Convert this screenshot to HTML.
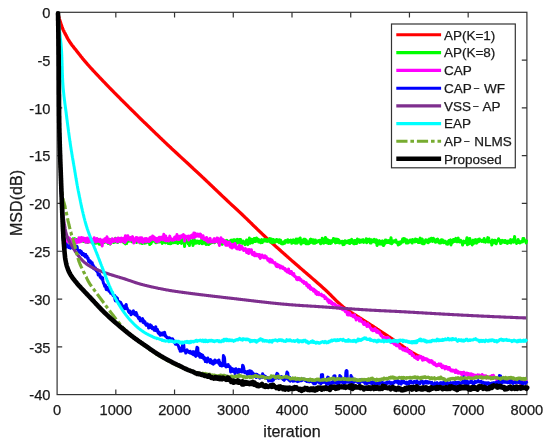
<!DOCTYPE html>
<html><head><meta charset="utf-8"><title>MSD</title>
<style>html,body{margin:0;padding:0;background:#fff}svg{display:block}text{font-family:"Liberation Sans",sans-serif;fill:#1a1a1a;stroke:#1a1a1a;stroke-width:0.25px}</style></head><body>
<svg width="550" height="446" viewBox="0 0 550 446">
<rect width="550" height="446" fill="#fff"/>
<g stroke="#333" stroke-width="1.2" fill="none">
<rect x="57.1" y="12.3" width="469.8" height="382.3"/>
<path d="M115.82,394.6 v-5.1 M115.82,12.3 v5.1"/>
<path d="M174.55,394.6 v-5.1 M174.55,12.3 v5.1"/>
<path d="M233.27,394.6 v-5.1 M233.27,12.3 v5.1"/>
<path d="M292.00,394.6 v-5.1 M292.00,12.3 v5.1"/>
<path d="M350.73,394.6 v-5.1 M350.73,12.3 v5.1"/>
<path d="M409.45,394.6 v-5.1 M409.45,12.3 v5.1"/>
<path d="M468.17,394.6 v-5.1 M468.17,12.3 v5.1"/>
<path d="M57.1,60.09 h5.1 M526.9,60.09 h-5.1"/>
<path d="M57.1,107.88 h5.1 M526.9,107.88 h-5.1"/>
<path d="M57.1,155.66 h5.1 M526.9,155.66 h-5.1"/>
<path d="M57.1,203.45 h5.1 M526.9,203.45 h-5.1"/>
<path d="M57.1,251.24 h5.1 M526.9,251.24 h-5.1"/>
<path d="M57.1,299.03 h5.1 M526.9,299.03 h-5.1"/>
<path d="M57.1,346.81 h5.1 M526.9,346.81 h-5.1"/>
</g>
<defs><clipPath id="c"><rect x="54.1" y="9.3" width="475.8" height="388.3"/></clipPath></defs>
<g fill="none" stroke-linejoin="round" stroke-linecap="butt" clip-path="url(#c)">
<path d="M57.8,13.1 L57.8,13.3 L57.9,13.7 L58.0,14.0 L58.1,14.4 L58.2,14.8 L58.3,15.3 L58.5,15.7 L58.6,16.2 L58.7,16.7 L58.9,17.1 L59.0,17.6 L59.2,18.1 L59.3,18.6 L59.4,19.0 L59.6,19.5 L59.7,20.0 L59.9,20.5 L60.0,21.0 L60.2,21.4 L60.3,21.9 L60.5,22.4 L60.6,22.9 L60.8,23.4 L60.9,23.8 L61.1,24.3 L61.2,24.8 L61.4,25.3 L61.6,25.7 L61.7,26.2 L61.9,26.7 L62.1,27.1 L62.2,27.6 L62.4,28.1 L62.6,28.5 L62.8,29.0 L63.0,29.4 L63.2,29.9 L63.4,30.3 L63.7,30.8 L63.9,31.2 L64.1,31.7 L64.3,32.1 L64.6,32.6 L64.8,33.0 L65.0,33.5 L65.2,33.9 L65.5,34.4 L65.7,34.8 L65.9,35.2 L66.2,35.7 L66.4,36.1 L66.6,36.6 L66.9,37.0 L67.1,37.5 L67.3,37.9 L67.6,38.3 L67.8,38.8 L68.1,39.2 L68.3,39.6 L68.6,40.1 L68.9,40.5 L69.1,40.9 L69.4,41.3 L69.7,41.8 L69.9,42.2 L70.2,42.6 L70.5,43.0 L70.8,43.4 L71.1,43.8 L71.3,44.2 L71.6,44.6 L71.9,45.0 L72.2,45.4 L72.5,45.8 L72.9,46.2 L73.2,46.6 L73.5,47.0 L73.8,47.4 L74.1,47.8 L74.4,48.2 L74.7,48.6 L75.0,49.0 L75.4,49.3 L75.7,49.7 L76.0,50.1 L76.3,50.5 L76.6,50.9 L76.9,51.3 L77.2,51.7 L77.5,52.1 L77.8,52.5 L78.2,52.9 L78.5,53.3 L78.8,53.7 L79.1,54.1 L79.4,54.4 L79.7,54.8 L80.0,55.2 L80.3,55.6 L80.6,56.0 L80.9,56.4 L81.2,56.8 L81.6,57.2 L81.9,57.6 L82.2,58.0 L82.5,58.4 L82.8,58.8 L83.1,59.1 L83.4,59.5 L83.8,59.9 L84.1,60.3 L84.4,60.7 L84.7,61.1 L85.1,61.4 L85.4,61.8 L85.7,62.2 L86.0,62.6 L86.4,62.9 L86.7,63.3 L87.0,63.7 L87.3,64.1 L87.7,64.5 L88.0,64.8 L88.3,65.2 L88.7,65.6 L89.0,65.9 L89.3,66.3 L89.7,66.7 L90.0,67.1 L90.3,67.4 L90.7,67.8 L91.0,68.2 L91.4,68.5 L91.7,68.9 L92.0,69.3 L92.4,69.6 L92.7,70.0 L93.0,70.4 L93.4,70.7 L93.7,71.1 L94.1,71.5 L94.4,71.8 L94.8,72.2 L95.1,72.6 L95.4,72.9 L95.8,73.3 L96.1,73.7 L96.5,74.0 L96.8,74.4 L97.1,74.8 L97.5,75.1 L97.8,75.5 L98.2,75.9 L98.5,76.2 L98.9,76.6 L99.2,77.0 L99.5,77.3 L99.9,77.7 L100.2,78.0 L100.6,78.4 L100.9,78.8 L101.3,79.1 L101.6,79.5 L102.0,79.9 L102.3,80.2 L102.6,80.6 L103.0,80.9 L103.3,81.3 L103.7,81.7 L104.0,82.0 L104.4,82.4 L104.7,82.7 L105.1,83.1 L105.4,83.5 L105.8,83.8 L106.1,84.2 L106.5,84.5 L106.8,84.9 L107.1,85.3 L107.5,85.6 L107.8,86.0 L108.2,86.3 L108.5,86.7 L108.9,87.1 L109.2,87.4 L109.6,87.8 L109.9,88.1 L110.3,88.5 L110.6,88.8 L111.0,89.2 L111.3,89.6 L111.7,89.9 L112.0,90.3 L112.4,90.6 L112.7,91.0 L113.1,91.3 L113.4,91.7 L113.8,92.1 L114.1,92.4 L114.5,92.8 L114.8,93.1 L115.2,93.5 L115.6,93.8 L115.9,94.2 L116.3,94.5 L116.6,94.9 L117.0,95.3 L117.3,95.6 L117.7,96.0 L118.0,96.3 L118.4,96.7 L118.7,97.0 L119.1,97.4 L119.4,97.7 L119.8,98.1 L120.1,98.4 L120.5,98.8 L120.8,99.2 L121.2,99.5 L121.5,99.9 L121.9,100.2 L122.3,100.6 L122.6,100.9 L123.0,101.3 L123.3,101.6 L123.7,102.0 L124.0,102.3 L124.4,102.7 L124.7,103.0 L125.1,103.4 L125.4,103.7 L125.8,104.1 L126.2,104.5 L126.5,104.8 L126.9,105.2 L127.2,105.5 L127.6,105.9 L127.9,106.2 L128.3,106.6 L128.6,106.9 L129.0,107.3 L129.3,107.6 L129.7,108.0 L130.1,108.3 L130.4,108.7 L130.8,109.0 L131.1,109.4 L131.5,109.7 L131.8,110.1 L132.2,110.4 L132.5,110.8 L132.9,111.1 L133.2,111.5 L133.6,111.8 L134.0,112.2 L134.3,112.5 L134.7,112.9 L135.0,113.3 L135.4,113.6 L135.7,114.0 L136.1,114.3 L136.5,114.7 L136.8,115.0 L137.2,115.4 L137.5,115.7 L137.9,116.1 L138.2,116.4 L138.6,116.8 L138.9,117.1 L139.3,117.5 L139.7,117.8 L140.0,118.2 L140.4,118.5 L140.7,118.9 L141.1,119.2 L141.4,119.6 L141.8,119.9 L142.2,120.3 L142.5,120.6 L142.9,121.0 L143.2,121.3 L143.6,121.7 L144.0,122.0 L144.3,122.4 L144.7,122.7 L145.0,123.0 L145.4,123.4 L145.7,123.7 L146.1,124.1 L146.5,124.4 L146.8,124.8 L147.2,125.1 L147.5,125.5 L147.9,125.8 L148.3,126.2 L148.6,126.5 L149.0,126.9 L149.3,127.2 L149.7,127.6 L150.1,127.9 L150.4,128.3 L150.8,128.6 L151.1,129.0 L151.5,129.3 L151.8,129.7 L152.2,130.0 L152.6,130.4 L152.9,130.7 L153.3,131.1 L153.6,131.4 L154.0,131.7 L154.4,132.1 L154.7,132.4 L155.1,132.8 L155.4,133.1 L155.8,133.5 L156.2,133.8 L156.5,134.2 L156.9,134.5 L157.3,134.9 L157.6,135.2 L158.0,135.6 L158.3,135.9 L158.7,136.2 L159.1,136.6 L159.4,136.9 L159.8,137.3 L160.1,137.6 L160.5,138.0 L160.9,138.3 L161.2,138.7 L161.6,139.0 L162.0,139.4 L162.3,139.7 L162.7,140.0 L163.0,140.4 L163.4,140.7 L163.8,141.1 L164.1,141.4 L164.5,141.8 L164.8,142.1 L165.2,142.5 L165.6,142.8 L165.9,143.1 L166.3,143.5 L166.7,143.8 L167.0,144.2 L167.4,144.5 L167.7,144.9 L168.1,145.2 L168.5,145.6 L168.8,145.9 L169.2,146.2 L169.6,146.6 L169.9,146.9 L170.3,147.3 L170.7,147.6 L171.0,148.0 L171.4,148.3 L171.7,148.6 L172.1,149.0 L172.5,149.3 L172.8,149.7 L173.2,150.0 L173.6,150.3 L173.9,150.7 L174.3,151.0 L174.7,151.4 L175.0,151.7 L175.4,152.1 L175.8,152.4 L176.1,152.7 L176.5,153.1 L176.9,153.4 L177.2,153.7 L177.6,154.1 L178.0,154.4 L178.3,154.8 L178.7,155.1 L179.1,155.4 L179.4,155.8 L179.8,156.1 L180.2,156.5 L180.6,156.8 L180.9,157.1 L181.3,157.5 L181.7,157.8 L182.0,158.1 L182.4,158.5 L182.8,158.8 L183.1,159.2 L183.5,159.5 L183.9,159.8 L184.2,160.2 L184.6,160.5 L185.0,160.9 L185.3,161.2 L185.7,161.5 L186.1,161.9 L186.4,162.2 L186.8,162.6 L187.2,162.9 L187.5,163.2 L187.9,163.6 L188.3,163.9 L188.6,164.2 L189.0,164.6 L189.4,164.9 L189.7,165.3 L190.1,165.6 L190.5,165.9 L190.8,166.3 L191.2,166.6 L191.6,167.0 L191.9,167.3 L192.3,167.6 L192.7,168.0 L193.0,168.3 L193.4,168.7 L193.8,169.0 L194.1,169.4 L194.5,169.7 L194.9,170.0 L195.2,170.4 L195.6,170.7 L196.0,171.1 L196.3,171.4 L196.7,171.7 L197.1,172.1 L197.4,172.4 L197.8,172.8 L198.2,173.1 L198.5,173.4 L198.9,173.8 L199.3,174.1 L199.6,174.5 L200.0,174.8 L200.4,175.1 L200.7,175.5 L201.1,175.8 L201.5,176.2 L201.8,176.5 L202.2,176.9 L202.5,177.2 L202.9,177.5 L203.3,177.9 L203.6,178.2 L204.0,178.6 L204.4,178.9 L204.7,179.3 L205.1,179.6 L205.5,179.9 L205.8,180.3 L206.2,180.6 L206.6,181.0 L206.9,181.3 L207.3,181.7 L207.6,182.0 L208.0,182.3 L208.4,182.7 L208.7,183.0 L209.1,183.4 L209.5,183.7 L209.8,184.1 L210.2,184.4 L210.5,184.8 L210.9,185.1 L211.3,185.4 L211.6,185.8 L212.0,186.1 L212.3,186.5 L212.7,186.8 L213.1,187.2 L213.4,187.5 L213.8,187.9 L214.2,188.2 L214.5,188.6 L214.9,188.9 L215.2,189.3 L215.6,189.6 L216.0,189.9 L216.3,190.3 L216.7,190.6 L217.0,191.0 L217.4,191.3 L217.8,191.7 L218.1,192.0 L218.5,192.4 L218.8,192.7 L219.2,193.1 L219.6,193.4 L219.9,193.7 L220.3,194.1 L220.7,194.4 L221.0,194.8 L221.4,195.1 L221.7,195.5 L222.1,195.8 L222.5,196.2 L222.8,196.5 L223.2,196.8 L223.6,197.2 L223.9,197.5 L224.3,197.9 L224.6,198.2 L225.0,198.6 L225.4,198.9 L225.7,199.2 L226.1,199.6 L226.5,199.9 L226.8,200.3 L227.2,200.6 L227.6,201.0 L227.9,201.3 L228.3,201.6 L228.7,202.0 L229.0,202.3 L229.4,202.7 L229.8,203.0 L230.1,203.3 L230.5,203.7 L230.9,204.0 L231.2,204.4 L231.6,204.7 L232.0,205.0 L232.3,205.4 L232.7,205.7 L233.1,206.1 L233.4,206.4 L233.8,206.7 L234.2,207.1 L234.5,207.4 L234.9,207.8 L235.3,208.1 L235.6,208.4 L236.0,208.8 L236.4,209.1 L236.7,209.5 L237.1,209.8 L237.5,210.1 L237.8,210.5 L238.2,210.8 L238.6,211.2 L238.9,211.5 L239.3,211.8 L239.7,212.2 L240.0,212.5 L240.4,212.9 L240.7,213.2 L241.1,213.6 L241.5,213.9 L241.8,214.2 L242.2,214.6 L242.6,214.9 L242.9,215.3 L243.3,215.6 L243.6,216.0 L244.0,216.3 L244.4,216.7 L244.7,217.0 L245.1,217.4 L245.4,217.7 L245.8,218.0 L246.2,218.4 L246.5,218.7 L246.9,219.1 L247.2,219.4 L247.6,219.8 L248.0,220.1 L248.3,220.5 L248.7,220.8 L249.0,221.2 L249.4,221.5 L249.8,221.9 L250.1,222.2 L250.5,222.6 L250.8,222.9 L251.2,223.3 L251.6,223.6 L251.9,224.0 L252.3,224.3 L252.6,224.7 L253.0,225.0 L253.3,225.4 L253.7,225.7 L254.1,226.1 L254.4,226.4 L254.8,226.8 L255.1,227.1 L255.5,227.4 L255.9,227.8 L256.2,228.1 L256.6,228.5 L256.9,228.8 L257.3,229.2 L257.7,229.5 L258.0,229.9 L258.4,230.2 L258.7,230.6 L259.1,230.9 L259.5,231.3 L259.8,231.6 L260.2,232.0 L260.5,232.3 L260.9,232.6 L261.3,233.0 L261.6,233.3 L262.0,233.7 L262.4,234.0 L262.7,234.4 L263.1,234.7 L263.4,235.1 L263.8,235.4 L264.2,235.7 L264.5,236.1 L264.9,236.4 L265.3,236.8 L265.6,237.1 L266.0,237.5 L266.4,237.8 L266.7,238.1 L267.1,238.5 L267.5,238.8 L267.8,239.2 L268.2,239.5 L268.6,239.8 L268.9,240.2 L269.3,240.5 L269.7,240.8 L270.0,241.2 L270.4,241.5 L270.8,241.9 L271.1,242.2 L271.5,242.5 L271.9,242.9 L272.3,243.2 L272.6,243.5 L273.0,243.9 L273.4,244.2 L273.7,244.5 L274.1,244.9 L274.5,245.2 L274.9,245.5 L275.2,245.9 L275.6,246.2 L276.0,246.5 L276.3,246.9 L276.7,247.2 L277.1,247.5 L277.5,247.9 L277.8,248.2 L278.2,248.5 L278.6,248.9 L279.0,249.2 L279.3,249.5 L279.7,249.9 L280.1,250.2 L280.4,250.5 L280.8,250.9 L281.2,251.2 L281.6,251.5 L281.9,251.9 L282.3,252.2 L282.7,252.5 L283.1,252.9 L283.4,253.2 L283.8,253.5 L284.2,253.9 L284.6,254.2 L284.9,254.5 L285.3,254.9 L285.7,255.2 L286.1,255.5 L286.4,255.8 L286.8,256.2 L287.2,256.5 L287.6,256.8 L287.9,257.2 L288.3,257.5 L288.7,257.8 L289.1,258.2 L289.4,258.5 L289.8,258.8 L290.2,259.2 L290.6,259.5 L290.9,259.8 L291.3,260.2 L291.7,260.5 L292.1,260.8 L292.4,261.1 L292.8,261.5 L293.2,261.8 L293.6,262.1 L293.9,262.5 L294.3,262.8 L294.7,263.1 L295.1,263.4 L295.4,263.8 L295.8,264.1 L296.2,264.4 L296.6,264.8 L297.0,265.1 L297.3,265.4 L297.7,265.7 L298.1,266.1 L298.5,266.4 L298.8,266.7 L299.2,267.1 L299.6,267.4 L300.0,267.7 L300.4,268.0 L300.7,268.4 L301.1,268.7 L301.5,269.0 L301.9,269.3 L302.3,269.7 L302.6,270.0 L303.0,270.3 L303.4,270.6 L303.8,271.0 L304.1,271.3 L304.5,271.6 L304.9,272.0 L305.3,272.3 L305.7,272.6 L306.0,272.9 L306.4,273.3 L306.8,273.6 L307.2,273.9 L307.6,274.2 L307.9,274.6 L308.3,274.9 L308.7,275.2 L309.1,275.5 L309.5,275.9 L309.8,276.2 L310.2,276.5 L310.6,276.9 L311.0,277.2 L311.3,277.5 L311.7,277.8 L312.1,278.2 L312.5,278.5 L312.9,278.8 L313.2,279.1 L313.6,279.5 L314.0,279.8 L314.4,280.1 L314.7,280.5 L315.1,280.8 L315.5,281.1 L315.9,281.4 L316.2,281.8 L316.6,282.1 L317.0,282.4 L317.4,282.8 L317.7,283.1 L318.1,283.4 L318.5,283.8 L318.9,284.1 L319.2,284.4 L319.6,284.7 L320.0,285.1 L320.4,285.4 L320.7,285.7 L321.1,286.1 L321.5,286.4 L321.9,286.7 L322.2,287.1 L322.6,287.4 L323.0,287.7 L323.3,288.1 L323.7,288.4 L324.1,288.8 L324.5,289.1 L324.8,289.4 L325.2,289.8 L325.6,290.1 L325.9,290.4 L326.3,290.8 L326.7,291.1 L327.0,291.5 L327.4,291.8 L327.8,292.2 L328.1,292.5 L328.5,292.9 L328.8,293.2 L329.2,293.6 L329.5,293.9 L329.9,294.3 L330.3,294.6 L330.6,295.0 L331.0,295.3 L331.3,295.7 L331.7,296.0 L332.0,296.4 L332.4,296.8 L332.7,297.1 L333.1,297.5 L333.5,297.8 L333.8,298.2 L334.2,298.5 L334.5,298.9 L334.9,299.2 L335.2,299.6 L335.6,300.0 L335.9,300.3 L336.3,300.7 L336.7,301.0 L337.0,301.4 L337.4,301.7 L337.7,302.1 L338.1,302.4 L338.5,302.7 L338.8,303.1 L339.2,303.4 L339.6,303.8 L339.9,304.1 L340.3,304.4 L340.7,304.8 L341.0,305.1 L341.4,305.4 L341.8,305.7 L342.2,306.0 L342.6,306.4 L342.9,306.7 L343.3,307.0 L343.7,307.3 L344.1,307.6 L344.5,307.9 L344.9,308.2 L345.3,308.5 L345.7,308.8 L346.1,309.1 L346.5,309.4 L346.9,309.6 L347.3,309.9 L347.7,310.2 L348.1,310.5 L348.5,310.8 L349.0,311.0 L349.4,311.3 L349.8,311.6 L350.2,311.9 L350.6,312.1 L351.1,312.4 L351.5,312.7 L351.9,312.9 L352.3,313.2 L352.8,313.5 L353.2,313.7 L353.6,314.0 L354.0,314.3 L354.5,314.5 L354.9,314.8 L355.3,315.1 L355.8,315.3 L356.2,315.6 L356.6,315.9 L357.0,316.1 L357.5,316.4 L357.9,316.7 L358.3,316.9 L358.7,317.2 L359.2,317.5 L359.6,317.7 L360.0,318.0 L360.4,318.3 L360.8,318.5 L361.3,318.8 L361.7,319.1 L362.1,319.4 L362.5,319.6 L362.9,319.9 L363.4,320.2 L363.8,320.4 L364.2,320.7 L364.6,321.0 L365.1,321.2 L365.5,321.5 L365.9,321.8 L366.3,322.0 L366.7,322.3 L367.2,322.6 L367.6,322.8 L368.0,323.1 L368.4,323.4 L368.8,323.7 L369.3,323.9 L369.7,324.2 L370.1,324.5 L370.5,324.7 L370.9,325.0 L371.4,325.3 L371.8,325.6 L372.2,325.8 L372.6,326.1 L373.0,326.4 L373.5,326.6 L373.9,326.9 L374.3,327.2 L374.7,327.5 L375.1,327.7 L375.6,328.0 L376.0,328.3 L376.4,328.6 L376.8,328.8 L377.2,329.1 L377.7,329.4 L378.1,329.6 L378.5,329.9 L378.9,330.2 L379.3,330.5 L379.8,330.7 L380.2,331.0 L380.6,331.3 L381.0,331.6 L381.4,331.8 L381.8,332.1 L382.3,332.4 L382.7,332.7 L383.1,332.9 L383.5,333.2 L383.9,333.5 L384.4,333.8 L384.8,334.0 L385.2,334.3 L385.6,334.6 L386.0,334.9 L386.4,335.1 L386.9,335.4 L387.3,335.7 L387.7,336.0 L388.1,336.2 L388.5,336.5 L388.9,336.8 L389.4,337.1 L389.8,337.3 L390.2,337.6 L390.6,337.9 L391.0,338.2 L391.4,338.4 L391.9,338.7 L392.3,339.0 L392.7,339.3 L393.1,339.5 L393.5,339.8 L393.9,340.1 L394.4,340.4 L394.8,340.7 L395.2,340.9 L395.6,341.2 L396.0,341.5 L396.4,341.8 L396.8,342.1 L397.2,342.4 L397.7,342.7 L398.1,342.9 L398.5,343.2 L398.9,343.5 L399.3,343.8 L399.7,344.1 L400.1,344.4 L400.5,344.7 L400.9,345.0 L401.3,345.3 L401.7,345.5 L402.2,345.8 L402.6,346.1 L403.0,346.4 L403.4,346.7 L403.8,347.0 L404.2,347.3 L404.6,347.6 L405.0,347.8 L405.4,348.1 L405.9,348.4 L406.3,348.7 L406.7,349.0 L407.1,349.3 L407.5,349.5 L407.9,349.8 L408.3,350.1 L408.8,350.4 L409.2,350.6 L409.6,350.9 L410.0,351.2 L410.4,351.4 L410.9,351.7 L411.3,352.0 L411.7,352.2 L412.1,352.5 L412.6,352.7 L413.0,353.0 L413.4,353.3 L413.8,353.5 L414.3,353.8 L414.7,354.0 L415.1,354.2 L415.6,354.5 L416.0,354.7 L416.5,355.0 L416.9,355.2 L417.3,355.4 L417.8,355.7 L418.2,355.9 L418.7,356.1 L419.1,356.4 L419.6,356.6 L420.0,356.8 L420.5,357.0 L420.9,357.3 L421.3,357.5 L421.8,357.7" stroke="#ff0000" stroke-width="3.3"/>
<path d="M421.3,357.8 L421.8,358.0 L422.2,358.2 L422.7,358.5 L423.1,358.7 L423.6,358.9 L424.1,359.1 L424.5,359.3 L425.0,359.5 L425.4,359.7 L425.9,360.0 L426.3,360.2 L426.8,360.4 L427.2,360.6 L427.7,360.8 L428.1,361.0 L428.6,361.2 L429.0,361.4 L429.5,361.6 L430.0,361.8 L430.4,362.0 L430.9,362.2 L431.3,362.4 L431.8,362.6 L432.3,362.8 L432.7,363.0 L433.2,363.2 L433.6,363.4 L434.1,363.6 L434.6,363.8 L435.0,364.0 L435.5,364.2 L435.9,364.4 L436.4,364.5 L436.9,364.7 L437.3,364.9 L437.8,365.1 L438.3,365.3 L438.7,365.5 L439.2,365.6 L439.7,365.8 L440.1,366.0 L440.6,366.2 L441.1,366.4 L441.5,366.5 L442.0,366.7 L442.5,366.9 L442.9,367.1 L443.4,367.3 L443.9,367.4 L444.4,367.6 L444.8,367.8 L445.3,367.9 L445.8,368.1 L446.2,368.3 L446.7,368.4 L447.2,368.6 L447.7,368.7 L448.1,368.9 L448.6,369.0 L449.1,369.2 L449.6,369.3 L450.0,369.5 L450.5,369.6 L451.0,369.7 L451.5,369.9 L452.0,370.0 L452.5,370.1 L452.9,370.2 L453.4,370.4 L453.9,370.5 L454.4,370.6 L454.9,370.7 L455.4,370.8 L455.9,370.9 L456.3,371.0 L456.8,371.1 L457.3,371.2 L457.8,371.3 L458.3,371.5 L458.8,371.6 L459.3,371.7 L459.8,371.8 L460.3,371.9 L460.8,372.0 L461.2,372.1 L461.7,372.2 L462.2,372.3 L462.7,372.4 L463.2,372.5 L463.7,372.6 L464.2,372.7 L464.7,372.8 L465.2,372.9 L465.7,373.0 L466.1,373.1 L466.6,373.2 L467.1,373.3 L467.6,373.4 L468.1,373.5 L468.6,373.6 L469.1,373.7 L469.6,373.8 L470.1,373.9 L470.5,374.0 L471.0,374.1 L471.5,374.2 L472.0,374.3 L472.5,374.4 L473.0,374.5 L473.5,374.6 L474.0,374.7 L474.5,374.8 L475.0,374.9 L475.4,375.0 L475.9,375.1 L476.4,375.2 L476.9,375.2 L477.4,375.3 L477.9,375.4 L478.4,375.5 L478.9,375.6 L479.4,375.7 L479.9,375.7 L480.4,375.8 L480.9,375.9 L481.4,376.0 L481.9,376.1 L482.4,376.1 L482.8,376.2 L483.3,376.3 L483.8,376.4 L484.3,376.4 L484.8,376.5 L485.3,376.6 L485.8,376.7 L486.3,376.7 L486.8,376.8 L487.3,376.9 L487.8,377.0 L488.3,377.0 L488.8,377.1 L489.3,377.2 L489.8,377.3 L490.3,377.3 L490.8,377.4 L491.3,377.5 L491.7,377.6 L492.2,377.6 L492.7,377.7 L493.2,377.8 L493.7,377.9 L494.2,377.9 L494.7,378.0 L495.2,378.1 L495.7,378.2 L496.2,378.2 L496.7,378.3 L497.2,378.4 L497.7,378.5 L498.2,378.5 L498.7,378.6 L499.2,378.7 L499.7,378.8 L500.1,378.9 L500.6,378.9 L501.1,379.0 L501.6,379.1 L502.1,379.2 L502.6,379.3 L503.1,379.4 L503.6,379.5 L504.1,379.6 L504.6,379.7 L505.1,379.8 L505.5,379.9 L506.0,380.0 L506.5,380.1 L507.0,380.2 L507.5,380.3 L508.0,380.5 L508.5,380.6 L509.0,380.7 L509.5,380.8 L509.9,380.9 L510.4,381.0 L510.9,381.1 L511.4,381.2 L511.9,381.3 L512.4,381.4 L512.9,381.5 L513.4,381.5 L513.9,381.6 L514.4,381.7 L514.9,381.8 L515.4,381.8 L515.8,381.9 L516.3,381.9 L516.8,382.0 L517.3,382.1 L517.8,382.1 L518.3,382.2 L518.8,382.2 L519.3,382.3 L519.8,382.3 L520.3,382.4 L520.8,382.4 L521.3,382.4 L521.8,382.5 L522.3,382.5 L522.8,382.6 L523.3,382.6 L523.8,382.6 L524.2,382.7 L524.7,382.7 L525.1,382.7 L525.5,382.7 L525.8,382.7 L526.1,382.8 L526.3,382.8" stroke="#ff0000" stroke-width="1.6"/>
<path d="M58.2,12.3 L58.6,50.0 L59.2,120.0 L61.2,190.0 L62.3,215.0 L63.0,236.0 L63.4,240.6 L63.8,242.2 L64.2,242.1 L64.6,239.9 L65.0,240.1 L65.4,239.8 L65.8,241.1 L66.2,240.3 L66.6,241.2 L67.0,237.9 L67.4,242.3 L67.8,240.4 L68.2,241.6 L68.6,240.9 L69.0,241.0 L69.4,242.4 L69.8,243.1 L70.2,242.0 L70.6,242.2 L71.0,243.3 L71.4,241.3 L71.8,240.3 L72.2,242.4 L72.6,240.7 L73.0,238.8 L73.4,239.8 L73.8,240.0 L74.2,239.0 L74.6,238.7 L75.0,240.6 L75.4,241.8 L75.8,240.3 L76.2,239.6 L76.6,241.0 L77.0,241.3 L77.4,239.9 L77.8,240.9 L78.2,241.4 L78.6,239.8 L79.0,239.0 L79.4,240.5 L79.8,240.5 L80.2,241.7 L80.6,238.8 L81.0,239.7 L81.4,239.5 L81.8,238.3 L82.2,240.5 L82.6,240.8 L83.0,239.1 L83.4,241.6 L83.8,240.9 L84.2,240.8 L84.6,240.7 L85.0,241.6 L85.4,239.0 L85.8,241.7 L86.2,241.9 L86.6,239.1 L87.0,241.9 L87.4,241.2 L87.8,242.5 L88.2,240.9 L88.6,241.3 L89.0,241.6 L89.4,239.9 L89.8,241.6 L90.2,240.6 L90.6,241.2 L91.0,240.0 L91.4,242.1 L91.8,241.7 L92.2,240.9 L92.6,242.3 L93.0,243.4 L93.4,244.3 L93.8,240.2 L94.2,243.3 L94.6,242.7 L95.0,241.9 L95.4,240.6 L95.8,243.3 L96.2,240.0 L96.6,242.1 L97.0,243.0 L97.4,239.3 L97.8,241.0 L98.2,239.8 L98.6,241.8 L99.0,243.5 L99.4,244.3 L99.8,239.6 L100.2,241.2 L100.6,242.9 L101.0,244.2 L101.4,242.9 L101.8,241.6 L102.2,242.9 L102.6,242.6 L103.0,242.2 L103.4,241.4 L103.8,242.6 L104.2,242.2 L104.6,241.4 L105.0,240.9 L105.4,239.2 L105.8,240.0 L106.2,241.9 L106.6,240.0 L107.0,238.4 L107.4,242.0 L107.8,241.2 L108.2,243.4 L108.6,241.0 L109.0,240.5 L109.4,239.3 L109.8,242.7 L110.2,244.1 L110.6,239.7 L111.0,239.7 L111.4,241.2 L111.8,239.5 L112.2,240.3 L112.6,240.4 L113.0,241.3 L113.4,242.5 L113.8,241.2 L114.2,242.3 L114.6,240.6 L115.0,241.4 L115.4,238.3 L115.8,239.1 L116.2,241.9 L116.6,240.2 L117.0,241.6 L117.4,241.6 L117.8,242.5 L118.2,241.8 L118.6,241.8 L119.0,240.3 L119.4,239.4 L119.8,239.3 L120.2,239.6 L120.6,238.9 L121.0,239.8 L121.4,240.6 L121.8,241.2 L122.2,240.7 L122.6,238.9 L123.0,241.3 L123.4,241.7 L123.8,242.8 L124.2,242.2 L124.6,240.7 L125.0,240.6 L125.4,243.9 L125.8,242.2 L126.2,243.3 L126.6,243.5 L127.0,239.6 L127.4,240.9 L127.8,241.0 L128.2,241.2 L128.6,241.3 L129.0,241.0 L129.4,241.0 L129.8,239.0 L130.2,240.7 L130.6,240.0 L131.0,241.1 L131.4,240.3 L131.8,241.6 L132.2,241.8 L132.6,241.0 L133.0,240.9 L133.4,240.5 L133.8,239.8 L134.2,240.1 L134.6,239.8 L135.0,241.1 L135.4,240.8 L135.8,241.7 L136.2,239.6 L136.6,242.5 L137.0,240.6 L137.4,240.6 L137.8,241.2 L138.2,240.7 L138.6,241.7 L139.0,240.6 L139.4,240.0 L139.8,240.3 L140.2,242.9 L140.6,241.2 L141.0,239.7 L141.4,241.1 L141.8,239.2 L142.2,243.5 L142.6,239.5 L143.0,242.2 L143.4,242.4 L143.8,240.0 L144.2,242.3 L144.6,243.2 L145.0,242.5 L145.4,242.2 L145.8,243.0 L146.2,241.8 L146.6,241.9 L147.0,241.2 L147.4,242.0 L147.8,240.0 L148.2,242.3 L148.6,240.9 L149.0,240.5 L149.4,242.7 L149.8,244.6 L150.2,243.9 L150.6,242.2 L151.0,243.6 L151.4,241.9 L151.8,242.0 L152.2,241.9 L152.6,238.4 L153.0,241.2 L153.4,239.3 L153.8,239.5 L154.2,238.4 L154.6,238.3 L155.0,239.2 L155.4,241.6 L155.8,242.8 L156.2,241.0 L156.6,242.6 L157.0,241.1 L157.4,239.1 L157.8,241.7 L158.2,242.0 L158.6,240.8 L159.0,241.6 L159.4,241.9 L159.8,240.0 L160.2,239.2 L160.6,240.7 L161.0,240.8 L161.4,240.7 L161.8,242.5 L162.2,243.4 L162.6,240.7 L163.0,242.1 L163.4,242.3 L163.8,241.9 L164.2,242.1 L164.6,240.2 L165.0,241.5 L165.4,242.9 L165.8,241.3 L166.2,239.5 L166.6,241.1 L167.0,242.2 L167.4,241.4 L167.8,240.6 L168.2,243.5 L168.6,240.2 L169.0,242.5 L169.4,241.9 L169.8,240.5 L170.2,243.7 L170.6,242.7 L171.0,241.0 L171.4,243.4 L171.8,242.2 L172.2,240.2 L172.6,241.6 L173.0,242.5 L173.4,242.7 L173.8,241.9 L174.2,241.5 L174.6,241.9 L175.0,240.9 L175.4,242.6 L175.8,241.4 L176.2,241.6 L176.6,242.0 L177.0,240.1 L177.4,240.7 L177.8,243.6 L178.2,242.2 L178.6,241.5 L179.0,242.4 L179.4,241.4 L179.8,242.4 L180.2,241.2 L180.6,242.3 L181.0,239.9 L181.4,243.4 L181.8,241.0 L182.2,239.5 L182.6,241.2 L183.0,241.1 L183.4,241.9 L183.8,240.4 L184.2,242.4 L184.6,246.5 L185.0,240.4 L185.4,242.4 L185.8,241.6 L186.2,242.1 L186.6,239.5 L187.0,240.2 L187.4,242.1 L187.8,241.5 L188.2,243.7 L188.6,240.9 L189.0,242.1 L189.4,245.6 L189.8,241.0 L190.2,240.7 L190.6,241.7 L191.0,241.6 L191.4,242.7 L191.8,241.9 L192.2,240.9 L192.6,242.3 L193.0,245.5 L193.4,243.8 L193.8,238.7 L194.2,241.8 L194.6,240.5 L195.0,242.1 L195.4,240.8 L195.8,243.2 L196.2,241.9 L196.6,241.9 L197.0,241.2 L197.4,241.1 L197.8,241.7 L198.2,243.0 L198.6,242.1 L199.0,241.2 L199.4,243.4 L199.8,242.2 L200.2,242.0 L200.6,241.3 L201.0,241.7 L201.4,241.7 L201.8,239.1 L202.2,243.8 L202.6,243.1 L203.0,241.9 L203.4,243.3 L203.8,242.3 L204.2,242.1 L204.6,238.5 L205.0,241.4 L205.4,242.5 L205.8,244.0 L206.2,244.5 L206.6,244.3 L207.0,241.2 L207.4,240.1 L207.8,243.7 L208.2,243.2 L208.6,244.5 L209.0,243.1 L209.4,243.5 L209.8,241.2 L210.2,243.4 L210.6,242.1 L211.0,242.8 L211.4,242.7 L211.8,241.9 L212.2,242.3 L212.6,241.7 L213.0,242.5 L213.4,241.9 L213.8,240.4 L214.2,240.1 L214.6,242.8 L215.0,240.4 L215.4,241.8 L215.8,241.1 L216.2,240.0 L216.6,239.9 L217.0,241.2 L217.4,241.5 L217.8,242.1 L218.2,239.9 L218.6,240.9 L219.0,241.7 L219.4,244.0 L219.8,239.3 L220.2,242.9 L220.6,241.8 L221.0,243.1 L221.4,241.9 L221.8,243.0 L222.2,244.4 L222.6,242.7 L223.0,242.7 L223.4,242.5 L223.8,241.1 L224.2,242.6 L224.6,241.5 L225.0,240.7 L225.4,241.4 L225.8,241.0 L226.2,242.1 L226.6,241.0 L227.0,240.4 L227.4,242.9 L227.8,242.5 L228.2,243.0 L228.6,242.3 L229.0,241.5 L229.4,241.3 L229.8,241.5 L230.2,243.2 L230.6,242.2 L231.0,240.2 L231.4,242.0 L231.8,240.2 L232.2,242.1 L232.6,240.2 L233.0,240.1 L233.4,241.8 L233.8,241.6 L234.2,239.7 L234.6,242.7 L235.0,244.5 L235.4,239.9 L235.8,244.0 L236.2,240.8 L236.6,240.9 L237.0,241.1 L237.4,239.4 L237.8,242.7 L238.2,241.6 L238.6,240.2 L239.0,240.9 L239.4,239.5 L239.8,241.2 L240.2,242.9 L240.6,239.6 L241.0,241.2 L241.4,241.9 L241.8,243.1 L242.2,243.4 L242.6,241.2 L243.0,241.0 L243.4,242.6 L243.8,241.7 L244.2,241.9 L244.6,243.8 L245.0,244.6 L245.4,242.9 L245.8,242.3 L246.2,243.2 L246.6,240.0 L247.0,242.1 L247.4,240.6 L247.8,244.7 L248.2,242.4 L248.6,241.5 L249.0,241.0 L249.4,238.1 L249.8,242.1 L250.2,243.3 L250.6,240.4 L251.0,242.1 L251.4,242.1 L251.8,239.2 L252.2,242.2 L252.6,242.6 L253.0,241.1 L253.4,240.6 L253.8,241.5 L254.2,238.4 L254.6,240.3 L255.0,241.5 L255.4,238.6 L255.8,241.5 L256.2,239.9 L256.6,237.9 L257.0,240.5 L257.4,239.5 L257.8,241.1 L258.2,239.2 L258.6,242.0 L259.0,239.8 L259.4,241.2 L259.8,240.2 L260.2,240.7 L260.6,242.7 L261.0,241.5 L261.4,240.7 L261.8,239.6 L262.2,242.6 L262.6,242.0 L263.0,240.6 L263.4,241.2 L263.8,239.6 L264.2,239.5 L264.6,239.6 L265.0,241.0 L265.4,240.8 L265.8,239.5 L266.2,241.2 L266.6,241.2 L267.0,240.4 L267.4,241.4 L267.8,239.7 L268.2,239.9 L268.6,240.6 L269.0,240.0 L269.4,241.1 L269.8,238.6 L270.2,242.0 L270.6,239.4 L271.0,240.3 L271.4,239.0 L271.8,241.7 L272.2,242.7 L272.6,242.7 L273.0,242.5 L273.4,239.6 L273.8,240.5 L274.2,240.8 L274.6,240.0 L275.0,242.3 L275.4,241.0 L275.8,240.6 L276.2,241.2 L276.6,239.5 L277.0,239.6 L277.4,239.8 L277.8,241.6 L278.2,241.5 L278.6,241.9 L279.0,242.6 L279.4,239.7 L279.8,240.9 L280.2,241.9 L280.6,240.3 L281.0,241.5 L281.4,243.6 L281.8,243.8 L282.2,243.9 L282.6,242.7 L283.0,242.3 L283.4,243.8 L283.8,241.8 L284.2,242.4 L284.6,243.3 L285.0,241.0 L285.4,240.5 L285.8,241.2 L286.2,242.0 L286.6,241.9 L287.0,241.6 L287.4,242.3 L287.8,239.8 L288.2,240.9 L288.6,242.3 L289.0,241.0 L289.4,240.5 L289.8,240.5 L290.2,240.7 L290.6,241.4 L291.0,240.1 L291.4,241.6 L291.8,243.3 L292.2,241.0 L292.6,242.8 L293.0,241.6 L293.4,239.9 L293.8,241.1 L294.2,240.3 L294.6,242.5 L295.0,240.2 L295.4,243.2 L295.8,242.3 L296.2,238.9 L296.6,242.3 L297.0,243.2 L297.4,240.2 L297.8,242.4 L298.2,238.9 L298.6,241.5 L299.0,239.1 L299.4,241.9 L299.8,239.1 L300.2,238.0 L300.6,241.8 L301.0,244.1 L301.4,240.4 L301.8,242.1 L302.2,241.0 L302.6,240.4 L303.0,241.5 L303.4,242.7 L303.8,239.2 L304.2,241.5 L304.6,241.4 L305.0,239.2 L305.4,243.1 L305.8,243.6 L306.2,240.1 L306.6,243.7 L307.0,241.7 L307.4,241.6 L307.8,243.8 L308.2,242.2 L308.6,242.2 L309.0,243.6 L309.4,243.1 L309.8,242.5 L310.2,239.5 L310.6,239.2 L311.0,242.6 L311.4,240.1 L311.8,241.4 L312.2,239.9 L312.6,241.0 L313.0,239.7 L313.4,243.3 L313.8,240.1 L314.2,241.3 L314.6,241.3 L315.0,243.2 L315.4,240.0 L315.8,241.8 L316.2,241.5 L316.6,242.4 L317.0,242.2 L317.4,241.0 L317.8,241.7 L318.2,240.8 L318.6,241.8 L319.0,241.0 L319.4,240.3 L319.8,241.0 L320.2,241.4 L320.6,243.8 L321.0,240.3 L321.4,241.3 L321.8,242.8 L322.2,238.3 L322.6,238.7 L323.0,239.2 L323.4,240.3 L323.8,243.2 L324.2,240.5 L324.6,241.5 L325.0,239.9 L325.4,237.5 L325.8,238.0 L326.2,242.5 L326.6,241.7 L327.0,240.0 L327.4,243.1 L327.8,239.8 L328.2,243.1 L328.6,243.5 L329.0,240.9 L329.4,240.6 L329.8,243.3 L330.2,241.0 L330.6,243.5 L331.0,240.8 L331.4,243.1 L331.8,242.0 L332.2,241.0 L332.6,240.2 L333.0,241.4 L333.4,238.6 L333.8,240.6 L334.2,240.4 L334.6,241.7 L335.0,239.2 L335.4,242.9 L335.8,240.2 L336.2,239.1 L336.6,242.2 L337.0,242.5 L337.4,240.2 L337.8,239.3 L338.2,240.6 L338.6,239.8 L339.0,240.4 L339.4,243.0 L339.8,241.7 L340.2,241.6 L340.6,242.0 L341.0,241.6 L341.4,242.8 L341.8,242.9 L342.2,241.3 L342.6,241.9 L343.0,244.8 L343.4,242.3 L343.8,241.6 L344.2,244.4 L344.6,242.0 L345.0,240.7 L345.4,243.0 L345.8,241.1 L346.2,241.6 L346.6,242.7 L347.0,242.0 L347.4,241.1 L347.8,241.2 L348.2,240.9 L348.6,242.9 L349.0,240.4 L349.4,240.4 L349.8,243.5 L350.2,240.2 L350.6,242.7 L351.0,242.5 L351.4,240.8 L351.8,239.4 L352.2,241.9 L352.6,242.5 L353.0,243.1 L353.4,242.2 L353.8,243.6 L354.2,243.8 L354.6,240.6 L355.0,243.5 L355.4,241.7 L355.8,240.6 L356.2,240.8 L356.6,243.6 L357.0,242.5 L357.4,239.1 L357.8,241.5 L358.2,241.3 L358.6,241.3 L359.0,240.9 L359.4,239.8 L359.8,242.6 L360.2,240.3 L360.6,240.9 L361.0,240.5 L361.4,240.1 L361.8,241.9 L362.2,241.3 L362.6,240.0 L363.0,239.7 L363.4,240.4 L363.8,242.4 L364.2,241.6 L364.6,241.9 L365.0,241.3 L365.4,241.3 L365.8,241.7 L366.2,238.8 L366.6,242.7 L367.0,239.3 L367.4,239.3 L367.8,241.6 L368.2,240.3 L368.6,240.3 L369.0,239.9 L369.4,239.1 L369.8,241.6 L370.2,243.0 L370.6,240.3 L371.0,243.0 L371.4,239.7 L371.8,240.0 L372.2,241.4 L372.6,240.8 L373.0,241.8 L373.4,240.2 L373.8,240.1 L374.2,239.3 L374.6,240.4 L375.0,240.8 L375.4,240.5 L375.8,242.7 L376.2,241.5 L376.6,239.9 L377.0,245.5 L377.4,241.4 L377.8,240.9 L378.2,244.1 L378.6,244.0 L379.0,241.1 L379.4,240.7 L379.8,241.3 L380.2,244.0 L380.6,242.2 L381.0,241.7 L381.4,242.7 L381.8,244.2 L382.2,241.0 L382.6,242.3 L383.0,241.1 L383.4,245.6 L383.8,245.2 L384.2,244.1 L384.6,242.7 L385.0,243.5 L385.4,239.9 L385.8,242.7 L386.2,240.4 L386.6,240.3 L387.0,241.0 L387.4,241.3 L387.8,242.5 L388.2,242.6 L388.6,242.1 L389.0,240.6 L389.4,242.6 L389.8,241.6 L390.2,243.1 L390.6,240.3 L391.0,237.8 L391.4,240.6 L391.8,243.8 L392.2,241.7 L392.6,240.9 L393.0,242.4 L393.4,242.0 L393.8,242.0 L394.2,240.8 L394.6,241.6 L395.0,241.7 L395.4,240.7 L395.8,240.1 L396.2,241.6 L396.6,242.7 L397.0,242.4 L397.4,242.3 L397.8,242.4 L398.2,245.1 L398.6,242.3 L399.0,243.3 L399.4,244.4 L399.8,241.9 L400.2,241.9 L400.6,242.7 L401.0,243.3 L401.4,241.4 L401.8,241.3 L402.2,240.9 L402.6,239.1 L403.0,241.9 L403.4,240.2 L403.8,238.4 L404.2,240.6 L404.6,238.8 L405.0,240.0 L405.4,241.5 L405.8,240.5 L406.2,243.0 L406.6,239.8 L407.0,241.8 L407.4,242.0 L407.8,243.0 L408.2,242.1 L408.6,241.1 L409.0,240.8 L409.4,240.6 L409.8,242.1 L410.2,239.9 L410.6,241.4 L411.0,240.7 L411.4,241.1 L411.8,240.3 L412.2,243.1 L412.6,239.4 L413.0,240.3 L413.4,240.2 L413.8,240.7 L414.2,240.7 L414.6,240.9 L415.0,241.9 L415.4,239.1 L415.8,241.1 L416.2,239.6 L416.6,241.4 L417.0,239.5 L417.4,239.7 L417.8,240.7 L418.2,242.5 L418.6,241.4 L419.0,241.1 L419.4,242.5 L419.8,239.6 L420.2,238.1 L420.6,240.2 L421.0,240.3 L421.4,242.2 L421.8,243.3 L422.2,238.9 L422.6,243.7 L423.0,242.5 L423.4,241.6 L423.8,241.0 L424.2,243.7 L424.6,241.0 L425.0,240.5 L425.4,241.4 L425.8,239.7 L426.2,242.0 L426.6,241.3 L427.0,241.8 L427.4,241.7 L427.8,239.9 L428.2,242.8 L428.6,239.8 L429.0,242.1 L429.4,239.0 L429.8,241.5 L430.2,240.0 L430.6,241.1 L431.0,240.2 L431.4,238.2 L431.8,239.5 L432.2,240.9 L432.6,241.5 L433.0,238.9 L433.4,238.2 L433.8,239.9 L434.2,240.8 L434.6,240.4 L435.0,240.2 L435.4,242.2 L435.8,242.2 L436.2,241.8 L436.6,239.6 L437.0,240.8 L437.4,240.6 L437.8,239.1 L438.2,242.1 L438.6,241.3 L439.0,240.7 L439.4,243.1 L439.8,242.4 L440.2,242.5 L440.6,242.9 L441.0,242.3 L441.4,239.7 L441.8,240.7 L442.2,242.4 L442.6,240.0 L443.0,241.0 L443.4,241.4 L443.8,242.7 L444.2,242.6 L444.6,242.2 L445.0,241.1 L445.4,242.7 L445.8,242.5 L446.2,241.9 L446.6,244.0 L447.0,243.1 L447.4,241.7 L447.8,244.2 L448.2,242.2 L448.6,243.2 L449.0,240.5 L449.4,242.3 L449.8,241.1 L450.2,241.1 L450.6,239.9 L451.0,244.9 L451.4,241.8 L451.8,242.1 L452.2,243.0 L452.6,241.3 L453.0,241.9 L453.4,239.4 L453.8,241.3 L454.2,240.4 L454.6,241.4 L455.0,240.9 L455.4,238.9 L455.8,238.4 L456.2,239.5 L456.6,241.8 L457.0,241.6 L457.4,241.8 L457.8,238.9 L458.2,238.1 L458.6,240.7 L459.0,241.1 L459.4,240.8 L459.8,242.0 L460.2,241.4 L460.6,240.2 L461.0,240.7 L461.4,242.1 L461.8,242.1 L462.2,242.0 L462.6,245.1 L463.0,242.0 L463.4,242.5 L463.8,241.1 L464.2,241.8 L464.6,242.8 L465.0,242.7 L465.4,241.6 L465.8,242.2 L466.2,241.8 L466.6,239.4 L467.0,237.7 L467.4,244.8 L467.8,243.1 L468.2,242.0 L468.6,239.9 L469.0,240.5 L469.4,243.7 L469.8,238.4 L470.2,241.4 L470.6,242.9 L471.0,242.0 L471.4,242.8 L471.8,241.7 L472.2,244.9 L472.6,240.6 L473.0,240.2 L473.4,242.1 L473.8,243.4 L474.2,241.4 L474.6,242.6 L475.0,240.4 L475.4,239.5 L475.8,242.7 L476.2,243.0 L476.6,243.1 L477.0,240.7 L477.4,239.8 L477.8,239.7 L478.2,240.7 L478.6,241.6 L479.0,241.4 L479.4,238.9 L479.8,240.8 L480.2,240.6 L480.6,240.7 L481.0,240.5 L481.4,240.3 L481.8,241.4 L482.2,240.9 L482.6,241.1 L483.0,240.1 L483.4,241.6 L483.8,241.0 L484.2,238.5 L484.6,241.8 L485.0,240.8 L485.4,242.2 L485.8,240.8 L486.2,240.7 L486.6,240.8 L487.0,240.3 L487.4,239.5 L487.8,237.6 L488.2,242.1 L488.6,237.9 L489.0,239.6 L489.4,241.1 L489.8,241.1 L490.2,241.6 L490.6,242.1 L491.0,242.9 L491.4,241.7 L491.8,245.0 L492.2,240.1 L492.6,241.6 L493.0,240.8 L493.4,240.5 L493.8,241.5 L494.2,242.9 L494.6,240.2 L495.0,240.2 L495.4,242.0 L495.8,241.9 L496.2,243.7 L496.6,242.6 L497.0,241.5 L497.4,240.6 L497.8,241.1 L498.2,240.3 L498.6,238.7 L499.0,240.3 L499.4,240.2 L499.8,240.4 L500.2,240.5 L500.6,243.5 L501.0,242.5 L501.4,242.9 L501.8,241.0 L502.2,240.4 L502.6,241.1 L503.0,241.6 L503.4,240.8 L503.8,240.9 L504.2,242.5 L504.6,241.8 L505.0,240.5 L505.4,241.5 L505.8,241.5 L506.2,242.8 L506.6,241.2 L507.0,242.4 L507.4,243.4 L507.8,242.4 L508.2,241.0 L508.6,241.2 L509.0,241.9 L509.4,242.2 L509.8,242.5 L510.2,241.1 L510.6,239.6 L511.0,243.0 L511.4,241.5 L511.8,241.7 L512.2,241.6 L512.6,239.9 L513.0,240.7 L513.4,241.3 L513.8,242.1 L514.2,240.7 L514.6,236.5 L515.0,240.0 L515.4,240.7 L515.8,241.9 L516.2,241.2 L516.6,243.4 L517.0,242.2 L517.4,242.3 L517.8,242.0 L518.2,239.4 L518.6,242.5 L519.0,242.5 L519.4,241.4 L519.8,243.0 L520.2,242.9 L520.6,241.7 L521.0,242.0 L521.4,241.6 L521.8,242.0 L522.2,240.9 L522.6,241.8 L523.0,238.5 L523.4,240.3 L523.8,238.4 L524.2,239.8 L524.6,241.0 L525.0,240.5 L525.4,240.5 L525.8,240.9 L526.2,242.9 L526.6,239.6" stroke="#00ff00" stroke-width="3.0"/>
<path d="M58.2,12.3 L58.6,50.0 L59.2,120.0 L61.2,190.0 L62.3,215.0 L63.0,236.0 L63.4,238.9 L63.8,239.1 L64.2,239.3 L64.6,239.1 L65.0,239.0 L65.4,242.5 L65.8,241.5 L66.2,240.0 L66.6,240.4 L67.0,242.5 L67.4,241.6 L67.8,241.3 L68.2,239.1 L68.6,240.2 L69.0,239.1 L69.4,238.0 L69.8,242.3 L70.2,240.6 L70.6,240.6 L71.0,239.9 L71.4,242.6 L71.8,244.6 L72.2,242.4 L72.6,242.8 L73.0,239.5 L73.4,241.5 L73.8,241.5 L74.2,243.3 L74.6,241.0 L75.0,239.5 L75.4,240.8 L75.8,240.3 L76.2,243.1 L76.6,242.0 L77.0,241.5 L77.4,241.3 L77.8,242.3 L78.2,240.2 L78.6,239.4 L79.0,237.7 L79.4,242.0 L79.8,240.6 L80.2,240.5 L80.6,239.3 L81.0,241.6 L81.4,237.6 L81.8,240.9 L82.2,238.0 L82.6,238.8 L83.0,237.9 L83.4,240.0 L83.8,239.7 L84.2,240.9 L84.6,239.4 L85.0,238.3 L85.4,241.2 L85.8,242.3 L86.2,241.5 L86.6,240.3 L87.0,241.1 L87.4,237.9 L87.8,240.0 L88.2,242.3 L88.6,241.3 L89.0,239.3 L89.4,241.8 L89.8,240.3 L90.2,241.5 L90.6,238.1 L91.0,239.3 L91.4,240.4 L91.8,240.3 L92.2,240.6 L92.6,239.7 L93.0,239.4 L93.4,240.5 L93.8,241.2 L94.2,237.7 L94.6,239.6 L95.0,239.9 L95.4,240.6 L95.8,242.0 L96.2,238.7 L96.6,241.6 L97.0,238.4 L97.4,240.0 L97.8,240.6 L98.2,241.1 L98.6,240.8 L99.0,241.0 L99.4,241.4 L99.8,241.6 L100.2,239.3 L100.6,240.0 L101.0,241.4 L101.4,242.7 L101.8,243.3 L102.2,245.9 L102.6,241.6 L103.0,240.1 L103.4,241.4 L103.8,242.0 L104.2,241.1 L104.6,239.1 L105.0,240.4 L105.4,240.4 L105.8,238.2 L106.2,238.4 L106.6,241.9 L107.0,236.8 L107.4,240.4 L107.8,239.8 L108.2,242.4 L108.6,241.3 L109.0,239.3 L109.4,242.5 L109.8,239.9 L110.2,243.7 L110.6,243.2 L111.0,240.5 L111.4,241.7 L111.8,240.6 L112.2,238.8 L112.6,241.5 L113.0,240.3 L113.4,240.7 L113.8,240.9 L114.2,241.2 L114.6,240.6 L115.0,238.9 L115.4,239.1 L115.8,239.6 L116.2,238.8 L116.6,238.7 L117.0,241.8 L117.4,239.7 L117.8,241.8 L118.2,237.9 L118.6,239.0 L119.0,238.4 L119.4,238.4 L119.8,238.5 L120.2,238.7 L120.6,238.3 L121.0,241.7 L121.4,240.1 L121.8,238.1 L122.2,238.6 L122.6,240.7 L123.0,240.6 L123.4,239.0 L123.8,241.4 L124.2,237.9 L124.6,239.3 L125.0,242.5 L125.4,235.8 L125.8,239.2 L126.2,240.8 L126.6,238.9 L127.0,237.8 L127.4,237.6 L127.8,235.8 L128.2,237.0 L128.6,239.2 L129.0,238.4 L129.4,239.4 L129.8,239.4 L130.2,240.2 L130.6,237.4 L131.0,239.5 L131.4,239.5 L131.8,239.5 L132.2,238.6 L132.6,236.6 L133.0,240.7 L133.4,240.9 L133.8,243.1 L134.2,240.6 L134.6,241.8 L135.0,240.2 L135.4,238.6 L135.8,239.9 L136.2,237.4 L136.6,239.4 L137.0,239.0 L137.4,237.7 L137.8,241.2 L138.2,241.2 L138.6,240.3 L139.0,240.9 L139.4,242.2 L139.8,239.6 L140.2,237.7 L140.6,238.3 L141.0,240.8 L141.4,240.2 L141.8,237.7 L142.2,241.9 L142.6,240.3 L143.0,242.4 L143.4,241.7 L143.8,239.3 L144.2,240.1 L144.6,238.8 L145.0,238.6 L145.4,239.4 L145.8,240.6 L146.2,241.9 L146.6,238.5 L147.0,240.8 L147.4,239.7 L147.8,239.3 L148.2,241.1 L148.6,238.9 L149.0,241.4 L149.4,238.8 L149.8,237.9 L150.2,240.5 L150.6,237.2 L151.0,237.6 L151.4,239.0 L151.8,239.2 L152.2,238.6 L152.6,235.9 L153.0,236.7 L153.4,239.4 L153.8,239.4 L154.2,237.1 L154.6,239.1 L155.0,239.2 L155.4,240.6 L155.8,238.2 L156.2,241.6 L156.6,239.1 L157.0,241.9 L157.4,241.2 L157.8,238.3 L158.2,239.3 L158.6,240.1 L159.0,241.1 L159.4,237.3 L159.8,238.4 L160.2,239.9 L160.6,239.6 L161.0,237.2 L161.4,237.3 L161.8,239.3 L162.2,237.1 L162.6,238.9 L163.0,239.8 L163.4,238.4 L163.8,234.3 L164.2,240.0 L164.6,240.0 L165.0,240.4 L165.4,239.7 L165.8,236.1 L166.2,240.9 L166.6,239.5 L167.0,240.5 L167.4,238.8 L167.8,238.6 L168.2,238.4 L168.6,240.9 L169.0,238.7 L169.4,237.8 L169.8,236.1 L170.2,238.8 L170.6,238.2 L171.0,238.6 L171.4,240.1 L171.8,239.9 L172.2,239.0 L172.6,239.5 L173.0,239.3 L173.4,240.2 L173.8,240.0 L174.2,239.0 L174.6,237.3 L175.0,239.6 L175.4,239.5 L175.8,236.4 L176.2,238.4 L176.6,237.2 L177.0,234.6 L177.4,237.9 L177.8,239.5 L178.2,237.0 L178.6,237.1 L179.0,239.6 L179.4,236.3 L179.8,236.3 L180.2,236.9 L180.6,238.0 L181.0,237.7 L181.4,235.7 L181.8,235.8 L182.2,236.3 L182.6,235.5 L183.0,234.8 L183.4,234.6 L183.8,237.5 L184.2,236.3 L184.6,241.1 L185.0,237.9 L185.4,235.9 L185.8,237.0 L186.2,237.4 L186.6,237.4 L187.0,237.4 L187.4,237.3 L187.8,236.4 L188.2,237.7 L188.6,240.0 L189.0,236.1 L189.4,236.2 L189.8,237.7 L190.2,238.2 L190.6,237.3 L191.0,237.6 L191.4,235.5 L191.8,235.0 L192.2,236.2 L192.6,236.3 L193.0,237.9 L193.4,237.9 L193.8,233.0 L194.2,237.1 L194.6,235.1 L195.0,233.1 L195.4,236.9 L195.8,236.1 L196.2,235.8 L196.6,234.4 L197.0,234.8 L197.4,235.9 L197.8,233.9 L198.2,235.9 L198.6,236.1 L199.0,235.6 L199.4,236.2 L199.8,235.6 L200.2,234.0 L200.6,234.4 L201.0,236.3 L201.4,237.9 L201.8,237.1 L202.2,236.7 L202.6,238.2 L203.0,235.7 L203.4,237.4 L203.8,238.7 L204.2,239.5 L204.6,239.4 L205.0,239.6 L205.4,238.3 L205.8,239.3 L206.2,240.5 L206.6,237.4 L207.0,238.2 L207.4,239.4 L207.8,242.1 L208.2,240.8 L208.6,242.1 L209.0,241.8 L209.4,239.2 L209.8,239.9 L210.2,238.4 L210.6,242.1 L211.0,241.5 L211.4,241.4 L211.8,241.6 L212.2,241.3 L212.6,240.9 L213.0,240.9 L213.4,242.2 L213.8,239.1 L214.2,238.6 L214.6,240.1 L215.0,241.8 L215.4,240.4 L215.8,239.8 L216.2,241.5 L216.6,240.7 L217.0,237.9 L217.4,239.6 L217.8,238.3 L218.2,241.3 L218.6,241.2 L219.0,242.7 L219.4,245.4 L219.8,241.4 L220.2,242.3 L220.6,241.6 L221.0,237.8 L221.4,240.7 L221.8,240.6 L222.2,241.9 L222.6,240.2 L223.0,239.5 L223.4,242.4 L223.8,241.6 L224.2,240.6 L224.6,241.1 L225.0,242.2 L225.4,244.2 L225.8,245.3 L226.2,241.5 L226.6,245.3 L227.0,243.7 L227.4,244.2 L227.8,245.1 L228.2,242.3 L228.6,245.0 L229.0,241.9 L229.4,243.3 L229.8,242.9 L230.2,246.9 L230.6,247.1 L231.0,246.1 L231.4,245.9 L231.8,244.5 L232.2,248.0 L232.6,247.4 L233.0,246.6 L233.4,244.9 L233.8,244.4 L234.2,244.7 L234.6,246.7 L235.0,243.5 L235.4,245.3 L235.8,247.8 L236.2,247.0 L236.6,248.6 L237.0,247.0 L237.4,247.3 L237.8,248.9 L238.2,248.0 L238.6,247.6 L239.0,246.5 L239.4,245.2 L239.8,249.5 L240.2,246.9 L240.6,246.6 L241.0,249.0 L241.4,246.8 L241.8,246.3 L242.2,247.6 L242.6,248.5 L243.0,249.2 L243.4,249.7 L243.8,250.5 L244.2,249.1 L244.6,249.8 L245.0,249.3 L245.4,248.6 L245.8,250.2 L246.2,250.3 L246.6,252.5 L247.0,251.1 L247.4,249.7 L247.8,251.7 L248.2,250.9 L248.6,253.6 L249.0,249.5 L249.4,251.0 L249.8,251.1 L250.2,252.1 L250.6,251.8 L251.0,249.9 L251.4,249.7 L251.8,252.5 L252.2,254.3 L252.6,254.6 L253.0,252.6 L253.4,254.0 L253.8,252.7 L254.2,252.3 L254.6,255.8 L255.0,255.3 L255.4,254.1 L255.8,254.1 L256.2,255.7 L256.6,255.0 L257.0,254.3 L257.4,255.2 L257.8,255.0 L258.2,254.8 L258.6,254.6 L259.0,256.8 L259.4,255.3 L259.8,254.7 L260.2,258.4 L260.6,257.9 L261.0,257.1 L261.4,256.5 L261.8,256.9 L262.2,255.0 L262.6,256.8 L263.0,257.2 L263.4,256.8 L263.8,257.7 L264.2,256.4 L264.6,257.7 L265.0,255.8 L265.4,257.7 L265.8,257.2 L266.2,256.6 L266.6,257.9 L267.0,258.6 L267.4,258.2 L267.8,260.1 L268.2,258.6 L268.6,260.7 L269.0,260.7 L269.4,259.4 L269.8,261.9 L270.2,259.1 L270.6,261.4 L271.0,261.1 L271.4,262.1 L271.8,259.9 L272.2,260.5 L272.6,261.2 L273.0,262.4 L273.4,262.7 L273.8,263.0 L274.2,263.0 L274.6,262.9 L275.0,262.5 L275.4,263.9 L275.8,265.2 L276.2,266.0 L276.6,264.7 L277.0,266.6 L277.4,264.3 L277.8,266.7 L278.2,265.0 L278.6,266.4 L279.0,265.3 L279.4,265.4 L279.8,265.9 L280.2,268.0 L280.6,266.0 L281.0,267.5 L281.4,267.2 L281.8,267.6 L282.2,267.9 L282.6,268.4 L283.0,266.9 L283.4,268.4 L283.8,269.0 L284.2,268.3 L284.6,269.5 L285.0,268.5 L285.4,270.4 L285.8,269.4 L286.2,270.1 L286.6,271.4 L287.0,271.9 L287.4,270.6 L287.8,270.7 L288.2,272.3 L288.6,268.9 L289.0,272.9 L289.4,273.0 L289.8,271.1 L290.2,273.4 L290.6,273.0 L291.0,273.5 L291.4,271.4 L291.8,273.5 L292.2,274.3 L292.6,274.5 L293.0,274.9 L293.4,275.4 L293.8,273.4 L294.2,275.9 L294.6,275.7 L295.0,276.5 L295.4,276.4 L295.8,277.1 L296.2,277.7 L296.6,279.3 L297.0,277.4 L297.4,279.7 L297.8,278.3 L298.2,277.9 L298.6,277.6 L299.0,279.6 L299.4,277.8 L299.8,280.0 L300.2,279.7 L300.6,279.3 L301.0,279.5 L301.4,280.7 L301.8,280.7 L302.2,281.6 L302.6,281.3 L303.0,281.2 L303.4,282.5 L303.8,281.4 L304.2,283.4 L304.6,283.1 L305.0,282.5 L305.4,282.8 L305.8,283.7 L306.2,282.7 L306.6,285.6 L307.0,285.6 L307.4,284.2 L307.8,285.4 L308.2,287.2 L308.6,286.6 L309.0,285.8 L309.4,285.3 L309.8,286.2 L310.2,288.9 L310.6,288.5 L311.0,287.5 L311.4,289.4 L311.8,288.7 L312.2,288.7 L312.6,288.9 L313.0,289.1 L313.4,291.0 L313.8,289.1 L314.2,289.8 L314.6,291.6 L315.0,292.1 L315.4,290.5 L315.8,293.5 L316.2,293.2 L316.6,291.5 L317.0,294.6 L317.4,292.2 L317.8,294.2 L318.2,292.9 L318.6,292.5 L319.0,294.8 L319.4,294.5 L319.8,294.3 L320.2,294.6 L320.6,294.6 L321.0,294.6 L321.4,294.2 L321.8,295.8 L322.2,295.6 L322.6,295.7 L323.0,295.7 L323.4,296.3 L323.8,295.5 L324.2,296.8 L324.6,296.5 L325.0,298.6 L325.4,297.0 L325.8,297.6 L326.2,298.2 L326.6,299.1 L327.0,299.1 L327.4,299.0 L327.8,301.1 L328.2,299.7 L328.6,300.4 L329.0,302.8 L329.4,300.3 L329.8,302.3 L330.2,302.3 L330.6,301.2 L331.0,302.2 L331.4,303.7 L331.8,302.1 L332.2,303.3 L332.6,304.4 L333.0,303.6 L333.4,304.2 L333.8,303.6 L334.2,303.8 L334.6,304.0 L335.0,304.4 L335.4,305.5 L335.8,305.2 L336.2,307.0 L336.6,306.0 L337.0,306.0 L337.4,307.9 L337.8,306.2 L338.2,305.8 L338.6,306.9 L339.0,306.1 L339.4,307.6 L339.8,308.5 L340.2,308.1 L340.6,307.3 L341.0,307.7 L341.4,308.3 L341.8,309.1 L342.2,308.0 L342.6,308.2 L343.0,309.8 L343.4,309.4 L343.8,309.9 L344.2,310.3 L344.6,309.7 L345.0,310.5 L345.4,311.8 L345.8,311.2 L346.2,311.5 L346.6,312.2 L347.0,312.7 L347.4,314.7 L347.8,312.3 L348.2,313.3 L348.6,315.1 L349.0,313.7 L349.4,314.2 L349.8,312.9 L350.2,315.1 L350.6,315.2 L351.0,315.4 L351.4,314.8 L351.8,315.5 L352.2,315.3 L352.6,316.3 L353.0,315.9 L353.4,316.8 L353.8,315.3 L354.2,316.4 L354.6,314.7 L355.0,317.2 L355.4,318.2 L355.8,317.7 L356.2,320.1 L356.6,317.6 L357.0,318.4 L357.4,318.1 L357.8,318.6 L358.2,318.7 L358.6,318.0 L359.0,318.5 L359.4,321.1 L359.8,319.4 L360.2,320.7 L360.6,319.2 L361.0,320.5 L361.4,321.4 L361.8,321.3 L362.2,321.4 L362.6,322.1 L363.0,322.7 L363.4,323.7 L363.8,324.4 L364.2,322.6 L364.6,322.2 L365.0,323.9 L365.4,324.2 L365.8,324.9 L366.2,325.3 L366.6,324.0 L367.0,326.4 L367.4,325.2 L367.8,323.8 L368.2,326.3 L368.6,326.1 L369.0,326.4 L369.4,325.3 L369.8,326.8 L370.2,327.6 L370.6,327.8 L371.0,328.9 L371.4,329.7 L371.8,330.1 L372.2,330.1 L372.6,329.2 L373.0,330.8 L373.4,329.8 L373.8,330.4 L374.2,329.7 L374.6,328.9 L375.0,328.5 L375.4,330.7 L375.8,330.3 L376.2,331.1 L376.6,332.1 L377.0,330.4 L377.4,330.5 L377.8,332.4 L378.2,332.8 L378.6,332.6 L379.0,332.7 L379.4,332.1 L379.8,333.7 L380.2,333.5 L380.6,334.9 L381.0,335.7 L381.4,334.8 L381.8,336.0 L382.2,336.2 L382.6,336.9 L383.0,337.9 L383.4,337.5 L383.8,337.8 L384.2,338.1 L384.6,337.3 L385.0,337.8 L385.4,338.2 L385.8,339.0 L386.2,339.2 L386.6,340.1 L387.0,337.5 L387.4,338.5 L387.8,337.3 L388.2,338.6 L388.6,338.0 L389.0,340.6 L389.4,340.6 L389.8,339.4 L390.2,340.9 L390.6,341.5 L391.0,342.6 L391.4,342.1 L391.8,341.8 L392.2,341.8 L392.6,342.7 L393.0,342.7 L393.4,342.3 L393.8,342.0 L394.2,344.1 L394.6,343.0 L395.0,343.7 L395.4,344.8 L395.8,344.4 L396.2,345.6 L396.6,344.0 L397.0,345.8 L397.4,344.3 L397.8,344.4 L398.2,345.0 L398.6,346.3 L399.0,346.0 L399.4,345.8 L399.8,348.3 L400.2,346.8 L400.6,347.8 L401.0,348.3 L401.4,347.9 L401.8,348.8 L402.2,349.2 L402.6,348.8 L403.0,349.9 L403.4,348.9 L403.8,348.8 L404.2,350.1 L404.6,349.3 L405.0,350.6 L405.4,350.4 L405.8,350.1 L406.2,351.0 L406.6,351.1 L407.0,348.3 L407.4,350.7 L407.8,351.3 L408.2,351.9 L408.6,351.4 L409.0,351.2 L409.4,352.7 L409.8,353.5 L410.2,351.5 L410.6,352.3 L411.0,353.4 L411.4,352.0 L411.8,354.0 L412.2,355.5 L412.6,354.2 L413.0,355.5 L413.4,354.9 L413.8,356.3 L414.2,356.7 L414.6,357.4 L415.0,356.7 L415.4,357.7 L415.8,357.4 L416.2,356.8 L416.6,358.6 L417.0,356.9 L417.4,357.6 L417.8,359.5 L418.2,358.1 L418.6,356.7 L419.0,357.6 L419.4,356.9 L419.8,357.3 L420.2,356.2 L420.6,357.8 L421.0,356.5 L421.4,358.2 L421.8,358.4 L422.2,359.0 L422.6,360.3 L423.0,357.2 L423.4,357.7 L423.8,358.0 L424.2,358.4 L424.6,359.7 L425.0,358.8 L425.4,358.7 L425.8,358.5 L426.2,359.1 L426.6,359.4 L427.0,360.0 L427.4,359.1 L427.8,360.5 L428.2,361.3 L428.6,361.3 L429.0,360.2 L429.4,362.1 L429.8,362.2 L430.2,361.9 L430.6,360.7 L431.0,360.6 L431.4,361.9 L431.8,361.2 L432.2,361.1 L432.6,363.2 L433.0,363.4 L433.4,363.5 L433.8,364.3 L434.2,364.2 L434.6,362.7 L435.0,364.8 L435.4,364.2 L435.8,364.6 L436.2,365.7 L436.6,364.9 L437.0,365.9 L437.4,364.8 L437.8,364.5 L438.2,364.4 L438.6,365.0 L439.0,363.8 L439.4,365.3 L439.8,365.4 L440.2,365.2 L440.6,364.0 L441.0,364.2 L441.4,366.8 L441.8,365.6 L442.2,367.7 L442.6,366.2 L443.0,367.3 L443.4,365.9 L443.8,366.7 L444.2,367.2 L444.6,367.9 L445.0,368.9 L445.4,368.4 L445.8,366.4 L446.2,367.6 L446.6,367.5 L447.0,367.2 L447.4,368.2 L447.8,369.1 L448.2,367.5 L448.6,368.9 L449.0,369.3 L449.4,367.4 L449.8,370.0 L450.2,370.2 L450.6,369.4 L451.0,370.9 L451.4,370.0 L451.8,371.1 L452.2,371.0 L452.6,370.0 L453.0,371.2 L453.4,371.1 L453.8,370.9 L454.2,370.5 L454.6,370.9 L455.0,370.6 L455.4,372.6 L455.8,370.1 L456.2,371.8 L456.6,371.3 L457.0,370.9 L457.4,372.6 L457.8,371.4 L458.2,373.2 L458.6,372.2 L459.0,372.7 L459.4,372.4 L459.8,373.1 L460.2,373.4 L460.6,372.4 L461.0,372.8 L461.4,374.3 L461.8,372.5 L462.2,374.6 L462.6,373.0 L463.0,373.0 L463.4,372.2 L463.8,373.0 L464.2,372.4 L464.6,373.5 L465.0,374.6 L465.4,374.1 L465.8,373.7 L466.2,373.4 L466.6,373.7 L467.0,373.1 L467.4,373.3 L467.8,375.9 L468.2,374.6 L468.6,373.6 L469.0,375.0 L469.4,375.8 L469.8,374.1 L470.2,374.7 L470.6,373.9 L471.0,373.8 L471.4,376.5 L471.8,378.3 L472.2,375.0 L472.6,374.3 L473.0,376.7 L473.4,376.4 L473.8,375.8 L474.2,376.6 L474.6,375.1 L475.0,375.7 L475.4,376.2 L475.8,375.4 L476.2,376.2 L476.6,375.8 L477.0,376.5 L477.4,376.4 L477.8,374.7 L478.2,376.4 L478.6,375.2 L479.0,375.7 L479.4,375.0 L479.8,377.0 L480.2,376.1 L480.6,376.0 L481.0,377.3 L481.4,376.8 L481.8,376.0 L482.2,374.5 L482.6,376.7 L483.0,376.0 L483.4,375.9 L483.8,376.8 L484.2,375.7 L484.6,376.1 L485.0,376.9 L485.4,376.7 L485.8,375.7 L486.2,377.5 L486.6,377.3 L487.0,378.0 L487.4,376.6 L487.8,376.9 L488.2,377.8 L488.6,377.4 L489.0,377.2 L489.4,377.0 L489.8,376.8 L490.2,376.5 L490.6,376.4 L491.0,377.2 L491.4,376.5 L491.8,375.6 L492.2,376.7 L492.6,378.1 L493.0,377.9 L493.4,375.2 L493.8,376.3 L494.2,377.8 L494.6,377.5 L495.0,377.7 L495.4,377.8 L495.8,378.2 L496.2,377.6 L496.6,379.6 L497.0,378.1 L497.4,379.0 L497.8,380.6 L498.2,380.3 L498.6,379.5 L499.0,379.4 L499.4,378.9 L499.8,378.9 L500.2,379.0 L500.6,380.2 L501.0,378.8 L501.4,379.6 L501.8,379.5 L502.2,379.6 L502.6,379.1 L503.0,380.0 L503.4,379.6 L503.8,379.6 L504.2,379.2 L504.6,377.8 L505.0,380.2 L505.4,380.3 L505.8,379.4 L506.2,379.8 L506.6,380.3 L507.0,379.4 L507.4,380.9 L507.8,381.0 L508.2,381.2 L508.6,381.2 L509.0,378.8 L509.4,380.7 L509.8,379.9 L510.2,381.1 L510.6,381.0 L511.0,380.9 L511.4,380.2 L511.8,382.6 L512.2,380.4 L512.6,379.7 L513.0,381.5 L513.4,379.6 L513.8,382.6 L514.2,382.1 L514.6,382.5 L515.0,382.4 L515.4,382.0 L515.8,380.7 L516.2,381.3 L516.6,382.2 L517.0,381.5 L517.4,381.8 L517.8,380.9 L518.2,380.7 L518.6,381.5 L519.0,381.9 L519.4,381.3 L519.8,380.7 L520.2,380.3 L520.6,383.5 L521.0,381.1 L521.4,381.4 L521.8,381.6 L522.2,383.0 L522.6,381.6 L523.0,382.7 L523.4,382.4 L523.8,381.2 L524.2,382.2 L524.6,381.1 L525.0,381.9 L525.4,382.6 L525.8,381.8 L526.2,381.2 L526.6,381.6 L527.0,381.8" stroke="#ff00ff" stroke-width="3.0"/>
<path d="M58.2,12.3 L58.6,50.0 L59.2,120.0 L61.2,190.0 L62.3,215.0 L63.0,236.0 L63.4,241.0 L63.8,239.6 L64.2,239.4 L64.6,243.8 L65.0,243.1 L65.4,243.7 L65.8,247.3 L66.2,246.1 L66.6,245.9 L67.0,244.9 L67.4,246.1 L67.8,246.0 L68.2,245.5 L68.6,247.5 L69.0,247.0 L69.4,247.1 L69.8,245.8 L70.2,246.1 L70.6,248.2 L71.0,247.2 L71.4,246.2 L71.8,247.2 L72.2,246.9 L72.6,246.5 L73.0,247.0 L73.4,248.4 L73.8,248.2 L74.2,247.2 L74.6,247.6 L75.0,248.9 L75.4,247.6 L75.8,248.9 L76.2,248.6 L76.6,247.4 L77.0,246.4 L77.4,248.4 L77.8,249.6 L78.2,250.0 L78.6,251.7 L79.0,250.5 L79.4,250.6 L79.8,251.3 L80.2,250.6 L80.6,253.3 L81.0,251.3 L81.4,251.5 L81.8,252.5 L82.2,254.8 L82.6,253.2 L83.0,253.2 L83.4,254.9 L83.8,255.6 L84.2,254.0 L84.6,255.5 L85.0,254.3 L85.4,256.9 L85.8,254.6 L86.2,255.9 L86.6,256.2 L87.0,256.2 L87.4,257.7 L87.8,259.2 L88.2,258.1 L88.6,261.7 L89.0,260.5 L89.4,261.2 L89.8,260.5 L90.2,261.8 L90.6,263.3 L91.0,261.7 L91.4,262.5 L91.8,262.8 L92.2,262.8 L92.6,265.6 L93.0,264.9 L93.4,268.4 L93.8,266.2 L94.2,268.0 L94.6,269.2 L95.0,268.6 L95.4,267.8 L95.8,269.8 L96.2,270.8 L96.6,270.1 L97.0,271.7 L97.4,269.7 L97.8,272.5 L98.2,274.9 L98.6,274.2 L99.0,274.8 L99.4,274.0 L99.8,274.7 L100.2,277.2 L100.6,276.3 L101.0,278.0 L101.4,276.8 L101.8,279.0 L102.2,279.5 L102.6,277.7 L103.0,281.0 L103.4,282.8 L103.8,283.7 L104.2,284.4 L104.6,286.2 L105.0,285.3 L105.4,285.1 L105.8,287.5 L106.2,289.4 L106.6,287.2 L107.0,289.7 L107.4,288.3 L107.8,287.3 L108.2,288.3 L108.6,288.6 L109.0,291.2 L109.4,290.3 L109.8,290.0 L110.2,291.3 L110.6,293.2 L111.0,292.0 L111.4,291.8 L111.8,293.4 L112.2,292.5 L112.6,294.5 L113.0,295.6 L113.4,295.3 L113.8,295.3 L114.2,296.6 L114.6,295.5 L115.0,299.5 L115.4,300.9 L115.8,298.8 L116.2,296.9 L116.6,298.8 L117.0,298.4 L117.4,298.3 L117.8,300.7 L118.2,301.2 L118.6,301.2 L119.0,303.6 L119.4,302.8 L119.8,301.9 L120.2,303.8 L120.6,302.2 L121.0,303.7 L121.4,303.7 L121.8,305.6 L122.2,305.6 L122.6,305.9 L123.0,307.3 L123.4,307.9 L123.8,307.8 L124.2,308.7 L124.6,306.1 L125.0,307.5 L125.4,308.7 L125.8,306.8 L126.2,304.5 L126.6,308.4 L127.0,307.6 L127.4,309.1 L127.8,309.4 L128.2,310.5 L128.6,311.9 L129.0,311.4 L129.4,312.7 L129.8,310.9 L130.2,311.7 L130.6,312.8 L131.0,314.8 L131.4,312.2 L131.8,312.7 L132.2,313.8 L132.6,312.4 L133.0,311.5 L133.4,310.8 L133.8,313.9 L134.2,312.0 L134.6,314.0 L135.0,314.6 L135.4,313.2 L135.8,315.2 L136.2,312.6 L136.6,315.2 L137.0,314.6 L137.4,316.4 L137.8,316.9 L138.2,317.5 L138.6,318.6 L139.0,317.7 L139.4,317.3 L139.8,318.0 L140.2,320.9 L140.6,318.9 L141.0,319.9 L141.4,320.8 L141.8,320.3 L142.2,319.6 L142.6,318.6 L143.0,322.4 L143.4,321.2 L143.8,320.5 L144.2,322.1 L144.6,323.4 L145.0,321.6 L145.4,324.4 L145.8,324.5 L146.2,325.3 L146.6,325.1 L147.0,324.3 L147.4,323.9 L147.8,325.8 L148.2,325.7 L148.6,328.1 L149.0,326.1 L149.4,326.9 L149.8,326.6 L150.2,324.7 L150.6,327.6 L151.0,326.5 L151.4,325.6 L151.8,327.8 L152.2,328.8 L152.6,327.5 L153.0,327.6 L153.4,327.5 L153.8,328.1 L154.2,330.2 L154.6,329.5 L155.0,330.1 L155.4,330.5 L155.8,326.7 L156.2,330.3 L156.6,330.9 L157.0,330.8 L157.4,329.4 L157.8,330.7 L158.2,333.0 L158.6,333.2 L159.0,333.7 L159.4,332.3 L159.8,333.9 L160.2,335.2 L160.6,333.6 L161.0,335.0 L161.4,334.5 L161.8,334.6 L162.2,333.0 L162.6,333.1 L163.0,333.1 L163.4,335.1 L163.8,335.1 L164.2,332.6 L164.6,332.4 L165.0,334.3 L165.4,336.1 L165.8,335.6 L166.2,336.7 L166.6,337.1 L167.0,337.8 L167.4,337.4 L167.8,338.4 L168.2,338.9 L168.6,338.3 L169.0,340.5 L169.4,337.7 L169.8,338.7 L170.2,338.3 L170.6,340.6 L171.0,340.8 L171.4,339.0 L171.8,340.1 L172.2,339.7 L172.6,338.9 L173.0,339.8 L173.4,341.3 L173.8,341.9 L174.2,340.8 L174.6,342.0 L175.0,343.2 L175.4,344.2 L175.8,343.5 L176.2,342.6 L176.6,342.2 L177.0,344.5 L177.4,344.6 L177.8,345.0 L178.2,345.6 L178.6,346.5 L179.0,348.0 L179.4,349.2 L179.8,348.0 L180.2,351.2 L180.6,350.8 L181.0,349.1 L181.4,349.7 L181.8,351.1 L182.2,348.6 L182.6,343.1 L183.0,343.3 L183.4,343.1 L183.8,345.3 L184.2,350.5 L184.6,351.1 L185.0,351.3 L185.4,351.2 L185.8,353.1 L186.2,351.3 L186.6,350.5 L187.0,349.8 L187.4,350.5 L187.8,351.6 L188.2,351.7 L188.6,352.1 L189.0,351.5 L189.4,352.7 L189.8,352.9 L190.2,351.2 L190.6,353.1 L191.0,353.2 L191.4,352.4 L191.8,353.8 L192.2,352.6 L192.6,351.7 L193.0,353.6 L193.4,354.7 L193.8,351.8 L194.2,353.4 L194.6,354.9 L195.0,355.0 L195.4,355.8 L195.8,356.3 L196.2,353.1 L196.6,349.8 L197.0,347.3 L197.4,348.0 L197.8,347.8 L198.2,355.5 L198.6,353.2 L199.0,355.1 L199.4,353.3 L199.8,357.2 L200.2,354.5 L200.6,355.3 L201.0,354.3 L201.4,355.2 L201.8,357.5 L202.2,356.5 L202.6,355.1 L203.0,356.0 L203.4,356.6 L203.8,359.0 L204.2,357.3 L204.6,358.5 L205.0,359.7 L205.4,361.6 L205.8,360.2 L206.2,358.6 L206.6,358.9 L207.0,362.0 L207.4,360.7 L207.8,358.1 L208.2,359.7 L208.6,359.8 L209.0,360.1 L209.4,361.4 L209.8,361.7 L210.2,362.8 L210.6,359.6 L211.0,362.3 L211.4,362.1 L211.8,361.4 L212.2,363.6 L212.6,361.3 L213.0,361.1 L213.4,364.2 L213.8,362.6 L214.2,362.8 L214.6,363.1 L215.0,360.0 L215.4,362.8 L215.8,361.3 L216.2,361.7 L216.6,361.9 L217.0,361.7 L217.4,360.7 L217.8,361.4 L218.2,361.9 L218.6,363.3 L219.0,360.1 L219.4,364.4 L219.8,362.0 L220.2,365.5 L220.6,363.8 L221.0,365.3 L221.4,363.4 L221.8,365.9 L222.2,364.8 L222.6,365.2 L223.0,365.5 L223.4,355.6 L223.8,356.8 L224.2,356.8 L224.6,358.6 L225.0,365.2 L225.4,366.3 L225.8,365.8 L226.2,366.9 L226.6,364.9 L227.0,366.4 L227.4,365.7 L227.8,365.2 L228.2,364.6 L228.6,366.6 L229.0,365.8 L229.4,366.5 L229.8,366.5 L230.2,366.9 L230.6,371.9 L231.0,369.4 L231.4,368.4 L231.8,369.9 L232.2,370.3 L232.6,368.7 L233.0,371.5 L233.4,369.3 L233.8,370.8 L234.2,369.7 L234.6,369.4 L235.0,373.9 L235.4,369.7 L235.8,368.7 L236.2,370.0 L236.6,369.6 L237.0,372.1 L237.4,371.5 L237.8,369.7 L238.2,373.0 L238.6,370.7 L239.0,369.4 L239.4,372.0 L239.8,371.6 L240.2,369.8 L240.6,369.8 L241.0,371.0 L241.4,370.6 L241.8,372.0 L242.2,371.8 L242.6,365.3 L243.0,365.5 L243.4,366.5 L243.8,368.2 L244.2,371.3 L244.6,372.7 L245.0,371.6 L245.4,372.8 L245.8,371.9 L246.2,373.0 L246.6,371.7 L247.0,371.8 L247.4,374.6 L247.8,373.5 L248.2,371.2 L248.6,373.7 L249.0,372.2 L249.4,373.6 L249.8,370.8 L250.2,371.9 L250.6,371.6 L251.0,371.4 L251.4,371.2 L251.8,374.7 L252.2,373.3 L252.6,373.5 L253.0,372.8 L253.4,376.0 L253.8,376.4 L254.2,375.4 L254.6,374.4 L255.0,376.4 L255.4,375.8 L255.8,374.3 L256.2,377.6 L256.6,376.1 L257.0,374.4 L257.4,374.6 L257.8,376.1 L258.2,376.6 L258.6,376.3 L259.0,376.4 L259.4,375.8 L259.8,378.2 L260.2,376.2 L260.6,376.7 L261.0,376.8 L261.4,376.1 L261.8,376.8 L262.2,377.3 L262.6,373.7 L263.0,375.4 L263.4,376.8 L263.8,377.1 L264.2,375.8 L264.6,377.1 L265.0,377.0 L265.4,377.1 L265.8,376.6 L266.2,378.0 L266.6,378.1 L267.0,378.5 L267.4,377.5 L267.8,377.6 L268.2,378.8 L268.6,381.1 L269.0,378.5 L269.4,379.0 L269.8,380.8 L270.2,378.6 L270.6,377.6 L271.0,380.6 L271.4,381.1 L271.8,381.1 L272.2,380.8 L272.6,380.7 L273.0,379.1 L273.4,380.2 L273.8,378.4 L274.2,377.7 L274.6,378.6 L275.0,377.6 L275.4,377.6 L275.8,377.8 L276.2,378.0 L276.6,374.3 L277.0,373.4 L277.4,373.7 L277.8,374.0 L278.2,378.1 L278.6,378.2 L279.0,378.2 L279.4,377.6 L279.8,377.7 L280.2,377.7 L280.6,377.1 L281.0,377.3 L281.4,376.6 L281.8,377.7 L282.2,378.6 L282.6,377.7 L283.0,379.5 L283.4,378.5 L283.8,379.8 L284.2,380.3 L284.6,379.2 L285.0,378.6 L285.4,379.1 L285.8,378.3 L286.2,377.8 L286.6,374.1 L287.0,372.0 L287.4,374.1 L287.8,373.0 L288.2,379.4 L288.6,378.5 L289.0,380.2 L289.4,378.6 L289.8,377.4 L290.2,381.2 L290.6,379.1 L291.0,379.0 L291.4,379.2 L291.8,379.0 L292.2,379.6 L292.6,378.9 L293.0,381.2 L293.4,379.3 L293.8,380.4 L294.2,381.0 L294.6,380.0 L295.0,380.8 L295.4,379.8 L295.8,379.5 L296.2,379.7 L296.6,381.2 L297.0,381.3 L297.4,380.1 L297.8,381.6 L298.2,380.2 L298.6,380.9 L299.0,381.2 L299.4,379.0 L299.8,380.9 L300.2,380.1 L300.6,379.2 L301.0,380.8 L301.4,380.6 L301.8,380.6 L302.2,380.1 L302.6,379.7 L303.0,379.1 L303.4,379.7 L303.8,379.0 L304.2,379.4 L304.6,380.1 L305.0,380.5 L305.4,380.5 L305.8,380.7 L306.2,380.5 L306.6,381.5 L307.0,381.6 L307.4,380.3 L307.8,380.2 L308.2,379.7 L308.6,380.1 L309.0,380.0 L309.4,381.9 L309.8,381.6 L310.2,379.7 L310.6,381.4 L311.0,380.8 L311.4,379.9 L311.8,381.6 L312.2,381.2 L312.6,382.2 L313.0,382.7 L313.4,382.1 L313.8,383.8 L314.2,382.9 L314.6,382.1 L315.0,381.2 L315.4,383.7 L315.8,381.2 L316.2,381.6 L316.6,381.7 L317.0,382.0 L317.4,380.4 L317.8,379.6 L318.2,381.4 L318.6,380.3 L319.0,381.2 L319.4,382.9 L319.8,381.0 L320.2,382.0 L320.6,380.7 L321.0,383.7 L321.4,374.7 L321.8,375.3 L322.2,375.0 L322.6,374.7 L323.0,382.5 L323.4,381.7 L323.8,381.3 L324.2,381.7 L324.6,382.1 L325.0,382.5 L325.4,382.7 L325.8,382.1 L326.2,382.5 L326.6,384.5 L327.0,383.1 L327.4,378.0 L327.8,377.1 L328.2,378.0 L328.6,377.6 L329.0,383.2 L329.4,384.3 L329.8,385.3 L330.2,385.4 L330.6,385.0 L331.0,383.5 L331.4,383.3 L331.8,382.3 L332.2,383.1 L332.6,383.2 L333.0,382.6 L333.4,381.8 L333.8,376.1 L334.2,375.9 L334.6,376.3 L335.0,375.9 L335.4,382.9 L335.8,382.3 L336.2,382.4 L336.6,381.3 L337.0,383.4 L337.4,383.4 L337.8,382.5 L338.2,384.2 L338.6,383.8 L339.0,383.9 L339.4,382.4 L339.8,375.6 L340.2,376.0 L340.6,376.4 L341.0,376.8 L341.4,381.6 L341.8,382.2 L342.2,380.8 L342.6,382.0 L343.0,382.8 L343.4,382.6 L343.8,383.9 L344.2,382.8 L344.6,382.1 L345.0,382.0 L345.4,382.8 L345.8,372.8 L346.2,370.6 L346.6,370.5 L347.0,371.0 L347.4,381.4 L347.8,382.1 L348.2,380.9 L348.6,381.3 L349.0,381.3 L349.4,381.6 L349.8,382.7 L350.2,380.9 L350.6,380.8 L351.0,375.6 L351.4,376.6 L351.8,377.1 L352.2,377.5 L352.6,382.9 L353.0,382.7 L353.4,381.1 L353.8,381.7 L354.2,382.1 L354.6,380.6 L355.0,380.8 L355.4,380.6 L355.8,381.2 L356.2,380.3 L356.6,379.9 L357.0,381.1 L357.4,381.4 L357.8,382.5 L358.2,381.6 L358.6,382.0 L359.0,381.8 L359.4,381.7 L359.8,383.4 L360.2,379.8 L360.6,381.8 L361.0,380.6 L361.4,381.1 L361.8,379.8 L362.2,381.0 L362.6,380.2 L363.0,381.2 L363.4,381.9 L363.8,380.2 L364.2,380.2 L364.6,382.5 L365.0,383.4 L365.4,382.2 L365.8,380.9 L366.2,381.3 L366.6,383.2 L367.0,383.7 L367.4,382.3 L367.8,381.3 L368.2,383.1 L368.6,381.3 L369.0,381.8 L369.4,381.9 L369.8,382.0 L370.2,382.9 L370.6,381.9 L371.0,382.8 L371.4,383.5 L371.8,383.5 L372.2,383.7 L372.6,382.5 L373.0,381.6 L373.4,383.0 L373.8,383.1 L374.2,383.3 L374.6,382.9 L375.0,383.6 L375.4,382.6 L375.8,383.9 L376.2,384.6 L376.6,383.4 L377.0,383.3 L377.4,383.6 L377.8,383.4 L378.2,383.3 L378.6,383.0 L379.0,382.5 L379.4,383.8 L379.8,381.7 L380.2,383.4 L380.6,382.0 L381.0,383.1 L381.4,382.2 L381.8,381.9 L382.2,382.4 L382.6,382.6 L383.0,384.4 L383.4,383.1 L383.8,383.1 L384.2,383.0 L384.6,383.7 L385.0,383.7 L385.4,384.1 L385.8,383.0 L386.2,382.5 L386.6,383.1 L387.0,383.6 L387.4,383.3 L387.8,381.9 L388.2,382.2 L388.6,382.8 L389.0,382.2 L389.4,381.8 L389.8,383.1 L390.2,382.9 L390.6,383.5 L391.0,384.0 L391.4,383.0 L391.8,382.5 L392.2,382.7 L392.6,383.7 L393.0,383.1 L393.4,383.4 L393.8,382.3 L394.2,382.8 L394.6,381.6 L395.0,381.2 L395.4,381.4 L395.8,381.2 L396.2,381.2 L396.6,381.5 L397.0,382.3 L397.4,381.3 L397.8,380.6 L398.2,382.4 L398.6,383.6 L399.0,383.1 L399.4,381.6 L399.8,382.9 L400.2,383.5 L400.6,383.4 L401.0,384.1 L401.4,383.3 L401.8,380.6 L402.2,382.9 L402.6,381.8 L403.0,381.5 L403.4,380.8 L403.8,381.1 L404.2,381.8 L404.6,382.9 L405.0,383.1 L405.4,382.9 L405.8,383.4 L406.2,382.4 L406.6,382.1 L407.0,384.2 L407.4,383.2 L407.8,382.6 L408.2,383.4 L408.6,382.2 L409.0,383.7 L409.4,381.4 L409.8,381.7 L410.2,381.8 L410.6,381.8 L411.0,381.1 L411.4,382.8 L411.8,382.8 L412.2,382.6 L412.6,383.0 L413.0,382.2 L413.4,383.1 L413.8,381.9 L414.2,381.4 L414.6,381.9 L415.0,381.8 L415.4,382.1 L415.8,382.4 L416.2,383.2 L416.6,381.0 L417.0,380.9 L417.4,382.4 L417.8,383.2 L418.2,383.1 L418.6,382.4 L419.0,382.4 L419.4,382.4 L419.8,383.9 L420.2,382.3 L420.6,382.4 L421.0,381.0 L421.4,382.3 L421.8,381.4 L422.2,381.3 L422.6,381.4 L423.0,381.7 L423.4,383.9 L423.8,382.7 L424.2,382.9 L424.6,382.1 L425.0,381.7 L425.4,381.3 L425.8,382.5 L426.2,383.0 L426.6,383.0 L427.0,381.6 L427.4,382.9 L427.8,381.9 L428.2,383.1 L428.6,382.1 L429.0,382.4 L429.4,382.0 L429.8,382.0 L430.2,382.6 L430.6,383.1 L431.0,383.3 L431.4,382.5 L431.8,382.4 L432.2,383.9 L432.6,384.8 L433.0,383.7 L433.4,383.8 L433.8,383.7 L434.2,384.1 L434.6,384.4 L435.0,382.9 L435.4,383.8 L435.8,384.5 L436.2,383.9 L436.6,383.0 L437.0,382.7 L437.4,383.9 L437.8,384.9 L438.2,384.6 L438.6,385.1 L439.0,383.8 L439.4,383.9 L439.8,383.1 L440.2,383.9 L440.6,383.2 L441.0,382.6 L441.4,382.7 L441.8,383.3 L442.2,383.5 L442.6,383.3 L443.0,384.4 L443.4,383.2 L443.8,382.0 L444.2,383.5 L444.6,382.2 L445.0,382.2 L445.4,383.7 L445.8,382.9 L446.2,383.5 L446.6,383.3 L447.0,383.6 L447.4,382.5 L447.8,384.4 L448.2,384.7 L448.6,383.6 L449.0,384.6 L449.4,384.3 L449.8,384.5 L450.2,384.7 L450.6,382.6 L451.0,384.0 L451.4,383.2 L451.8,383.7 L452.2,382.8 L452.6,384.4 L453.0,383.9 L453.4,382.6 L453.8,382.9 L454.2,382.8 L454.6,382.9 L455.0,383.6 L455.4,382.4 L455.8,382.2 L456.2,384.2 L456.6,383.7 L457.0,383.1 L457.4,383.0 L457.8,382.4 L458.2,383.2 L458.6,382.2 L459.0,383.5 L459.4,383.6 L459.8,382.9 L460.2,384.1 L460.6,383.8 L461.0,383.3 L461.4,382.5 L461.8,382.5 L462.2,382.3 L462.6,381.5 L463.0,382.9 L463.4,378.4 L463.8,376.9 L464.2,378.3 L464.6,378.0 L465.0,383.4 L465.4,383.9 L465.8,384.1 L466.2,383.0 L466.6,383.9 L467.0,382.9 L467.4,381.1 L467.8,384.2 L468.2,382.5 L468.6,382.0 L469.0,383.1 L469.4,382.5 L469.8,381.8 L470.2,382.4 L470.6,382.6 L471.0,382.3 L471.4,380.8 L471.8,382.8 L472.2,382.2 L472.6,382.3 L473.0,383.2 L473.4,384.8 L473.8,382.3 L474.2,383.3 L474.6,381.7 L475.0,381.3 L475.4,381.9 L475.8,382.5 L476.2,381.7 L476.6,381.5 L477.0,382.0 L477.4,381.4 L477.8,380.7 L478.2,380.6 L478.6,381.3 L479.0,381.9 L479.4,381.7 L479.8,381.9 L480.2,381.8 L480.6,381.6 L481.0,381.3 L481.4,381.5 L481.8,383.3 L482.2,382.8 L482.6,383.0 L483.0,382.2 L483.4,382.3 L483.8,383.3 L484.2,382.7 L484.6,384.0 L485.0,383.4 L485.4,383.9 L485.8,382.7 L486.2,384.5 L486.6,383.4 L487.0,383.8 L487.4,382.9 L487.8,383.1 L488.2,384.3 L488.6,382.7 L489.0,384.9 L489.4,383.6 L489.8,384.7 L490.2,383.5 L490.6,383.8 L491.0,383.8 L491.4,384.4 L491.8,383.1 L492.2,384.1 L492.6,383.8 L493.0,384.1 L493.4,382.8 L493.8,383.3 L494.2,382.7 L494.6,382.9 L495.0,384.0 L495.4,384.1 L495.8,382.5 L496.2,383.0 L496.6,382.9 L497.0,382.1 L497.4,382.5 L497.8,382.0 L498.2,383.2 L498.6,382.2 L499.0,384.0 L499.4,375.6 L499.8,377.3 L500.2,377.1 L500.6,376.0 L501.0,381.1 L501.4,382.3 L501.8,381.3 L502.2,383.1 L502.6,378.5 L503.0,378.4 L503.4,378.5 L503.8,378.8 L504.2,381.9 L504.6,382.1 L505.0,381.7 L505.4,380.8 L505.8,382.0 L506.2,382.4 L506.6,382.3 L507.0,381.9 L507.4,382.6 L507.8,381.6 L508.2,382.0 L508.6,381.9 L509.0,382.0 L509.4,382.8 L509.8,381.4 L510.2,381.3 L510.6,380.5 L511.0,381.2 L511.4,380.6 L511.8,382.6 L512.2,382.1 L512.6,383.0 L513.0,383.4 L513.4,382.9 L513.8,382.9 L514.2,382.8 L514.6,382.4 L515.0,381.2 L515.4,382.8 L515.8,382.1 L516.2,381.7 L516.6,381.7 L517.0,381.9 L517.4,382.2 L517.8,381.0 L518.2,380.8 L518.6,382.6 L519.0,382.3 L519.4,382.5 L519.8,381.7 L520.2,380.8 L520.6,382.8 L521.0,382.8 L521.4,381.6 L521.8,382.5 L522.2,383.2 L522.6,384.5 L523.0,383.7 L523.4,383.4 L523.8,382.9 L524.2,382.7 L524.6,383.0 L525.0,382.5 L525.4,383.4 L525.8,383.1 L526.2,382.8 L526.6,382.4 L527.0,383.2" stroke="#0000ff" stroke-width="3.0"/>
<path d="M58.2,13.3 L58.2,13.6 L58.2,13.9 L58.2,14.2 L58.2,14.6 L58.2,15.0 L58.2,15.4 L58.2,15.9 L58.2,16.4 L58.3,16.8 L58.3,17.3 L58.3,17.8 L58.3,18.3 L58.3,18.8 L58.3,19.3 L58.3,19.8 L58.3,20.3 L58.3,20.8 L58.3,21.3 L58.3,21.8 L58.3,22.3 L58.3,22.8 L58.3,23.3 L58.3,23.8 L58.3,24.3 L58.3,24.8 L58.3,25.3 L58.4,25.8 L58.4,26.3 L58.4,26.8 L58.4,27.3 L58.4,27.8 L58.4,28.3 L58.4,28.8 L58.4,29.3 L58.4,29.8 L58.4,30.3 L58.4,30.8 L58.4,31.3 L58.4,31.8 L58.4,32.3 L58.4,32.8 L58.4,33.3 L58.4,33.8 L58.4,34.3 L58.4,34.8 L58.5,35.3 L58.5,35.8 L58.5,36.3 L58.5,36.8 L58.5,37.3 L58.5,37.8 L58.5,38.3 L58.5,38.8 L58.5,39.3 L58.5,39.8 L58.5,40.3 L58.5,40.8 L58.5,41.3 L58.5,41.8 L58.5,42.3 L58.5,42.8 L58.5,43.3 L58.5,43.8 L58.5,44.3 L58.5,44.8 L58.6,45.3 L58.6,45.8 L58.6,46.3 L58.6,46.8 L58.6,47.3 L58.6,47.8 L58.6,48.3 L58.6,48.8 L58.6,49.3 L58.6,49.8 L58.6,50.3 L58.6,50.8 L58.6,51.3 L58.6,51.8 L58.6,52.3 L58.6,52.8 L58.6,53.3 L58.6,53.8 L58.6,54.3 L58.6,54.8 L58.6,55.3 L58.7,55.8 L58.7,56.3 L58.7,56.8 L58.7,57.3 L58.7,57.8 L58.7,58.3 L58.7,58.8 L58.7,59.3 L58.7,59.8 L58.7,60.3 L58.7,60.8 L58.7,61.3 L58.7,61.8 L58.7,62.3 L58.7,62.8 L58.7,63.3 L58.7,63.8 L58.7,64.3 L58.7,64.8 L58.7,65.3 L58.7,65.8 L58.7,66.3 L58.7,66.8 L58.7,67.3 L58.7,67.8 L58.7,68.3 L58.8,68.8 L58.8,69.3 L58.8,69.8 L58.8,70.3 L58.8,70.8 L58.8,71.3 L58.8,71.8 L58.8,72.3 L58.8,72.8 L58.8,73.3 L58.8,73.8 L58.8,74.3 L58.8,74.8 L58.8,75.3 L58.8,75.8 L58.8,76.3 L58.8,76.8 L58.8,77.3 L58.8,77.8 L58.8,78.3 L58.8,78.8 L58.8,79.3 L58.8,79.8 L58.8,80.3 L58.8,80.8 L58.8,81.3 L58.8,81.8 L58.8,82.3 L58.9,82.8 L58.9,83.3 L58.9,83.8 L58.9,84.3 L58.9,84.8 L58.9,85.3 L58.9,85.8 L58.9,86.3 L58.9,86.8 L58.9,87.3 L58.9,87.8 L58.9,88.3 L58.9,88.8 L58.9,89.3 L58.9,89.8 L58.9,90.3 L58.9,90.8 L58.9,91.3 L58.9,91.8 L58.9,92.3 L58.9,92.8 L58.9,93.3 L58.9,93.8 L58.9,94.3 L58.9,94.8 L58.9,95.3 L58.9,95.8 L59.0,96.3 L59.0,96.8 L59.0,97.3 L59.0,97.8 L59.0,98.3 L59.0,98.8 L59.0,99.3 L59.0,99.8 L59.0,100.3 L59.0,100.8 L59.0,101.3 L59.0,101.8 L59.0,102.3 L59.0,102.8 L59.0,103.3 L59.0,103.8 L59.0,104.3 L59.0,104.8 L59.0,105.3 L59.0,105.8 L59.0,106.3 L59.0,106.8 L59.1,107.3 L59.1,107.8 L59.1,108.3 L59.1,108.8 L59.1,109.3 L59.1,109.8 L59.1,110.3 L59.1,110.8 L59.1,111.3 L59.1,111.8 L59.1,112.3 L59.1,112.8 L59.1,113.3 L59.1,113.8 L59.1,114.3 L59.1,114.8 L59.1,115.3 L59.1,115.8 L59.2,116.3 L59.2,116.8 L59.2,117.3 L59.2,117.8 L59.2,118.3 L59.2,118.8 L59.2,119.3 L59.2,119.8 L59.2,120.3 L59.2,120.8 L59.2,121.3 L59.2,121.8 L59.2,122.3 L59.2,122.8 L59.2,123.3 L59.3,123.8 L59.3,124.3 L59.3,124.8 L59.3,125.3 L59.3,125.8 L59.3,126.3 L59.3,126.8 L59.3,127.3 L59.3,127.8 L59.3,128.3 L59.3,128.8 L59.3,129.3 L59.4,129.8 L59.4,130.3 L59.4,130.8 L59.4,131.3 L59.4,131.8 L59.4,132.3 L59.4,132.8 L59.4,133.3 L59.4,133.8 L59.4,134.3 L59.5,134.8 L59.5,135.3 L59.5,135.8 L59.5,136.3 L59.5,136.8 L59.5,137.3 L59.5,137.8 L59.5,138.3 L59.5,138.8 L59.6,139.3 L59.6,139.8 L59.6,140.3 L59.6,140.8 L59.6,141.3 L59.6,141.8 L59.6,142.3 L59.6,142.8 L59.7,143.3 L59.7,143.8 L59.7,144.3 L59.7,144.8 L59.7,145.3 L59.7,145.8 L59.7,146.3 L59.7,146.8 L59.8,147.3 L59.8,147.8 L59.8,148.3 L59.8,148.8 L59.8,149.3 L59.8,149.8 L59.8,150.3 L59.9,150.8 L59.9,151.3 L59.9,151.8 L59.9,152.3 L59.9,152.8 L59.9,153.3 L59.9,153.8 L60.0,154.3 L60.0,154.8 L60.0,155.3 L60.0,155.8 L60.0,156.3 L60.0,156.8 L60.0,157.3 L60.1,157.8 L60.1,158.3 L60.1,158.8 L60.1,159.3 L60.1,159.8 L60.1,160.3 L60.2,160.8 L60.2,161.3 L60.2,161.8 L60.2,162.3 L60.2,162.8 L60.2,163.3 L60.3,163.8 L60.3,164.3 L60.3,164.8 L60.3,165.3 L60.3,165.8 L60.3,166.3 L60.4,166.8 L60.4,167.3 L60.4,167.8 L60.4,168.3 L60.4,168.8 L60.5,169.3 L60.5,169.8 L60.5,170.3 L60.5,170.8 L60.5,171.3 L60.5,171.8 L60.6,172.3 L60.6,172.8 L60.6,173.3 L60.6,173.8 L60.6,174.3 L60.7,174.8 L60.7,175.3 L60.7,175.8 L60.7,176.3 L60.7,176.8 L60.8,177.3 L60.8,177.8 L60.8,178.3 L60.8,178.8 L60.8,179.3 L60.9,179.8 L60.9,180.3 L60.9,180.8 L60.9,181.3 L60.9,181.8 L61.0,182.3 L61.0,182.8 L61.0,183.3 L61.0,183.8 L61.1,184.3 L61.1,184.8 L61.1,185.3 L61.1,185.8 L61.1,186.3 L61.2,186.8 L61.2,187.3 L61.2,187.8 L61.2,188.3 L61.2,188.8 L61.3,189.3 L61.3,189.8 L61.3,190.3 L61.3,190.8 L61.4,191.3 L61.4,191.8 L61.4,192.3 L61.4,192.8 L61.5,193.3 L61.5,193.8 L61.5,194.3 L61.5,194.8 L61.6,195.3 L61.6,195.8 L61.6,196.3 L61.7,196.8 L61.7,197.3 L61.7,197.8 L61.7,198.3 L61.8,198.8 L61.8,199.3 L61.8,199.8 L61.9,200.3 L61.9,200.8 L61.9,201.2 L62.0,201.7 L62.0,202.2 L62.0,202.7 L62.1,203.2 L62.1,203.7 L62.2,204.2 L62.2,204.7 L62.2,205.2 L62.3,205.7 L62.3,206.2 L62.3,206.7 L62.4,207.2 L62.4,207.7 L62.5,208.2 L62.5,208.7 L62.6,209.2 L62.6,209.7 L62.6,210.2 L62.7,210.7 L62.7,211.2 L62.8,211.7 L62.8,212.2 L62.9,212.7 L62.9,213.2 L63.0,213.7 L63.0,214.2 L63.1,214.7 L63.2,215.2 L63.2,215.7 L63.3,216.2 L63.3,216.7 L63.4,217.2 L63.5,217.7 L63.5,218.2 L63.6,218.7 L63.7,219.2 L63.7,219.7 L63.8,220.2 L63.9,220.6 L63.9,221.1 L64.0,221.6 L64.1,222.1 L64.2,222.6 L64.2,223.1 L64.3,223.6 L64.4,224.1 L64.5,224.6 L64.6,225.1 L64.6,225.6 L64.7,226.1 L64.8,226.6 L64.9,227.1 L65.0,227.6 L65.1,228.1 L65.1,228.6 L65.2,229.1 L65.3,229.5 L65.4,230.0 L65.5,230.5 L65.6,231.0 L65.7,231.5 L65.8,232.0 L65.9,232.5 L66.1,233.0 L66.2,233.4 L66.3,233.9 L66.4,234.4 L66.6,234.9 L66.7,235.3 L66.9,235.8 L67.1,236.3 L67.2,236.7 L67.4,237.2 L67.6,237.7 L67.8,238.1 L68.0,238.6 L68.2,239.0 L68.4,239.5 L68.7,239.9 L68.9,240.4 L69.1,240.8 L69.4,241.2 L69.6,241.7 L69.9,242.1 L70.1,242.6 L70.3,243.0 L70.6,243.5 L70.8,243.9 L71.1,244.3 L71.3,244.8 L71.6,245.2 L71.8,245.6 L72.1,246.1 L72.3,246.5 L72.6,246.9 L72.8,247.4 L73.1,247.8 L73.3,248.3 L73.6,248.7 L73.9,249.1 L74.1,249.5 L74.4,250.0 L74.6,250.4 L74.9,250.8 L75.2,251.3 L75.4,251.7 L75.7,252.1 L76.0,252.5 L76.3,252.9 L76.6,253.3 L76.8,253.7 L77.1,254.1 L77.4,254.5 L77.7,254.9 L78.0,255.3 L78.3,255.7 L78.6,256.1 L79.0,256.5 L79.3,256.9 L79.6,257.3 L79.9,257.7 L80.2,258.1 L80.6,258.4 L80.9,258.8 L81.3,259.2 L81.6,259.6 L82.0,259.9 L82.3,260.3 L82.7,260.7 L83.0,261.0 L83.4,261.4 L83.7,261.7 L84.1,262.0 L84.5,262.4 L84.9,262.7 L85.2,263.0 L85.6,263.3 L86.0,263.6 L86.4,263.9 L86.8,264.2 L87.2,264.5 L87.6,264.8 L88.0,265.0 L88.4,265.3 L88.8,265.6 L89.3,265.8 L89.7,266.1 L90.1,266.3 L90.5,266.6 L91.0,266.8 L91.4,267.0 L91.9,267.3 L92.3,267.5 L92.8,267.7 L93.2,267.9 L93.7,268.2 L94.1,268.4 L94.6,268.6 L95.1,268.8 L95.5,269.0 L96.0,269.2 L96.4,269.4 L96.9,269.6 L97.4,269.8 L97.8,270.0 L98.3,270.2 L98.8,270.4 L99.2,270.6 L99.7,270.8 L100.2,271.0 L100.6,271.1 L101.1,271.3 L101.6,271.5 L102.0,271.7 L102.5,271.8 L103.0,272.0 L103.4,272.2 L103.9,272.4 L104.4,272.5 L104.8,272.7 L105.3,272.9 L105.8,273.0 L106.3,273.2 L106.7,273.3 L107.2,273.5 L107.7,273.6 L108.2,273.8 L108.6,274.0 L109.1,274.1 L109.6,274.3 L110.1,274.4 L110.6,274.6 L111.0,274.7 L111.5,274.9 L112.0,275.0 L112.5,275.2 L112.9,275.3 L113.4,275.5 L113.9,275.6 L114.4,275.8 L114.8,275.9 L115.3,276.1 L115.8,276.2 L116.3,276.4 L116.8,276.5 L117.2,276.7 L117.7,276.8 L118.2,276.9 L118.7,277.1 L119.2,277.2 L119.6,277.4 L120.1,277.5 L120.6,277.7 L121.1,277.8 L121.5,277.9 L122.0,278.1 L122.5,278.2 L123.0,278.4 L123.5,278.5 L123.9,278.7 L124.4,278.8 L124.9,279.0 L125.4,279.1 L125.8,279.3 L126.3,279.5 L126.8,279.6 L127.3,279.8 L127.7,279.9 L128.2,280.1 L128.7,280.3 L129.2,280.4 L129.6,280.6 L130.1,280.7 L130.6,280.9 L131.1,281.1 L131.5,281.2 L132.0,281.4 L132.5,281.6 L132.9,281.7 L133.4,281.9 L133.9,282.1 L134.4,282.2 L134.8,282.4 L135.3,282.5 L135.8,282.7 L136.3,282.8 L136.7,283.0 L137.2,283.1 L137.7,283.3 L138.2,283.4 L138.6,283.6 L139.1,283.7 L139.6,283.9 L140.1,284.0 L140.6,284.1 L141.0,284.3 L141.5,284.4 L142.0,284.5 L142.5,284.6 L143.0,284.8 L143.5,284.9 L143.9,285.0 L144.4,285.1 L144.9,285.3 L145.4,285.4 L145.9,285.5 L146.4,285.6 L146.8,285.7 L147.3,285.9 L147.8,286.0 L148.3,286.1 L148.8,286.2 L149.3,286.3 L149.8,286.4 L150.3,286.5 L150.7,286.7 L151.2,286.8 L151.7,286.9 L152.2,287.0 L152.7,287.1 L153.2,287.2 L153.7,287.3 L154.2,287.4 L154.7,287.5 L155.1,287.6 L155.6,287.7 L156.1,287.8 L156.6,287.9 L157.1,288.0 L157.6,288.1 L158.1,288.3 L158.6,288.4 L159.1,288.5 L159.6,288.5 L160.0,288.6 L160.5,288.7 L161.0,288.8 L161.5,288.9 L162.0,289.0 L162.5,289.1 L163.0,289.2 L163.5,289.3 L164.0,289.4 L164.5,289.5 L165.0,289.6 L165.5,289.7 L166.0,289.8 L166.4,289.9 L166.9,290.0 L167.4,290.0 L167.9,290.1 L168.4,290.2 L168.9,290.3 L169.4,290.4 L169.9,290.5 L170.4,290.6 L170.9,290.6 L171.4,290.7 L171.9,290.8 L172.4,290.9 L172.8,291.0 L173.3,291.0 L173.8,291.1 L174.3,291.2 L174.8,291.3 L175.3,291.3 L175.8,291.4 L176.3,291.5 L176.8,291.5 L177.3,291.6 L177.8,291.7 L178.3,291.8 L178.8,291.8 L179.3,291.9 L179.8,292.0 L180.3,292.0 L180.8,292.1 L181.3,292.2 L181.8,292.2 L182.3,292.3 L182.7,292.4 L183.2,292.4 L183.7,292.5 L184.2,292.6 L184.7,292.6 L185.2,292.7 L185.7,292.8 L186.2,292.8 L186.7,292.9 L187.2,293.0 L187.7,293.0 L188.2,293.1 L188.7,293.2 L189.2,293.2 L189.7,293.3 L190.2,293.4 L190.7,293.4 L191.2,293.5 L191.7,293.6 L192.2,293.6 L192.7,293.7 L193.2,293.7 L193.7,293.8 L194.1,293.9 L194.6,293.9 L195.1,294.0 L195.6,294.1 L196.1,294.1 L196.6,294.2 L197.1,294.2 L197.6,294.3 L198.1,294.4 L198.6,294.4 L199.1,294.5 L199.6,294.6 L200.1,294.6 L200.6,294.7 L201.1,294.7 L201.6,294.8 L202.1,294.9 L202.6,294.9 L203.1,295.0 L203.6,295.0 L204.1,295.1 L204.6,295.2 L205.1,295.2 L205.6,295.3 L206.1,295.3 L206.6,295.4 L207.1,295.5 L207.5,295.5 L208.0,295.6 L208.5,295.6 L209.0,295.7 L209.5,295.8 L210.0,295.8 L210.5,295.9 L211.0,295.9 L211.5,296.0 L212.0,296.1 L212.5,296.1 L213.0,296.2 L213.5,296.2 L214.0,296.3 L214.5,296.4 L215.0,296.4 L215.5,296.5 L216.0,296.5 L216.5,296.6 L217.0,296.6 L217.5,296.7 L218.0,296.8 L218.5,296.8 L219.0,296.9 L219.5,296.9 L220.0,297.0 L220.5,297.0 L221.0,297.1 L221.5,297.2 L221.9,297.2 L222.4,297.3 L222.9,297.3 L223.4,297.4 L223.9,297.5 L224.4,297.5 L224.9,297.6 L225.4,297.6 L225.9,297.7 L226.4,297.7 L226.9,297.8 L227.4,297.9 L227.9,297.9 L228.4,298.0 L228.9,298.0 L229.4,298.1 L229.9,298.1 L230.4,298.2 L230.9,298.3 L231.4,298.3 L231.9,298.4 L232.4,298.4 L232.9,298.5 L233.4,298.5 L233.9,298.6 L234.4,298.7 L234.9,298.7 L235.4,298.8 L235.9,298.8 L236.4,298.9 L236.9,298.9 L237.3,299.0 L237.8,299.1 L238.3,299.1 L238.8,299.2 L239.3,299.2 L239.8,299.3 L240.3,299.4 L240.8,299.4 L241.3,299.5 L241.8,299.5 L242.3,299.6 L242.8,299.7 L243.3,299.7 L243.8,299.8 L244.3,299.8 L244.8,299.9 L245.3,299.9 L245.8,300.0 L246.3,300.1 L246.8,300.1 L247.3,300.2 L247.8,300.2 L248.3,300.3 L248.8,300.4 L249.3,300.4 L249.8,300.5 L250.3,300.5 L250.8,300.6 L251.3,300.7 L251.8,300.7 L252.2,300.8 L252.7,300.8 L253.2,300.9 L253.7,300.9 L254.2,301.0 L254.7,301.1 L255.2,301.1 L255.7,301.2 L256.2,301.2 L256.7,301.3 L257.2,301.4 L257.7,301.4 L258.2,301.5 L258.7,301.5 L259.2,301.6 L259.7,301.6 L260.2,301.7 L260.7,301.8 L261.2,301.8 L261.7,301.9 L262.2,301.9 L262.7,302.0 L263.2,302.0 L263.7,302.1 L264.2,302.1 L264.7,302.2 L265.2,302.3 L265.7,302.3 L266.2,302.4 L266.7,302.4 L267.2,302.5 L267.7,302.5 L268.1,302.6 L268.6,302.6 L269.1,302.7 L269.6,302.8 L270.1,302.8 L270.6,302.9 L271.1,302.9 L271.6,303.0 L272.1,303.0 L272.6,303.1 L273.1,303.1 L273.6,303.2 L274.1,303.2 L274.6,303.3 L275.1,303.3 L275.6,303.4 L276.1,303.4 L276.6,303.5 L277.1,303.5 L277.6,303.6 L278.1,303.6 L278.6,303.7 L279.1,303.7 L279.6,303.8 L280.1,303.8 L280.6,303.9 L281.1,303.9 L281.6,304.0 L282.1,304.0 L282.6,304.1 L283.1,304.1 L283.6,304.1 L284.1,304.2 L284.6,304.2 L285.1,304.3 L285.6,304.3 L286.1,304.4 L286.6,304.4 L287.1,304.4 L287.5,304.5 L288.0,304.5 L288.5,304.6 L289.0,304.6 L289.5,304.7 L290.0,304.7 L290.5,304.7 L291.0,304.8 L291.5,304.8 L292.0,304.9 L292.5,304.9 L293.0,304.9 L293.5,305.0 L294.0,305.0 L294.5,305.0 L295.0,305.1 L295.5,305.1 L296.0,305.2 L296.5,305.2 L297.0,305.2 L297.5,305.3 L298.0,305.3 L298.5,305.3 L299.0,305.4 L299.5,305.4 L300.0,305.4 L300.5,305.5 L301.0,305.5 L301.5,305.5 L302.0,305.6 L302.5,305.6 L303.0,305.6 L303.5,305.7 L304.0,305.7 L304.5,305.7 L305.0,305.7 L305.5,305.8 L306.0,305.8 L306.5,305.8 L307.0,305.9 L307.5,305.9 L308.0,305.9 L308.5,306.0 L309.0,306.0 L309.5,306.0 L310.0,306.1 L310.5,306.1 L311.0,306.1 L311.5,306.2 L312.0,306.2 L312.5,306.2 L313.0,306.2 L313.5,306.3 L314.0,306.3 L314.5,306.3 L315.0,306.4 L315.5,306.4 L316.0,306.4 L316.5,306.5 L317.0,306.5 L317.5,306.5 L318.0,306.6 L318.5,306.6 L319.0,306.6 L319.5,306.7 L320.0,306.7 L320.5,306.7 L321.0,306.8 L321.5,306.8 L322.0,306.8 L322.5,306.9 L323.0,306.9 L323.5,306.9 L324.0,307.0 L324.5,307.0 L325.0,307.0 L325.5,307.1 L326.0,307.1 L326.5,307.1 L327.0,307.2 L327.5,307.2 L328.0,307.2 L328.5,307.3 L329.0,307.3 L329.5,307.4 L329.9,307.4 L330.4,307.4 L330.9,307.5 L331.4,307.5 L331.9,307.5 L332.4,307.6 L332.9,307.6 L333.4,307.6 L333.9,307.7 L334.4,307.7 L334.9,307.7 L335.4,307.8 L335.9,307.8 L336.4,307.9 L336.9,307.9 L337.4,307.9 L337.9,308.0 L338.4,308.0 L338.9,308.0 L339.4,308.1 L339.9,308.1 L340.4,308.1 L340.9,308.2 L341.4,308.2 L341.9,308.2 L342.4,308.3 L342.9,308.3 L343.4,308.4 L343.9,308.4 L344.4,308.4 L344.9,308.5 L345.4,308.5 L345.9,308.5 L346.4,308.6 L346.9,308.6 L347.4,308.6 L347.9,308.7 L348.4,308.7 L348.9,308.7 L349.4,308.8 L349.9,308.8 L350.4,308.8 L350.9,308.9 L351.4,308.9 L351.9,308.9 L352.4,309.0 L352.9,309.0 L353.4,309.0 L353.9,309.1 L354.4,309.1 L354.9,309.2 L355.4,309.2 L355.9,309.2 L356.4,309.3 L356.9,309.3 L357.4,309.3 L357.9,309.3 L358.4,309.4 L358.9,309.4 L359.4,309.4 L359.9,309.5 L360.4,309.5 L360.9,309.5 L361.4,309.6 L361.9,309.6 L362.4,309.6 L362.9,309.7 L363.4,309.7 L363.9,309.7 L364.4,309.8 L364.9,309.8 L365.4,309.8 L365.9,309.9 L366.4,309.9 L366.9,309.9 L367.4,309.9 L367.9,310.0 L368.4,310.0 L368.9,310.0 L369.4,310.1 L369.9,310.1 L370.4,310.1 L370.9,310.1 L371.4,310.2 L371.9,310.2 L372.4,310.2 L372.9,310.3 L373.4,310.3 L373.9,310.3 L374.4,310.3 L374.9,310.4 L375.3,310.4 L375.8,310.4 L376.3,310.4 L376.8,310.5 L377.3,310.5 L377.8,310.5 L378.3,310.5 L378.8,310.6 L379.3,310.6 L379.8,310.6 L380.3,310.6 L380.8,310.7 L381.3,310.7 L381.8,310.7 L382.3,310.7 L382.8,310.8 L383.3,310.8 L383.8,310.8 L384.3,310.8 L384.8,310.9 L385.3,310.9 L385.8,310.9 L386.3,310.9 L386.8,311.0 L387.3,311.0 L387.8,311.0 L388.3,311.0 L388.8,311.0 L389.3,311.1 L389.8,311.1 L390.3,311.1 L390.8,311.1 L391.3,311.2 L391.8,311.2 L392.3,311.2 L392.8,311.2 L393.3,311.3 L393.8,311.3 L394.3,311.3 L394.8,311.3 L395.3,311.4 L395.8,311.4 L396.3,311.4 L396.8,311.4 L397.3,311.5 L397.8,311.5 L398.3,311.5 L398.8,311.5 L399.3,311.6 L399.8,311.6 L400.3,311.6 L400.8,311.6 L401.3,311.7 L401.8,311.7 L402.3,311.7 L402.8,311.8 L403.3,311.8 L403.8,311.8 L404.3,311.8 L404.8,311.9 L405.3,311.9 L405.8,311.9 L406.3,311.9 L406.8,312.0 L407.3,312.0 L407.8,312.0 L408.3,312.1 L408.8,312.1 L409.3,312.1 L409.8,312.1 L410.3,312.2 L410.8,312.2 L411.3,312.2 L411.8,312.3 L412.3,312.3 L412.8,312.3 L413.3,312.3 L413.8,312.4 L414.3,312.4 L414.8,312.4 L415.3,312.5 L415.8,312.5 L416.3,312.5 L416.8,312.6 L417.3,312.6 L417.8,312.6 L418.3,312.6 L418.8,312.7 L419.3,312.7 L419.8,312.7 L420.3,312.8 L420.8,312.8 L421.3,312.8 L421.8,312.8 L422.3,312.9 L422.8,312.9 L423.3,312.9 L423.8,313.0 L424.3,313.0 L424.8,313.0 L425.3,313.1 L425.8,313.1 L426.3,313.1 L426.8,313.1 L427.3,313.2 L427.8,313.2 L428.3,313.2 L428.8,313.3 L429.3,313.3 L429.8,313.3 L430.3,313.3 L430.8,313.4 L431.3,313.4 L431.8,313.4 L432.3,313.5 L432.8,313.5 L433.3,313.5 L433.8,313.5 L434.3,313.6 L434.8,313.6 L435.3,313.6 L435.8,313.7 L436.3,313.7 L436.8,313.7 L437.3,313.7 L437.8,313.8 L438.3,313.8 L438.8,313.8 L439.3,313.9 L439.8,313.9 L440.3,313.9 L440.8,313.9 L441.3,314.0 L441.8,314.0 L442.3,314.0 L442.7,314.1 L443.2,314.1 L443.7,314.1 L444.2,314.1 L444.7,314.2 L445.2,314.2 L445.7,314.2 L446.2,314.2 L446.7,314.3 L447.2,314.3 L447.7,314.3 L448.2,314.4 L448.7,314.4 L449.2,314.4 L449.7,314.4 L450.2,314.5 L450.7,314.5 L451.2,314.5 L451.7,314.5 L452.2,314.6 L452.7,314.6 L453.2,314.6 L453.7,314.7 L454.2,314.7 L454.7,314.7 L455.2,314.7 L455.7,314.8 L456.2,314.8 L456.7,314.8 L457.2,314.8 L457.7,314.9 L458.2,314.9 L458.7,314.9 L459.2,314.9 L459.7,315.0 L460.2,315.0 L460.7,315.0 L461.2,315.1 L461.7,315.1 L462.2,315.1 L462.7,315.1 L463.2,315.2 L463.7,315.2 L464.2,315.2 L464.7,315.2 L465.2,315.3 L465.7,315.3 L466.2,315.3 L466.7,315.3 L467.2,315.4 L467.7,315.4 L468.2,315.4 L468.7,315.4 L469.2,315.5 L469.7,315.5 L470.2,315.5 L470.7,315.5 L471.2,315.6 L471.7,315.6 L472.2,315.6 L472.7,315.6 L473.2,315.7 L473.7,315.7 L474.2,315.7 L474.7,315.7 L475.2,315.8 L475.7,315.8 L476.2,315.8 L476.7,315.8 L477.2,315.9 L477.7,315.9 L478.2,315.9 L478.7,315.9 L479.2,316.0 L479.7,316.0 L480.2,316.0 L480.7,316.0 L481.2,316.1 L481.7,316.1 L482.2,316.1 L482.7,316.1 L483.2,316.1 L483.7,316.2 L484.2,316.2 L484.7,316.2 L485.2,316.2 L485.7,316.3 L486.2,316.3 L486.7,316.3 L487.2,316.3 L487.7,316.4 L488.2,316.4 L488.7,316.4 L489.2,316.4 L489.7,316.4 L490.2,316.5 L490.7,316.5 L491.2,316.5 L491.7,316.5 L492.2,316.6 L492.7,316.6 L493.2,316.6 L493.7,316.6 L494.2,316.7 L494.7,316.7 L495.2,316.7 L495.7,316.7 L496.2,316.7 L496.7,316.8 L497.2,316.8 L497.7,316.8 L498.2,316.8 L498.7,316.8 L499.2,316.9 L499.7,316.9 L500.2,316.9 L500.7,316.9 L501.2,317.0 L501.7,317.0 L502.2,317.0 L502.7,317.0 L503.2,317.0 L503.7,317.1 L504.2,317.1 L504.7,317.1 L505.2,317.1 L505.7,317.2 L506.2,317.2 L506.7,317.2 L507.2,317.2 L507.7,317.2 L508.2,317.3 L508.7,317.3 L509.2,317.3 L509.7,317.3 L510.2,317.3 L510.7,317.4 L511.2,317.4 L511.7,317.4 L512.2,317.4 L512.7,317.4 L513.2,317.5 L513.7,317.5 L514.2,317.5 L514.7,317.5 L515.2,317.5 L515.7,317.6 L516.2,317.6 L516.7,317.6 L517.2,317.6 L517.7,317.6 L518.2,317.7 L518.7,317.7 L519.2,317.7 L519.7,317.7 L520.2,317.7 L520.7,317.8 L521.2,317.8 L521.6,317.8 L522.1,317.8 L522.6,317.8 L523.1,317.9 L523.6,317.9 L524.0,317.9 L524.4,317.9 L524.8,317.9 L525.2,317.9 L525.5,317.9 L525.8,318.0 L526.1,318.0" stroke="#7e2f8e" stroke-width="3.1"/>
<path d="M57.9,13.3 L57.9,13.6 L57.9,13.9 L58.0,14.2 L58.0,14.6 L58.1,15.0 L58.1,15.4 L58.1,15.9 L58.2,16.3 L58.2,16.8 L58.3,17.3 L58.3,17.8 L58.4,18.3 L58.4,18.8 L58.5,19.3 L58.5,19.8 L58.6,20.3 L58.6,20.8 L58.7,21.3 L58.7,21.8 L58.7,22.3 L58.8,22.8 L58.8,23.3 L58.9,23.7 L58.9,24.2 L59.0,24.7 L59.0,25.2 L59.1,25.7 L59.1,26.2 L59.2,26.7 L59.2,27.2 L59.3,27.7 L59.3,28.2 L59.4,28.7 L59.4,29.2 L59.5,29.7 L59.5,30.2 L59.6,30.7 L59.6,31.2 L59.7,31.7 L59.7,32.2 L59.8,32.7 L59.8,33.2 L59.9,33.7 L59.9,34.2 L60.0,34.7 L60.1,35.2 L60.1,35.7 L60.2,36.2 L60.2,36.7 L60.3,37.2 L60.3,37.7 L60.4,38.2 L60.4,38.7 L60.5,39.2 L60.6,39.7 L60.6,40.2 L60.7,40.7 L60.7,41.2 L60.8,41.7 L60.8,42.2 L60.9,42.7 L60.9,43.1 L61.0,43.6 L61.0,44.1 L61.1,44.6 L61.1,45.1 L61.2,45.6 L61.2,46.1 L61.2,46.6 L61.3,47.1 L61.3,47.6 L61.4,48.1 L61.4,48.6 L61.4,49.1 L61.5,49.6 L61.5,50.1 L61.5,50.6 L61.6,51.1 L61.6,51.6 L61.6,52.1 L61.6,52.6 L61.7,53.1 L61.7,53.6 L61.7,54.1 L61.7,54.6 L61.8,55.1 L61.8,55.6 L61.8,56.1 L61.8,56.6 L61.8,57.1 L61.9,57.6 L61.9,58.1 L61.9,58.6 L61.9,59.1 L61.9,59.6 L61.9,60.1 L62.0,60.6 L62.0,61.1 L62.0,61.6 L62.0,62.1 L62.0,62.6 L62.0,63.1 L62.1,63.6 L62.1,64.1 L62.1,64.6 L62.1,65.1 L62.1,65.6 L62.1,66.1 L62.2,66.6 L62.2,67.1 L62.2,67.6 L62.2,68.1 L62.2,68.6 L62.2,69.1 L62.2,69.6 L62.3,70.1 L62.3,70.6 L62.3,71.1 L62.3,71.6 L62.3,72.1 L62.3,72.6 L62.4,73.1 L62.4,73.6 L62.4,74.1 L62.4,74.6 L62.4,75.1 L62.5,75.6 L62.5,76.1 L62.5,76.6 L62.5,77.1 L62.5,77.6 L62.6,78.1 L62.6,78.6 L62.6,79.1 L62.6,79.6 L62.7,80.1 L62.7,80.6 L62.7,81.1 L62.7,81.6 L62.8,82.1 L62.8,82.6 L62.8,83.1 L62.9,83.6 L62.9,84.1 L62.9,84.6 L63.0,85.1 L63.0,85.6 L63.0,86.1 L63.1,86.6 L63.1,87.1 L63.1,87.6 L63.2,88.1 L63.2,88.6 L63.3,89.1 L63.3,89.6 L63.4,90.1 L63.4,90.6 L63.5,91.1 L63.5,91.6 L63.6,92.1 L63.6,92.5 L63.7,93.0 L63.7,93.5 L63.8,94.0 L63.8,94.5 L63.9,95.0 L63.9,95.5 L64.0,96.0 L64.0,96.5 L64.1,97.0 L64.2,97.5 L64.2,98.0 L64.3,98.5 L64.3,99.0 L64.4,99.5 L64.5,100.0 L64.5,100.5 L64.6,101.0 L64.7,101.5 L64.7,102.0 L64.8,102.5 L64.8,103.0 L64.9,103.5 L65.0,104.0 L65.0,104.5 L65.1,105.0 L65.2,105.5 L65.2,106.0 L65.3,106.5 L65.4,107.0 L65.4,107.4 L65.5,107.9 L65.6,108.4 L65.6,108.9 L65.7,109.4 L65.8,109.9 L65.8,110.4 L65.9,110.9 L66.0,111.4 L66.0,111.9 L66.1,112.4 L66.2,112.9 L66.2,113.4 L66.3,113.9 L66.3,114.4 L66.4,114.9 L66.5,115.4 L66.5,115.9 L66.6,116.4 L66.7,116.9 L66.7,117.4 L66.8,117.9 L66.8,118.4 L66.9,118.9 L67.0,119.4 L67.0,119.9 L67.1,120.3 L67.2,120.8 L67.2,121.3 L67.3,121.8 L67.3,122.3 L67.4,122.8 L67.5,123.3 L67.5,123.8 L67.6,124.3 L67.7,124.8 L67.7,125.3 L67.8,125.8 L67.9,126.3 L67.9,126.8 L68.0,127.3 L68.1,127.8 L68.1,128.3 L68.2,128.8 L68.3,129.3 L68.3,129.8 L68.4,130.3 L68.5,130.8 L68.5,131.3 L68.6,131.8 L68.7,132.2 L68.7,132.7 L68.8,133.2 L68.9,133.7 L68.9,134.2 L69.0,134.7 L69.1,135.2 L69.1,135.7 L69.2,136.2 L69.3,136.7 L69.3,137.2 L69.4,137.7 L69.5,138.2 L69.6,138.7 L69.6,139.2 L69.7,139.7 L69.8,140.2 L69.8,140.7 L69.9,141.2 L70.0,141.7 L70.1,142.1 L70.1,142.6 L70.2,143.1 L70.3,143.6 L70.3,144.1 L70.4,144.6 L70.5,145.1 L70.6,145.6 L70.6,146.1 L70.7,146.6 L70.8,147.1 L70.9,147.6 L71.0,148.1 L71.0,148.6 L71.1,149.1 L71.2,149.6 L71.3,150.1 L71.3,150.5 L71.4,151.0 L71.5,151.5 L71.6,152.0 L71.7,152.5 L71.8,153.0 L71.8,153.5 L71.9,154.0 L72.0,154.5 L72.1,155.0 L72.2,155.5 L72.2,156.0 L72.3,156.5 L72.4,157.0 L72.5,157.5 L72.6,157.9 L72.7,158.4 L72.7,158.9 L72.8,159.4 L72.9,159.9 L73.0,160.4 L73.1,160.9 L73.2,161.4 L73.3,161.9 L73.3,162.4 L73.4,162.9 L73.5,163.4 L73.6,163.9 L73.7,164.4 L73.8,164.8 L73.8,165.3 L73.9,165.8 L74.0,166.3 L74.1,166.8 L74.2,167.3 L74.3,167.8 L74.3,168.3 L74.4,168.8 L74.5,169.3 L74.6,169.8 L74.7,170.3 L74.8,170.8 L74.8,171.3 L74.9,171.7 L75.0,172.2 L75.1,172.7 L75.2,173.2 L75.3,173.7 L75.3,174.2 L75.4,174.7 L75.5,175.2 L75.6,175.7 L75.7,176.2 L75.7,176.7 L75.8,177.2 L75.9,177.7 L76.0,178.2 L76.1,178.7 L76.2,179.1 L76.2,179.6 L76.3,180.1 L76.4,180.6 L76.5,181.1 L76.6,181.6 L76.7,182.1 L76.8,182.6 L76.8,183.1 L76.9,183.6 L77.0,184.1 L77.1,184.6 L77.2,185.1 L77.3,185.6 L77.4,186.0 L77.5,186.5 L77.5,187.0 L77.6,187.5 L77.7,188.0 L77.8,188.5 L77.9,189.0 L78.0,189.5 L78.1,190.0 L78.2,190.5 L78.3,191.0 L78.4,191.4 L78.5,191.9 L78.6,192.4 L78.7,192.9 L78.8,193.4 L78.9,193.9 L79.0,194.4 L79.1,194.9 L79.2,195.4 L79.3,195.9 L79.4,196.4 L79.5,196.8 L79.6,197.3 L79.7,197.8 L79.8,198.3 L79.9,198.8 L80.0,199.3 L80.1,199.8 L80.2,200.3 L80.3,200.8 L80.4,201.3 L80.5,201.7 L80.6,202.2 L80.7,202.7 L80.8,203.2 L80.9,203.7 L81.0,204.2 L81.1,204.7 L81.2,205.2 L81.3,205.7 L81.4,206.2 L81.5,206.6 L81.6,207.1 L81.7,207.6 L81.8,208.1 L82.0,208.6 L82.1,209.1 L82.2,209.6 L82.3,210.1 L82.4,210.6 L82.5,211.0 L82.6,211.5 L82.7,212.0 L82.9,212.5 L83.0,213.0 L83.1,213.5 L83.2,214.0 L83.3,214.4 L83.4,214.9 L83.6,215.4 L83.7,215.9 L83.8,216.4 L83.9,216.9 L84.0,217.4 L84.2,217.8 L84.3,218.3 L84.4,218.8 L84.5,219.3 L84.7,219.8 L84.8,220.3 L84.9,220.7 L85.1,221.2 L85.2,221.7 L85.3,222.2 L85.4,222.7 L85.6,223.1 L85.7,223.6 L85.9,224.1 L86.0,224.6 L86.1,225.1 L86.3,225.5 L86.4,226.0 L86.6,226.5 L86.7,227.0 L86.9,227.4 L87.0,227.9 L87.2,228.4 L87.3,228.9 L87.5,229.3 L87.7,229.8 L87.8,230.3 L88.0,230.8 L88.2,231.2 L88.3,231.7 L88.5,232.2 L88.7,232.7 L88.8,233.1 L89.0,233.6 L89.2,234.1 L89.3,234.5 L89.5,235.0 L89.7,235.5 L89.9,235.9 L90.0,236.4 L90.2,236.9 L90.4,237.3 L90.6,237.8 L90.7,238.3 L90.9,238.7 L91.1,239.2 L91.3,239.7 L91.5,240.1 L91.6,240.6 L91.8,241.1 L92.0,241.5 L92.2,242.0 L92.4,242.5 L92.6,242.9 L92.7,243.4 L92.9,243.9 L93.1,244.3 L93.3,244.8 L93.5,245.3 L93.7,245.7 L93.9,246.2 L94.1,246.6 L94.2,247.1 L94.4,247.6 L94.6,248.0 L94.8,248.5 L95.0,249.0 L95.2,249.4 L95.4,249.9 L95.6,250.4 L95.7,250.8 L95.9,251.3 L96.1,251.7 L96.3,252.2 L96.5,252.7 L96.7,253.1 L96.9,253.6 L97.0,254.1 L97.2,254.5 L97.4,255.0 L97.6,255.5 L97.8,255.9 L98.0,256.4 L98.1,256.9 L98.3,257.3 L98.5,257.8 L98.7,258.3 L98.9,258.7 L99.0,259.2 L99.2,259.7 L99.4,260.1 L99.6,260.6 L99.7,261.1 L99.9,261.5 L100.1,262.0 L100.3,262.5 L100.5,262.9 L100.6,263.4 L100.8,263.9 L101.0,264.3 L101.2,264.8 L101.4,265.3 L101.5,265.7 L101.7,266.2 L101.9,266.7 L102.1,267.1 L102.3,267.6 L102.4,268.1 L102.6,268.5 L102.8,269.0 L103.0,269.5 L103.2,269.9 L103.3,270.4 L103.5,270.9 L103.7,271.3 L103.9,271.8 L104.1,272.3 L104.2,272.7 L104.4,273.2 L104.6,273.7 L104.8,274.1 L105.0,274.6 L105.1,275.1 L105.3,275.5 L105.5,276.0 L105.7,276.5 L105.9,276.9 L106.0,277.4 L106.2,277.9 L106.4,278.3 L106.6,278.8 L106.8,279.3 L106.9,279.7 L107.1,280.2 L107.3,280.7 L107.5,281.1 L107.7,281.6 L107.9,282.1 L108.0,282.5 L108.2,283.0 L108.4,283.5 L108.6,283.9 L108.8,284.4 L109.0,284.9 L109.2,285.3 L109.4,285.8 L109.6,286.2 L109.8,286.7 L110.0,287.2 L110.2,287.6 L110.4,288.1 L110.6,288.5 L110.8,289.0 L111.0,289.4 L111.2,289.9 L111.4,290.3 L111.6,290.8 L111.8,291.2 L112.0,291.7 L112.2,292.1 L112.5,292.6 L112.7,293.0 L112.9,293.5 L113.1,293.9 L113.3,294.4 L113.6,294.8 L113.8,295.3 L114.0,295.7 L114.3,296.2 L114.5,296.6 L114.7,297.1 L115.0,297.5 L115.2,297.9 L115.4,298.4 L115.7,298.8 L115.9,299.3 L116.1,299.7 L116.4,300.1 L116.6,300.6 L116.9,301.0 L117.1,301.4 L117.4,301.9 L117.6,302.3 L117.9,302.7 L118.1,303.2 L118.4,303.6 L118.6,304.0 L118.9,304.5 L119.2,304.9 L119.4,305.3 L119.7,305.7 L119.9,306.2 L120.2,306.6 L120.5,307.0 L120.7,307.4 L121.0,307.9 L121.3,308.3 L121.5,308.7 L121.8,309.1 L122.1,309.6 L122.4,310.0 L122.7,310.4 L122.9,310.8 L123.2,311.2 L123.5,311.6 L123.8,312.0 L124.1,312.5 L124.4,312.9 L124.7,313.3 L125.0,313.7 L125.3,314.1 L125.6,314.5 L125.9,314.9 L126.2,315.3 L126.5,315.7 L126.8,316.1 L127.1,316.4 L127.4,316.8 L127.7,317.2 L128.0,317.6 L128.3,318.0 L128.7,318.4 L129.0,318.7 L129.3,319.1 L129.6,319.5 L130.0,319.9 L130.3,320.2 L130.7,320.6 L131.0,321.0 L131.3,321.3 L131.7,321.7 L132.0,322.1 L132.4,322.4 L132.7,322.8 L133.1,323.2 L133.4,323.5 L133.8,323.9 L134.1,324.2 L134.5,324.6 L134.9,324.9 L135.2,325.3 L135.6,325.6 L136.0,326.0 L136.3,326.3 L136.7,326.7 L137.1,327.0 L137.5,327.3 L137.8,327.6 L138.2,328.0 L138.6,328.3 L139.0,328.6 L139.4,328.9 L139.8,329.2 L140.2,329.5 L140.6,329.8 L141.0,330.1 L141.4,330.4 L141.8,330.7 L142.2,331.0 L142.6,331.2 L143.0,331.5 L143.4,331.8 L143.8,332.0 L144.2,332.3 L144.7,332.6 L145.1,332.8 L145.5,333.1 L145.9,333.3 L146.4,333.6 L146.8,333.8 L147.2,334.0 L147.5,334.2 L147.9,334.4 L148.2,334.6 L148.6,334.8 L148.8,334.9 L149.1,335.0 L149.3,335.1 L150.4,335.7 L150.8,335.9 L151.2,336.1 L151.6,336.2 L152.0,336.4 L152.4,336.6 L152.8,336.8 L153.2,337.0 L153.6,337.3 L154.0,337.4 L154.4,337.6 L154.8,337.8 L155.2,337.8 L155.6,338.0 L156.0,338.0 L156.4,338.1 L156.8,338.6 L157.2,338.3 L157.6,338.6 L158.0,338.6 L158.4,338.7 L158.8,338.9 L159.2,339.0 L159.6,339.2 L160.0,339.2 L160.4,339.5 L160.8,339.5 L161.2,339.6 L161.6,339.7 L162.0,340.3 L162.4,339.8 L162.8,340.2 L163.2,340.6 L163.6,340.7 L164.0,340.4 L164.4,340.5 L164.8,340.8 L165.2,341.2 L165.6,341.2 L166.0,341.0 L166.4,340.9 L166.8,341.0 L167.2,341.0 L167.6,340.6 L168.0,340.7 L168.4,341.1 L168.8,341.8 L169.2,341.2 L169.6,340.6 L170.0,340.8 L170.4,341.2 L170.8,340.9 L171.2,341.4 L171.6,341.1 L172.0,341.1 L172.4,341.0 L172.8,341.8 L173.2,341.9 L173.6,342.0 L174.0,342.1 L174.4,341.8 L174.8,342.3 L175.2,341.2 L175.6,341.9 L176.0,341.3 L176.4,341.2 L176.8,341.1 L177.2,341.6 L177.6,341.5 L178.0,342.0 L178.4,341.2 L178.8,341.8 L179.2,341.5 L179.6,342.3 L180.0,342.9 L180.4,342.0 L180.8,343.0 L181.2,342.1 L181.6,343.3 L182.0,342.7 L182.4,342.8 L182.8,342.0 L183.2,343.1 L183.6,342.3 L184.0,342.0 L184.4,342.5 L184.8,341.7 L185.2,341.8 L185.6,341.7 L186.0,341.5 L186.4,342.3 L186.8,342.5 L187.2,341.4 L187.6,342.5 L188.0,342.4 L188.4,341.8 L188.8,342.2 L189.2,342.8 L189.6,341.6 L190.0,341.6 L190.4,341.3 L190.8,342.6 L191.2,342.1 L191.6,341.3 L192.0,341.5 L192.4,341.8 L192.8,341.4 L193.2,342.0 L193.6,341.4 L194.0,341.9 L194.4,341.4 L194.8,341.2 L195.2,340.8 L195.6,341.1 L196.0,341.2 L196.4,340.2 L196.8,341.1 L197.2,341.4 L197.6,341.2 L198.0,341.0 L198.4,340.8 L198.8,340.4 L199.2,340.4 L199.6,340.6 L200.0,340.2 L200.4,340.6 L200.8,340.3 L201.2,340.4 L201.6,341.1 L202.0,340.7 L202.4,341.0 L202.8,340.1 L203.2,341.2 L203.6,340.6 L204.0,341.6 L204.4,340.3 L204.8,340.5 L205.2,341.1 L205.6,341.6 L206.0,340.1 L206.4,340.7 L206.8,340.5 L207.2,341.5 L207.6,341.7 L208.0,341.0 L208.4,341.3 L208.8,340.6 L209.2,340.3 L209.6,341.0 L210.0,340.5 L210.4,340.9 L210.8,340.3 L211.2,341.0 L211.6,340.3 L212.0,340.4 L212.4,341.0 L212.8,340.8 L213.2,341.5 L213.6,340.8 L214.0,340.8 L214.4,341.7 L214.8,341.6 L215.2,341.1 L215.6,340.8 L216.0,340.8 L216.4,341.0 L216.8,340.8 L217.2,340.4 L217.6,340.5 L218.0,341.1 L218.4,341.4 L218.8,341.6 L219.2,340.8 L219.6,340.7 L220.0,341.6 L220.4,341.3 L220.8,341.8 L221.2,341.8 L221.6,341.2 L222.0,341.1 L222.4,340.3 L222.8,340.0 L223.2,340.7 L223.6,341.1 L224.0,339.3 L224.4,339.3 L224.8,339.7 L225.2,340.2 L225.6,339.2 L226.0,340.1 L226.4,340.7 L226.8,339.2 L227.2,339.7 L227.6,340.5 L228.0,340.7 L228.4,339.9 L228.8,340.6 L229.2,340.7 L229.6,339.7 L230.0,340.3 L230.4,340.2 L230.8,340.4 L231.2,340.7 L231.6,340.3 L232.0,340.0 L232.4,340.3 L232.8,340.4 L233.2,340.8 L233.6,341.3 L234.0,340.5 L234.4,340.3 L234.8,340.3 L235.2,340.6 L235.6,340.1 L236.0,340.0 L236.4,339.6 L236.8,339.7 L237.2,339.5 L237.6,340.0 L238.0,339.4 L238.4,339.8 L238.8,339.3 L239.2,339.2 L239.6,338.3 L240.0,339.0 L240.4,338.8 L240.8,339.7 L241.2,339.6 L241.6,339.7 L242.0,339.5 L242.4,340.2 L242.8,338.7 L243.2,339.8 L243.6,339.3 L244.0,338.9 L244.4,339.0 L244.8,339.2 L245.2,339.4 L245.6,339.7 L246.0,339.0 L246.4,338.9 L246.8,339.7 L247.2,339.8 L247.6,339.0 L248.0,339.2 L248.4,339.8 L248.8,339.7 L249.2,340.3 L249.6,339.8 L250.0,340.1 L250.4,341.8 L250.8,341.1 L251.2,341.4 L251.6,340.9 L252.0,340.4 L252.4,341.2 L252.8,341.3 L253.2,340.6 L253.6,340.6 L254.0,341.0 L254.4,340.8 L254.8,340.3 L255.2,341.4 L255.6,341.6 L256.0,340.6 L256.4,342.2 L256.8,340.9 L257.2,340.8 L257.6,340.8 L258.0,341.1 L258.4,340.8 L258.8,339.9 L259.2,340.4 L259.6,340.3 L260.0,339.6 L260.4,338.7 L260.8,339.1 L261.2,339.2 L261.6,339.9 L262.0,339.4 L262.4,339.9 L262.8,341.1 L263.2,340.0 L263.6,340.0 L264.0,340.7 L264.4,341.0 L264.8,341.3 L265.2,340.9 L265.6,340.5 L266.0,340.4 L266.4,341.0 L266.8,341.3 L267.2,340.9 L267.6,340.7 L268.0,341.2 L268.4,341.0 L268.8,340.9 L269.2,341.9 L269.6,341.6 L270.0,340.6 L270.4,341.6 L270.8,341.1 L271.2,340.8 L271.6,340.8 L272.0,342.2 L272.4,340.8 L272.8,340.3 L273.2,340.5 L273.6,340.7 L274.0,340.4 L274.4,340.2 L274.8,339.9 L275.2,340.0 L275.6,339.8 L276.0,340.4 L276.4,340.7 L276.8,340.7 L277.2,340.5 L277.6,341.1 L278.0,340.6 L278.4,340.6 L278.8,339.7 L279.2,339.9 L279.6,339.7 L280.0,340.3 L280.4,339.8 L280.8,339.8 L281.2,339.8 L281.6,340.7 L282.0,339.9 L282.4,340.0 L282.8,340.5 L283.2,340.5 L283.6,341.2 L284.0,341.3 L284.4,341.0 L284.8,340.9 L285.2,341.0 L285.6,341.5 L286.0,341.1 L286.4,341.1 L286.8,339.6 L287.2,340.1 L287.6,340.4 L288.0,340.8 L288.4,340.8 L288.8,340.6 L289.2,339.9 L289.6,340.8 L290.0,340.5 L290.4,339.9 L290.8,340.5 L291.2,340.7 L291.6,341.0 L292.0,341.2 L292.4,341.0 L292.8,341.0 L293.2,340.8 L293.6,341.1 L294.0,340.6 L294.4,341.4 L294.8,341.0 L295.2,341.4 L295.6,341.1 L296.0,340.6 L296.4,340.7 L296.8,340.8 L297.2,340.9 L297.6,339.8 L298.0,340.6 L298.4,342.0 L298.8,341.3 L299.2,341.9 L299.6,341.1 L300.0,340.6 L300.4,341.1 L300.8,341.1 L301.2,340.9 L301.6,341.7 L302.0,341.8 L302.4,340.8 L302.8,341.8 L303.2,341.3 L303.6,340.3 L304.0,341.2 L304.4,340.9 L304.8,340.8 L305.2,340.2 L305.6,341.2 L306.0,340.9 L306.4,342.2 L306.8,341.2 L307.2,341.2 L307.6,342.4 L308.0,341.9 L308.4,343.2 L308.8,342.3 L309.2,343.0 L309.6,342.2 L310.0,342.2 L310.4,342.3 L310.8,341.7 L311.2,342.1 L311.6,341.3 L312.0,342.2 L312.4,341.9 L312.8,340.8 L313.2,342.5 L313.6,341.9 L314.0,341.5 L314.4,342.2 L314.8,342.3 L315.2,342.8 L315.6,342.9 L316.0,343.2 L316.4,342.2 L316.8,343.0 L317.2,342.6 L317.6,342.3 L318.0,342.7 L318.4,342.6 L318.8,343.3 L319.2,342.9 L319.6,343.2 L320.0,342.9 L320.4,342.8 L320.8,342.8 L321.2,342.1 L321.6,342.2 L322.0,342.1 L322.4,341.8 L322.8,341.5 L323.2,342.0 L323.6,342.1 L324.0,342.7 L324.4,341.9 L324.8,342.0 L325.2,341.4 L325.6,341.8 L326.0,342.4 L326.4,342.8 L326.8,342.1 L327.2,342.6 L327.6,342.6 L328.0,342.7 L328.4,342.0 L328.8,341.4 L329.2,341.6 L329.6,342.0 L330.0,341.0 L330.4,341.1 L330.8,340.6 L331.2,340.6 L331.6,340.1 L332.0,341.1 L332.4,340.2 L332.8,340.5 L333.2,340.6 L333.6,340.2 L334.0,339.8 L334.4,340.0 L334.8,339.8 L335.2,340.3 L335.6,340.0 L336.0,340.8 L336.4,340.2 L336.8,340.6 L337.2,339.9 L337.6,339.5 L338.0,340.0 L338.4,340.5 L338.8,340.4 L339.2,340.4 L339.6,339.6 L340.0,339.5 L340.4,339.7 L340.8,339.4 L341.2,339.8 L341.6,340.0 L342.0,340.1 L342.4,339.5 L342.8,340.6 L343.2,339.2 L343.6,340.0 L344.0,340.1 L344.4,340.4 L344.8,340.4 L345.2,341.2 L345.6,340.5 L346.0,341.2 L346.4,340.5 L346.8,341.0 L347.2,341.1 L347.6,341.3 L348.0,340.2 L348.4,339.7 L348.8,341.3 L349.2,340.1 L349.6,340.3 L350.0,340.4 L350.4,341.1 L350.8,340.8 L351.2,341.0 L351.6,341.2 L352.0,340.9 L352.4,340.6 L352.8,341.4 L353.2,341.4 L353.6,341.1 L354.0,340.2 L354.4,340.8 L354.8,341.2 L355.2,340.7 L355.6,341.2 L356.0,341.9 L356.4,340.6 L356.8,340.5 L357.2,340.6 L357.6,340.9 L358.0,339.0 L358.4,339.7 L358.8,340.6 L359.2,339.9 L359.6,339.2 L360.0,340.3 L360.4,339.5 L360.8,340.4 L361.2,340.4 L361.6,339.6 L362.0,339.1 L362.4,339.6 L362.8,339.0 L363.2,338.7 L363.6,338.3 L364.0,338.2 L364.4,337.8 L364.8,338.6 L365.2,338.8 L365.6,338.0 L366.0,337.9 L366.4,339.0 L366.8,339.4 L367.2,339.2 L367.6,339.5 L368.0,339.5 L368.4,339.2 L368.8,339.1 L369.2,339.0 L369.6,339.4 L370.0,338.7 L370.4,340.4 L370.8,339.4 L371.2,340.2 L371.6,340.4 L372.0,340.4 L372.4,340.5 L372.8,340.3 L373.2,340.6 L373.6,341.2 L374.0,341.2 L374.4,340.4 L374.8,341.0 L375.2,340.4 L375.6,341.2 L376.0,341.4 L376.4,340.8 L376.8,342.0 L377.2,340.7 L377.6,341.8 L378.0,340.4 L378.4,341.4 L378.8,340.1 L379.2,340.7 L379.6,340.4 L380.0,341.1 L380.4,340.7 L380.8,341.0 L381.2,341.3 L381.6,340.7 L382.0,340.9 L382.4,341.2 L382.8,340.6 L383.2,341.2 L383.6,340.1 L384.0,341.9 L384.4,341.5 L384.8,340.3 L385.2,340.6 L385.6,340.9 L386.0,341.3 L386.4,341.4 L386.8,341.5 L387.2,341.5 L387.6,340.5 L388.0,341.0 L388.4,340.9 L388.8,341.2 L389.2,340.9 L389.6,340.1 L390.0,340.7 L390.4,342.1 L390.8,341.0 L391.2,341.5 L391.6,340.9 L392.0,340.8 L392.4,340.9 L392.8,340.8 L393.2,341.3 L393.6,340.7 L394.0,340.1 L394.4,341.3 L394.8,341.1 L395.2,340.7 L395.6,340.8 L396.0,341.2 L396.4,341.1 L396.8,340.5 L397.2,341.6 L397.6,342.1 L398.0,340.9 L398.4,340.4 L398.8,341.2 L399.2,341.3 L399.6,340.2 L400.0,339.9 L400.4,339.9 L400.8,340.4 L401.2,340.2 L401.6,340.6 L402.0,340.7 L402.4,340.2 L402.8,341.2 L403.2,341.7 L403.6,340.2 L404.0,341.0 L404.4,340.9 L404.8,340.8 L405.2,341.2 L405.6,340.8 L406.0,341.7 L406.4,341.2 L406.8,340.9 L407.2,341.6 L407.6,341.5 L408.0,342.1 L408.4,341.6 L408.8,341.4 L409.2,342.5 L409.6,341.8 L410.0,342.0 L410.4,342.6 L410.8,341.7 L411.2,342.0 L411.6,341.7 L412.0,343.0 L412.4,341.7 L412.8,341.5 L413.2,341.5 L413.6,342.8 L414.0,342.4 L414.4,341.5 L414.8,341.4 L415.2,342.7 L415.6,341.4 L416.0,341.6 L416.4,341.2 L416.8,342.6 L417.2,341.0 L417.6,340.5 L418.0,341.0 L418.4,340.8 L418.8,340.3 L419.2,339.9 L419.6,339.2 L420.0,339.6 L420.4,340.7 L420.8,339.1 L421.2,340.4 L421.6,340.8 L422.0,340.4 L422.4,340.1 L422.8,340.6 L423.2,340.8 L423.6,339.9 L424.0,340.9 L424.4,340.4 L424.8,340.1 L425.2,341.6 L425.6,341.0 L426.0,341.6 L426.4,340.9 L426.8,342.1 L427.2,341.9 L427.6,341.6 L428.0,341.3 L428.4,341.4 L428.8,341.7 L429.2,341.3 L429.6,341.1 L430.0,341.7 L430.4,341.6 L430.8,341.8 L431.2,341.6 L431.6,340.6 L432.0,341.1 L432.4,340.5 L432.8,340.2 L433.2,340.8 L433.6,340.6 L434.0,340.8 L434.4,340.4 L434.8,340.8 L435.2,340.3 L435.6,340.4 L436.0,340.7 L436.4,340.9 L436.8,339.9 L437.2,339.1 L437.6,339.2 L438.0,340.5 L438.4,340.7 L438.8,340.3 L439.2,340.6 L439.6,339.8 L440.0,339.8 L440.4,340.6 L440.8,340.5 L441.2,340.4 L441.6,340.4 L442.0,340.1 L442.4,339.4 L442.8,340.5 L443.2,340.0 L443.6,339.5 L444.0,339.4 L444.4,340.0 L444.8,339.2 L445.2,338.9 L445.6,339.6 L446.0,339.8 L446.4,339.8 L446.8,339.7 L447.2,339.4 L447.6,339.2 L448.0,338.4 L448.4,339.2 L448.8,339.0 L449.2,340.0 L449.6,339.1 L450.0,339.6 L450.4,339.8 L450.8,339.0 L451.2,338.9 L451.6,340.0 L452.0,339.9 L452.4,338.5 L452.8,339.2 L453.2,339.7 L453.6,338.8 L454.0,339.2 L454.4,339.4 L454.8,339.3 L455.2,339.5 L455.6,338.7 L456.0,339.5 L456.4,340.0 L456.8,340.3 L457.2,341.1 L457.6,341.4 L458.0,340.9 L458.4,340.3 L458.8,339.7 L459.2,340.0 L459.6,340.5 L460.0,339.9 L460.4,340.1 L460.8,340.6 L461.2,339.7 L461.6,339.9 L462.0,341.0 L462.4,340.7 L462.8,341.0 L463.2,340.7 L463.6,340.2 L464.0,341.2 L464.4,340.3 L464.8,340.6 L465.2,340.5 L465.6,340.2 L466.0,339.4 L466.4,340.0 L466.8,339.2 L467.2,340.0 L467.6,339.8 L468.0,340.8 L468.4,340.0 L468.8,340.3 L469.2,340.4 L469.6,339.7 L470.0,340.4 L470.4,340.4 L470.8,339.9 L471.2,340.1 L471.6,340.1 L472.0,340.0 L472.4,340.0 L472.8,340.1 L473.2,340.1 L473.6,339.4 L474.0,339.6 L474.4,339.3 L474.8,339.0 L475.2,339.0 L475.6,338.7 L476.0,339.4 L476.4,339.9 L476.8,339.5 L477.2,339.8 L477.6,339.9 L478.0,340.1 L478.4,340.4 L478.8,341.2 L479.2,340.4 L479.6,341.8 L480.0,341.4 L480.4,340.9 L480.8,340.4 L481.2,341.0 L481.6,340.4 L482.0,341.5 L482.4,340.6 L482.8,340.9 L483.2,340.4 L483.6,341.3 L484.0,341.1 L484.4,341.1 L484.8,341.7 L485.2,340.6 L485.6,340.1 L486.0,340.1 L486.4,340.7 L486.8,340.8 L487.2,340.8 L487.6,341.1 L488.0,341.3 L488.4,340.4 L488.8,341.2 L489.2,340.3 L489.6,340.1 L490.0,340.7 L490.4,340.7 L490.8,340.6 L491.2,339.8 L491.6,340.8 L492.0,340.4 L492.4,339.8 L492.8,340.2 L493.2,340.3 L493.6,340.4 L494.0,340.3 L494.4,341.5 L494.8,340.7 L495.2,341.2 L495.6,341.1 L496.0,341.3 L496.4,340.5 L496.8,342.0 L497.2,341.7 L497.6,340.9 L498.0,341.3 L498.4,340.7 L498.8,340.9 L499.2,340.4 L499.6,339.6 L500.0,340.0 L500.4,339.9 L500.8,339.8 L501.2,339.1 L501.6,339.9 L502.0,340.2 L502.4,340.0 L502.8,339.5 L503.2,340.6 L503.6,339.8 L504.0,340.1 L504.4,339.9 L504.8,339.7 L505.2,340.2 L505.6,339.8 L506.0,339.8 L506.4,339.4 L506.8,340.4 L507.2,340.5 L507.6,340.2 L508.0,340.0 L508.4,340.1 L508.8,340.5 L509.2,340.0 L509.6,340.3 L510.0,340.6 L510.4,340.5 L510.8,340.8 L511.2,341.1 L511.6,340.7 L512.0,341.7 L512.4,340.6 L512.8,340.8 L513.2,340.9 L513.6,340.7 L514.0,340.2 L514.4,340.8 L514.8,340.4 L515.2,340.8 L515.6,341.2 L516.0,341.3 L516.4,341.0 L516.8,340.8 L517.2,341.9 L517.6,340.8 L518.0,341.6 L518.4,340.4 L518.8,340.8 L519.2,341.3 L519.6,340.2 L520.0,340.1 L520.4,341.1 L520.8,341.5 L521.2,341.2 L521.6,341.1 L522.0,340.7 L522.4,341.1 L522.8,341.3 L523.2,340.8 L523.6,340.2 L524.0,341.4 L524.4,340.4 L524.8,340.3 L525.2,340.6 L525.6,341.2 L526.0,340.1 L526.4,340.6 L526.8,341.4" stroke="#00ffff" stroke-width="3.0"/>
<path d="M58.2,13.3 L58.2,13.6 L58.2,13.9 L58.2,14.2 L58.2,14.6 L58.2,15.0 L58.2,15.4 L58.2,15.9 L58.2,16.4 L58.3,16.8 L58.3,17.3 L58.3,17.8 L58.3,18.3 L58.3,18.8 L58.3,19.3 L58.3,19.8 L58.3,20.3 L58.3,20.8 L58.3,21.3 L58.3,21.8 L58.3,22.3 L58.3,22.8 L58.3,23.3 L58.3,23.8 L58.3,24.3 L58.3,24.8 L58.3,25.3 L58.4,25.8 L58.4,26.3 L58.4,26.8 L58.4,27.3 L58.4,27.8 L58.4,28.3 L58.4,28.8 L58.4,29.3 L58.4,29.8 L58.4,30.3 L58.4,30.8 L58.4,31.3 L58.4,31.8 L58.4,32.3 L58.4,32.8 L58.4,33.3 L58.4,33.8 L58.4,34.3 L58.4,34.8 L58.5,35.3 L58.5,35.8 L58.5,36.3 L58.5,36.8 L58.5,37.3 L58.5,37.8 L58.5,38.3 L58.5,38.8 L58.5,39.3 L58.5,39.8 L58.5,40.3 L58.5,40.8 L58.5,41.3 L58.5,41.8 L58.5,42.3 L58.5,42.8 L58.5,43.3 L58.5,43.8 L58.5,44.3 L58.5,44.8 L58.6,45.3 L58.6,45.8 L58.6,46.3 L58.6,46.8 L58.6,47.3 L58.6,47.8 L58.6,48.3 L58.6,48.8 L58.6,49.3 L58.6,49.8 L58.6,50.3 L58.6,50.8 L58.6,51.3 L58.6,51.8 L58.6,52.3 L58.6,52.8 L58.6,53.3 L58.6,53.8 L58.6,54.3 L58.6,54.8 L58.6,55.3 L58.7,55.8 L58.7,56.3 L58.7,56.8 L58.7,57.3 L58.7,57.8 L58.7,58.3 L58.7,58.8 L58.7,59.3 L58.7,59.8 L58.7,60.3 L58.7,60.8 L58.7,61.3 L58.7,61.8 L58.7,62.3 L58.7,62.8 L58.7,63.3 L58.7,63.8 L58.7,64.3 L58.7,64.8 L58.7,65.3 L58.7,65.8 L58.7,66.3 L58.7,66.8 L58.7,67.3 L58.7,67.8 L58.7,68.3 L58.8,68.8 L58.8,69.3 L58.8,69.8 L58.8,70.3 L58.8,70.8 L58.8,71.3 L58.8,71.8 L58.8,72.3 L58.8,72.8 L58.8,73.3 L58.8,73.8 L58.8,74.3 L58.8,74.8 L58.8,75.3 L58.8,75.8 L58.8,76.3 L58.8,76.8 L58.8,77.3 L58.8,77.8 L58.8,78.3 L58.8,78.8 L58.8,79.3 L58.8,79.8 L58.8,80.3 L58.8,80.8 L58.8,81.3 L58.8,81.8 L58.8,82.3 L58.9,82.8 L58.9,83.3 L58.9,83.8 L58.9,84.3 L58.9,84.8 L58.9,85.3 L58.9,85.8 L58.9,86.3 L58.9,86.8 L58.9,87.3 L58.9,87.8 L58.9,88.3 L58.9,88.8 L58.9,89.3 L58.9,89.8 L58.9,90.3 L58.9,90.8 L58.9,91.3 L58.9,91.8 L58.9,92.3 L58.9,92.8 L58.9,93.3 L58.9,93.8 L58.9,94.3 L58.9,94.8 L58.9,95.3 L58.9,95.8 L59.0,96.3 L59.0,96.8 L59.0,97.3 L59.0,97.8 L59.0,98.3 L59.0,98.8 L59.0,99.3 L59.0,99.8 L59.0,100.3 L59.0,100.8 L59.0,101.3 L59.0,101.8 L59.0,102.3 L59.0,102.8 L59.0,103.3 L59.0,103.8 L59.0,104.3 L59.0,104.8 L59.0,105.3 L59.0,105.8 L59.0,106.3 L59.0,106.8 L59.1,107.3 L59.1,107.8 L59.1,108.3 L59.1,108.8 L59.1,109.3 L59.1,109.8 L59.1,110.3 L59.1,110.8 L59.1,111.3 L59.1,111.8 L59.1,112.3 L59.1,112.8 L59.1,113.3 L59.1,113.8 L59.1,114.3 L59.1,114.8 L59.1,115.3 L59.1,115.8 L59.2,116.3 L59.2,116.8 L59.2,117.3 L59.2,117.8 L59.2,118.3 L59.2,118.8 L59.2,119.3 L59.2,119.8 L59.2,120.3 L59.2,120.8 L59.2,121.3 L59.2,121.8 L59.2,122.3 L59.2,122.8 L59.2,123.3 L59.3,123.8 L59.3,124.3 L59.3,124.8 L59.3,125.3 L59.3,125.8 L59.3,126.3 L59.3,126.8 L59.3,127.3 L59.3,127.8 L59.3,128.3 L59.3,128.8 L59.3,129.3 L59.3,129.8 L59.4,130.3 L59.4,130.8 L59.4,131.3 L59.4,131.8 L59.4,132.3 L59.4,132.8 L59.4,133.3 L59.4,133.8 L59.4,134.3 L59.4,134.8 L59.4,135.3 L59.5,135.8 L59.5,136.3 L59.5,136.8 L59.5,137.3 L59.5,137.8 L59.5,138.3 L59.5,138.8 L59.5,139.3 L59.5,139.8 L59.5,140.3 L59.6,140.8 L59.6,141.3 L59.6,141.8 L59.6,142.3 L59.6,142.8 L59.6,143.3 L59.6,143.8 L59.6,144.3 L59.7,144.8 L59.7,145.3 L59.7,145.8 L59.7,146.3 L59.7,146.8 L59.7,147.3 L59.7,147.8 L59.7,148.3 L59.8,148.8 L59.8,149.3 L59.8,149.8 L59.8,150.3 L59.8,150.8 L59.8,151.3 L59.8,151.8 L59.8,152.3 L59.9,152.8 L59.9,153.3 L59.9,153.8 L59.9,154.3 L59.9,154.8 L59.9,155.3 L60.0,155.8 L60.0,156.3 L60.0,156.8 L60.0,157.3 L60.0,157.8 L60.0,158.3 L60.1,158.8 L60.1,159.3 L60.1,159.8 L60.1,160.3 L60.1,160.8 L60.1,161.3 L60.2,161.8 L60.2,162.3 L60.2,162.8 L60.2,163.3 L60.2,163.8 L60.2,164.3 L60.3,164.8 L60.3,165.3 L60.3,165.8 L60.3,166.3 L60.3,166.8 L60.4,167.3 L60.4,167.8 L60.4,168.3 L60.4,168.8 L60.4,169.3 L60.5,169.8 L60.5,170.3 L60.5,170.8 L60.5,171.3 L60.5,171.8 L60.6,172.3 L60.6,172.8 L60.6,173.3 L60.6,173.8 L60.7,174.3 L60.7,174.8 L60.7,175.3 L60.7,175.8 L60.8,176.3 L60.8,176.8 L60.8,177.3 L60.8,177.8 L60.8,178.3 L60.9,178.8 L60.9,179.3 L60.9,179.8 L60.9,180.3 L61.0,180.8 L61.0,181.3 L61.0,181.8 L61.1,182.3 L61.1,182.8 L61.1,183.3 L61.1,183.8 L61.2,184.3 L61.2,184.8 L61.2,185.3 L61.3,185.8 L61.3,186.3 L61.3,186.8 L61.4,187.3 L61.4,187.8 L61.5,188.3 L61.5,188.8 L61.6,189.3 L61.6,189.7 L61.7,190.2 L61.7,190.7 L61.8,191.2 L61.9,191.7 L61.9,192.2 L62.0,192.7 L62.1,193.2 L62.1,193.7 L62.2,194.2 L62.3,194.7 L62.3,195.2 L62.4,195.7 L62.5,196.2 L62.6,196.7 L62.7,197.2 L62.8,197.7 L62.9,198.1 L63.0,198.6 L63.1,199.1 L63.2,199.6 L63.3,200.1 L63.5,200.6 L63.6,201.1 L63.7,201.5 L63.9,202.0 L64.0,202.5 L64.1,203.0 L64.2,203.5 L64.4,204.0 L64.5,204.4 L64.6,204.9 L64.7,205.4 L64.9,205.9 L65.0,206.4 L65.1,206.9 L65.2,207.4 L65.3,207.8 L65.4,208.3 L65.5,208.8 L65.6,209.3 L65.8,209.8 L65.9,210.3 L66.0,210.8 L66.1,211.3 L66.2,211.8 L66.3,212.2 L66.4,212.7 L66.5,213.2 L66.6,213.7 L66.7,214.2 L66.8,214.7 L66.9,215.2 L67.0,215.7 L67.1,216.2 L67.2,216.7 L67.3,217.1 L67.4,217.6 L67.5,218.1 L67.6,218.6 L67.7,219.1 L67.8,219.6 L67.9,220.1 L68.0,220.6 L68.1,221.1 L68.2,221.5 L68.3,222.0 L68.4,222.5 L68.6,223.0 L68.7,223.5 L68.8,224.0 L68.9,224.5 L69.0,225.0 L69.1,225.4 L69.2,225.9 L69.4,226.4 L69.5,226.9 L69.6,227.4 L69.7,227.9 L69.8,228.4 L70.0,228.8 L70.1,229.3 L70.2,229.8 L70.3,230.3 L70.5,230.8 L70.6,231.3 L70.7,231.7 L70.9,232.2 L71.0,232.7 L71.1,233.2 L71.2,233.7 L71.4,234.2 L71.5,234.6 L71.6,235.1 L71.8,235.6 L71.9,236.1 L72.1,236.6 L72.2,237.0 L72.3,237.5 L72.5,238.0 L72.6,238.5 L72.8,239.0 L72.9,239.4 L73.1,239.9 L73.2,240.4 L73.3,240.9 L73.5,241.3 L73.6,241.8 L73.8,242.3 L73.9,242.8 L74.1,243.3 L74.2,243.7 L74.4,244.2 L74.5,244.7 L74.6,245.2 L74.8,245.7 L74.9,246.1 L75.0,246.6 L75.2,247.1 L75.3,247.6 L75.4,248.1 L75.6,248.6 L75.7,249.0 L75.8,249.5 L75.9,250.0 L76.1,250.5 L76.2,251.0 L76.3,251.5 L76.4,252.0 L76.5,252.5 L76.6,252.9 L76.8,253.4 L76.9,253.9 L77.0,254.4 L77.1,254.9 L77.2,255.4 L77.3,255.9 L77.5,256.3 L77.6,256.8 L77.7,257.3 L77.9,257.8 L78.0,258.3 L78.1,258.7 L78.3,259.2 L78.4,259.7 L78.6,260.2 L78.7,260.6 L78.9,261.1 L79.0,261.6 L79.2,262.0 L79.4,262.5 L79.6,263.0 L79.8,263.4 L79.9,263.9 L80.1,264.4 L80.3,264.8 L80.5,265.3 L80.7,265.7 L80.9,266.2 L81.2,266.6 L81.4,267.1 L81.6,267.5 L81.8,268.0 L82.0,268.5 L82.2,268.9 L82.5,269.4 L82.7,269.8 L82.9,270.3 L83.1,270.7 L83.3,271.2 L83.6,271.6 L83.8,272.1 L84.0,272.5 L84.2,273.0 L84.4,273.4 L84.7,273.9 L84.9,274.3 L85.1,274.8 L85.3,275.2 L85.5,275.7 L85.7,276.1 L85.9,276.6 L86.2,277.0 L86.4,277.5 L86.6,277.9 L86.8,278.4 L87.0,278.8 L87.3,279.3 L87.5,279.7 L87.7,280.2 L88.0,280.6 L88.2,281.1 L88.4,281.5 L88.7,281.9 L88.9,282.4 L89.2,282.8 L89.4,283.2 L89.7,283.6 L90.0,284.1 L90.2,284.5 L90.5,284.9 L90.8,285.3 L91.1,285.7 L91.4,286.1 L91.7,286.5 L91.9,286.9 L92.2,287.3 L92.5,287.7 L92.8,288.1 L93.1,288.5 L93.4,288.9 L93.7,289.3 L94.0,289.7 L94.3,290.1 L94.6,290.5 L94.9,290.9 L95.2,291.4 L95.5,291.8 L95.8,292.2 L96.1,292.6 L96.4,293.0 L96.7,293.4 L97.0,293.8 L97.3,294.2 L97.6,294.6 L97.9,295.0 L98.2,295.4 L98.5,295.8 L98.8,296.2 L99.1,296.6 L99.4,297.0 L99.7,297.4 L100.0,297.8 L100.3,298.2 L100.6,298.6 L100.9,299.0 L101.2,299.4 L101.5,299.8 L101.8,300.2 L102.1,300.6 L102.4,301.0 L102.7,301.4 L103.0,301.8 L103.3,302.2 L103.6,302.6 L103.9,303.0 L104.2,303.4 L104.5,303.8 L104.8,304.2 L105.1,304.6 L105.3,305.0 L105.6,305.4 L105.9,305.8 L106.2,306.2 L106.5,306.6 L106.8,307.0 L107.1,307.4 L107.4,307.8 L107.7,308.2 L108.0,308.6 L108.3,309.0 L108.6,309.4 L108.9,309.8 L109.2,310.2 L109.5,310.6 L109.8,311.0 L110.1,311.4 L110.4,311.8 L110.7,312.2 L111.0,312.6 L111.3,313.0 L111.6,313.4 L111.9,313.8 L112.2,314.2 L112.5,314.6 L112.9,315.0 L113.2,315.4 L113.5,315.8 L113.8,316.2 L114.1,316.6 L114.4,317.0 L114.7,317.4 L115.0,317.8 L115.3,318.2 L115.6,318.6 L115.9,319.0 L116.2,319.4 L116.5,319.8 L116.8,320.1 L117.1,320.5 L117.5,320.9 L117.8,321.3 L118.1,321.7 L118.4,322.1 L118.7,322.5 L119.0,322.9 L119.3,323.3 L119.7,323.6 L120.0,324.0 L120.3,324.4 L120.6,324.8 L120.9,325.2 L121.3,325.6 L121.6,325.9 L121.9,326.3 L122.2,326.7 L122.6,327.1 L122.9,327.5 L123.2,327.8 L123.6,328.2 L123.9,328.6 L124.2,329.0 L124.6,329.3 L124.9,329.7 L125.3,330.0 L125.6,330.4 L125.9,330.8 L126.3,331.1 L126.6,331.5 L127.0,331.8 L127.4,332.2 L127.7,332.5 L128.1,332.9 L128.4,333.2 L128.8,333.6 L129.2,333.9 L129.5,334.2 L129.9,334.6 L130.3,334.9 L130.7,335.2 L131.0,335.6 L131.4,335.9 L131.8,336.2 L132.2,336.5 L132.6,336.8 L133.0,337.2 L133.4,337.5 L133.7,337.8 L134.1,338.1 L134.5,338.4 L134.9,338.7 L135.3,339.0 L135.7,339.3 L136.1,339.6 L136.5,339.9 L136.9,340.2 L137.3,340.5 L137.7,340.8 L138.1,341.1 L138.5,341.4 L138.9,341.7 L139.3,342.0 L139.7,342.3 L140.2,342.6 L140.6,342.8 L141.0,343.1 L141.4,343.4 L141.8,343.7 L142.2,344.0 L142.6,344.3 L143.0,344.6 L143.4,344.8 L143.9,345.1 L144.3,345.4 L144.7,345.7 L145.1,346.0 L145.5,346.3 L145.9,346.6 L146.3,346.9 L146.7,347.2 L147.1,347.5 L147.5,347.8 L147.9,348.1 L148.3,348.4 L148.7,348.7 L149.1,349.0 L149.5,349.3 L149.9,349.6 L150.3,349.9 L150.7,350.2 L151.1,350.4 L151.5,350.7 L151.9,351.0 L152.3,351.3 L152.7,351.6 L153.1,351.9 L153.6,352.2 L154.0,352.5 L154.4,352.7 L154.8,353.0 L155.2,353.3 L155.6,353.6 L156.0,353.8 L156.5,354.1 L156.9,354.4 L157.3,354.7 L157.7,354.9 L158.2,355.2 L158.6,355.5 L159.0,355.7 L159.4,356.0 L159.9,356.2 L160.3,356.5 L160.7,356.8 L161.2,357.0 L161.6,357.3 L162.0,357.5 L162.4,357.8 L162.9,358.0 L163.3,358.3 L163.7,358.5 L164.2,358.8 L164.6,359.0 L165.1,359.3 L165.5,359.5 L165.9,359.8 L166.4,360.0 L166.8,360.3 L167.3,360.5 L167.7,360.7 L168.1,361.0 L168.6,361.2 L169.0,361.4 L169.5,361.7 L169.9,361.9 L170.3,362.1 L170.8,362.4 L171.2,362.6 L171.7,362.8 L172.1,363.0 L172.6,363.3 L173.0,363.5 L173.5,363.7 L173.9,363.9 L174.4,364.2 L174.8,364.4 L175.3,364.6 L175.7,364.8 L176.2,365.0 L176.6,365.2 L177.1,365.5 L177.5,365.7 L178.0,365.9 L178.4,366.1 L178.9,366.3 L179.3,366.5 L179.8,366.7 L180.2,366.9 L180.7,367.1 L181.2,367.3 L181.6,367.5 L182.1,367.7 L182.5,367.9 L183.0,368.1 L183.5,368.3 L183.9,368.5 L184.4,368.7 L184.9,368.9 L185.3,369.1 L185.8,369.3 L186.3,369.4 L186.7,369.6 L187.2,369.8 L187.7,370.0 L188.1,370.1 L188.6,370.3 L189.1,370.5 L189.5,370.6 L190.0,370.8 L190.5,370.9 L191.0,371.1 L191.4,371.2 L191.9,371.4 L192.4,371.5 L192.9,371.7 L193.3,371.8 L193.8,371.9 L194.3,372.1 L194.8,372.2 L195.3,372.3 L195.7,372.4 L196.2,372.6 L196.6,372.7 L197.1,372.8 L197.5,372.9 L197.9,373.0 L198.2,373.1 L198.6,373.2 L198.8,373.2 L199.1,373.3" stroke="#77ac30" stroke-width="3.1" stroke-dasharray="11.2,2.9,3.6,2.9"/>
<path d="M200.0,374.7 L200.4,374.2 L200.8,374.6 L201.2,375.4 L201.6,374.2 L202.0,373.6 L202.4,373.3 L202.8,373.4 L203.2,373.3 L203.6,373.8 L204.0,374.2 L204.4,373.6 L204.8,373.5 L205.2,373.9 L205.6,373.4 L206.0,373.7 L206.4,374.3 L206.8,374.5 L207.2,374.0 L207.6,374.0 L208.0,374.1 L208.4,374.4 L208.8,375.0 L209.2,374.5 L209.6,374.0 L210.0,375.1 L210.4,375.2 L210.8,375.4 L211.2,375.3 L211.6,375.0 L212.0,374.8 L212.4,375.5 L212.8,375.2 L213.2,375.5 L213.6,376.1 L214.0,374.9 L214.4,375.0 L214.8,375.2 L215.2,375.6 L215.6,375.9 L216.0,376.1 L216.4,375.6 L216.8,376.4 L217.2,375.8 L217.6,376.2 L218.0,376.5 L218.4,376.3 L218.8,375.6 L219.2,375.6 L219.6,375.7 L220.0,375.8 L220.4,374.9 L220.8,375.0 L221.2,375.3 L221.6,376.0 L222.0,375.8 L222.4,375.7 L222.8,375.2 L223.2,375.2 L223.6,375.9 L224.0,375.3 L224.4,376.1 L224.8,375.3 L225.2,375.7 L225.6,376.0 L226.0,376.0 L226.4,375.9 L226.8,376.9 L227.2,376.1 L227.6,376.5 L228.0,376.3 L228.4,376.9 L228.8,377.0 L229.2,377.0 L229.6,376.7 L230.0,377.0 L230.4,376.3 L230.8,376.6 L231.2,377.1 L231.6,376.0 L232.0,376.3 L232.4,377.2 L232.8,377.0 L233.2,376.7 L233.6,376.7 L234.0,377.3 L234.4,376.9 L234.8,376.5 L235.2,376.0 L235.6,376.7 L236.0,376.2 L236.4,376.5 L236.8,376.2 L237.2,377.0 L237.6,376.1 L238.0,376.2 L238.4,376.7 L238.8,375.0 L239.2,375.6 L239.6,375.1 L240.0,376.4 L240.4,375.9 L240.8,375.7 L241.2,375.9 L241.6,376.3 L242.0,376.3 L242.4,376.3 L242.8,376.8 L243.2,376.7 L243.6,377.5 L244.0,376.4 L244.4,376.8 L244.8,377.3 L245.2,377.4 L245.6,376.9 L246.0,377.6 L246.4,377.5 L246.8,377.7 L247.2,376.8 L247.6,377.3 L248.0,376.7 L248.4,376.9 L248.8,377.0 L249.2,376.6 L249.6,376.7 L250.0,377.6 L250.4,376.5 L250.8,377.1 L251.2,377.5 L251.6,377.5 L252.0,376.8 L252.4,376.4 L252.8,377.3 L253.2,376.5 L253.6,376.7 L254.0,376.3 L254.4,375.9 L254.8,376.1 L255.2,376.1 L255.6,375.4 L256.0,376.6 L256.4,375.8 L256.8,376.6 L257.2,376.5 L257.6,376.0 L258.0,376.4 L258.4,376.5 L258.8,376.8 L259.2,377.0 L259.6,377.2 L260.0,377.2 L260.4,377.1 L260.8,376.6 L261.2,376.2 L261.6,376.8 L262.0,376.6 L262.4,377.0 L262.8,376.5 L263.2,376.9 L263.6,376.5 L264.0,377.1 L264.4,377.0 L264.8,377.4 L265.2,378.4 L265.6,377.7 L266.0,377.4 L266.4,377.7 L266.8,377.6 L267.2,377.7 L267.6,377.8 L268.0,377.8 L268.4,377.7 L268.8,378.1 L269.2,378.0 L269.6,378.1 L270.0,377.3 L270.4,377.1 L270.8,377.6 L271.2,375.8 L271.6,376.3 L272.0,376.3 L272.4,376.4 L272.8,376.0 L273.2,376.2 L273.6,376.0 L274.0,376.6 L274.4,376.3 L274.8,377.6 L275.2,377.3 L275.6,377.0 L276.0,377.9 L276.4,377.3 L276.8,376.7 L277.2,377.2 L277.6,376.7 L278.0,376.1 L278.4,376.9 L278.8,377.6 L279.2,376.4 L279.6,377.1 L280.0,377.6 L280.4,377.6 L280.8,377.9 L281.2,377.4 L281.6,378.0 L282.0,377.4 L282.4,377.3 L282.8,377.5 L283.2,377.2 L283.6,377.1 L284.0,377.0 L284.4,376.8 L284.8,376.8 L285.2,376.5 L285.6,377.2 L286.0,377.1 L286.4,376.2 L286.8,376.9 L287.2,377.2 L287.6,376.9 L288.0,377.6 L288.4,377.3 L288.8,377.7 L289.2,377.5 L289.6,378.1 L290.0,378.2 L290.4,379.2 L290.8,379.0 L291.2,378.6 L291.6,378.6 L292.0,378.7 L292.4,378.8 L292.8,377.8 L293.2,378.6 L293.6,378.9 L294.0,378.6 L294.4,378.1 L294.8,378.0 L295.2,377.9 L295.6,379.4 L296.0,379.1 L296.4,379.4 L296.8,378.8 L297.2,378.7 L297.6,378.4 L298.0,379.2 L298.4,378.5 L298.8,378.7 L299.2,379.5 L299.6,379.7 L300.0,379.0 L300.4,379.4 L300.8,379.1 L301.2,379.2 L301.6,378.4 L302.0,379.0 L302.4,379.0 L302.8,379.1 L303.2,379.1 L303.6,379.0 L304.0,379.3 L304.4,378.8 L304.8,379.4 L305.2,379.0 L305.6,379.6 L306.0,379.5 L306.4,379.5 L306.8,379.6 L307.2,379.6 L307.6,380.1 L308.0,379.5 L308.4,379.8 L308.8,379.8 L309.2,380.4 L309.6,379.9 L310.0,379.1 L310.4,379.1 L310.8,379.7 L311.2,380.0 L311.6,379.7 L312.0,380.5 L312.4,379.5 L312.8,379.5 L313.2,380.0 L313.6,380.5 L314.0,380.5 L314.4,380.1 L314.8,380.5 L315.2,380.0 L315.6,379.6 L316.0,380.1 L316.4,379.6 L316.8,379.1 L317.2,379.5 L317.6,379.0 L318.0,379.9 L318.4,379.5 L318.8,379.0 L319.2,380.3 L319.6,380.1 L320.0,379.9 L320.4,380.2 L320.8,380.4 L321.2,380.1 L321.6,380.1 L322.0,380.3 L322.4,379.5 L322.8,379.6 L323.2,380.2 L323.6,379.4 L324.0,379.2 L324.4,379.6 L324.8,380.0 L325.2,379.3 L325.6,379.6 L326.0,379.5 L326.4,380.5 L326.8,380.3 L327.2,379.9 L327.6,380.1 L328.0,379.0 L328.4,379.2 L328.8,379.5 L329.2,379.9 L329.6,378.6 L330.0,379.3 L330.4,378.9 L330.8,378.8 L331.2,378.8 L331.6,378.3 L332.0,379.2 L332.4,378.4 L332.8,378.8 L333.2,378.3 L333.6,378.6 L334.0,378.2 L334.4,379.6 L334.8,380.1 L335.2,379.1 L335.6,379.2 L336.0,379.8 L336.4,378.7 L336.8,379.0 L337.2,378.5 L337.6,379.1 L338.0,379.0 L338.4,379.3 L338.8,379.3 L339.2,378.5 L339.6,378.8 L340.0,379.2 L340.4,379.4 L340.8,379.1 L341.2,379.3 L341.6,379.4 L342.0,378.8 L342.4,378.9 L342.8,378.7 L343.2,378.3 L343.6,379.2 L344.0,379.4 L344.4,378.6 L344.8,379.4 L345.2,379.4 L345.6,378.6 L346.0,378.9 L346.4,378.9 L346.8,379.6 L347.2,379.8 L347.6,379.1 L348.0,378.7 L348.4,379.4 L348.8,379.9 L349.2,379.5 L349.6,379.4 L350.0,378.7 L350.4,379.6 L350.8,379.3 L351.2,379.4 L351.6,379.4 L352.0,379.1 L352.4,378.9 L352.8,379.3 L353.2,379.5 L353.6,380.0 L354.0,379.2 L354.4,378.9 L354.8,380.1 L355.2,379.8 L355.6,379.2 L356.0,379.5 L356.4,379.7 L356.8,380.4 L357.2,379.9 L357.6,380.6 L358.0,380.2 L358.4,379.9 L358.8,380.3 L359.2,379.6 L359.6,380.1 L360.0,380.7 L360.4,380.1 L360.8,380.3 L361.2,379.8 L361.6,380.2 L362.0,379.3 L362.4,379.7 L362.8,380.0 L363.2,379.4 L363.6,379.9 L364.0,379.7 L364.4,379.9 L364.8,379.4 L365.2,379.7 L365.6,379.4 L366.0,379.6 L366.4,379.7 L366.8,380.1 L367.2,380.5 L367.6,379.3 L368.0,380.4 L368.4,378.8 L368.8,378.8 L369.2,380.3 L369.6,380.0 L370.0,379.5 L370.4,379.4 L370.8,379.2 L371.2,378.2 L371.6,379.3 L372.0,378.8 L372.4,378.1 L372.8,379.2 L373.2,379.3 L373.6,379.7 L374.0,379.7 L374.4,379.3 L374.8,379.8 L375.2,379.6 L375.6,379.9 L376.0,380.7 L376.4,379.9 L376.8,379.1 L377.2,379.9 L377.6,379.5 L378.0,379.6 L378.4,380.5 L378.8,380.0 L379.2,379.4 L379.6,379.6 L380.0,380.0 L380.4,379.6 L380.8,380.1 L381.2,379.0 L381.6,379.4 L382.0,379.3 L382.4,378.8 L382.8,379.2 L383.2,379.2 L383.6,379.4 L384.0,378.0 L384.4,378.8 L384.8,378.9 L385.2,379.1 L385.6,378.8 L386.0,378.6 L386.4,378.3 L386.8,379.1 L387.2,378.5 L387.6,379.1 L388.0,378.5 L388.4,378.4 L388.8,377.8 L389.2,377.5 L389.6,378.0 L390.0,377.7 L390.4,378.2 L390.8,377.0 L391.2,377.0 L391.6,378.0 L392.0,377.3 L392.4,377.3 L392.8,376.9 L393.2,377.5 L393.6,378.2 L394.0,378.4 L394.4,377.3 L394.8,378.2 L395.2,377.7 L395.6,377.9 L396.0,378.4 L396.4,378.1 L396.8,378.2 L397.2,378.2 L397.6,378.1 L398.0,377.9 L398.4,378.1 L398.8,377.5 L399.2,377.3 L399.6,377.4 L400.0,377.8 L400.4,377.5 L400.8,377.9 L401.2,377.8 L401.6,378.4 L402.0,377.4 L402.4,378.2 L402.8,378.0 L403.2,378.6 L403.6,377.4 L404.0,377.9 L404.4,377.5 L404.8,377.6 L405.2,377.9 L405.6,378.2 L406.0,378.4 L406.4,377.6 L406.8,377.5 L407.2,377.7 L407.6,378.0 L408.0,377.7 L408.4,377.7 L408.8,377.7 L409.2,377.3 L409.6,377.5 L410.0,378.2 L410.4,377.6 L410.8,377.3 L411.2,377.5 L411.6,377.7 L412.0,378.0 L412.4,378.1 L412.8,377.3 L413.2,377.6 L413.6,377.6 L414.0,377.3 L414.4,376.8 L414.8,377.0 L415.2,377.8 L415.6,376.8 L416.0,377.9 L416.4,377.3 L416.8,377.3 L417.2,378.1 L417.6,378.2 L418.0,377.1 L418.4,378.1 L418.8,378.1 L419.2,377.7 L419.6,377.9 L420.0,377.6 L420.4,378.6 L420.8,378.9 L421.2,377.2 L421.6,377.3 L422.0,377.5 L422.4,377.1 L422.8,377.9 L423.2,377.5 L423.6,377.3 L424.0,376.8 L424.4,376.8 L424.8,377.5 L425.2,376.7 L425.6,377.8 L426.0,377.2 L426.4,377.7 L426.8,377.4 L427.2,377.5 L427.6,377.4 L428.0,377.0 L428.4,377.1 L428.8,377.4 L429.2,377.8 L429.6,378.3 L430.0,378.0 L430.4,378.8 L430.8,378.1 L431.2,377.8 L431.6,377.9 L432.0,377.8 L432.4,378.6 L432.8,378.3 L433.2,378.2 L433.6,378.0 L434.0,378.2 L434.4,377.6 L434.8,379.2 L435.2,378.5 L435.6,378.8 L436.0,378.9 L436.4,378.5 L436.8,378.5 L437.2,378.3 L437.6,378.6 L438.0,378.6 L438.4,377.8 L438.8,378.6 L439.2,377.8 L439.6,378.0 L440.0,378.8 L440.4,378.4 L440.8,377.0 L441.2,377.7 L441.6,377.8 L442.0,378.5 L442.4,378.9 L442.8,378.4 L443.2,378.5 L443.6,379.2 L444.0,379.5 L444.4,378.8 L444.8,379.8 L445.2,379.6 L445.6,380.6 L446.0,380.2 L446.4,380.1 L446.8,380.3 L447.2,379.9 L447.6,380.0 L448.0,379.9 L448.4,379.0 L448.8,379.9 L449.2,379.8 L449.6,379.6 L450.0,379.6 L450.4,378.6 L450.8,379.0 L451.2,378.8 L451.6,378.7 L452.0,378.3 L452.4,378.4 L452.8,378.8 L453.2,378.4 L453.6,378.7 L454.0,378.4 L454.4,379.0 L454.8,379.5 L455.2,378.8 L455.6,378.5 L456.0,377.9 L456.4,378.1 L456.8,378.6 L457.2,378.4 L457.6,378.2 L458.0,377.6 L458.4,377.9 L458.8,378.6 L459.2,378.1 L459.6,378.9 L460.0,378.7 L460.4,378.3 L460.8,379.4 L461.2,377.6 L461.6,378.4 L462.0,377.9 L462.4,378.2 L462.8,378.5 L463.2,378.7 L463.6,378.3 L464.0,378.0 L464.4,378.1 L464.8,377.5 L465.2,378.0 L465.6,378.3 L466.0,378.2 L466.4,378.4 L466.8,378.0 L467.2,378.4 L467.6,378.2 L468.0,377.9 L468.4,377.7 L468.8,377.4 L469.2,378.0 L469.6,378.1 L470.0,378.4 L470.4,378.0 L470.8,377.8 L471.2,378.5 L471.6,378.5 L472.0,378.6 L472.4,378.5 L472.8,378.1 L473.2,378.4 L473.6,378.3 L474.0,378.4 L474.4,377.8 L474.8,377.3 L475.2,378.1 L475.6,378.0 L476.0,377.5 L476.4,376.6 L476.8,377.1 L477.2,377.8 L477.6,377.0 L478.0,377.0 L478.4,377.5 L478.8,377.1 L479.2,377.0 L479.6,376.7 L480.0,377.2 L480.4,377.3 L480.8,377.6 L481.2,376.7 L481.6,377.9 L482.0,378.2 L482.4,377.7 L482.8,377.4 L483.2,378.0 L483.6,378.1 L484.0,377.3 L484.4,377.5 L484.8,377.6 L485.2,377.1 L485.6,377.3 L486.0,377.7 L486.4,378.2 L486.8,376.6 L487.2,377.6 L487.6,376.9 L488.0,377.3 L488.4,377.8 L488.8,377.2 L489.2,377.9 L489.6,377.6 L490.0,378.2 L490.4,377.4 L490.8,378.9 L491.2,377.7 L491.6,377.9 L492.0,377.6 L492.4,378.6 L492.8,378.1 L493.2,377.9 L493.6,378.3 L494.0,377.2 L494.4,377.3 L494.8,377.8 L495.2,377.4 L495.6,377.7 L496.0,377.8 L496.4,377.8 L496.8,378.1 L497.2,377.6 L497.6,378.5 L498.0,378.2 L498.4,378.0 L498.8,378.1 L499.2,378.6 L499.6,378.5 L500.0,378.9 L500.4,379.3 L500.8,378.6 L501.2,377.9 L501.6,378.6 L502.0,378.4 L502.4,378.3 L502.8,378.1 L503.2,377.4 L503.6,377.9 L504.0,378.1 L504.4,378.0 L504.8,378.7 L505.2,378.8 L505.6,377.3 L506.0,378.9 L506.4,377.6 L506.8,377.8 L507.2,379.1 L507.6,378.6 L508.0,378.3 L508.4,377.5 L508.8,377.9 L509.2,378.1 L509.6,377.5 L510.0,378.0 L510.4,377.3 L510.8,378.3 L511.2,377.7 L511.6,377.4 L512.0,378.3 L512.4,378.2 L512.8,378.6 L513.2,377.7 L513.6,378.2 L514.0,378.7 L514.4,378.3 L514.8,379.2 L515.2,379.3 L515.6,379.3 L516.0,379.3 L516.4,378.7 L516.8,379.4 L517.2,379.6 L517.6,378.3 L518.0,378.2 L518.4,378.5 L518.8,378.0 L519.2,378.0 L519.6,378.2 L520.0,377.9 L520.4,377.9 L520.8,379.0 L521.2,378.4 L521.6,379.3 L522.0,378.7 L522.4,379.3 L522.8,378.9 L523.2,378.4 L523.6,379.2 L524.0,378.9 L524.4,378.6 L524.8,379.7 L525.2,379.6 L525.6,378.4 L526.0,378.8 L526.4,378.7 L526.8,378.6" stroke="#77ac30" stroke-width="3.0"/>
<path d="M58.0,13.3 L58.0,13.6 L58.0,13.9 L58.0,14.2 L58.0,14.6 L58.0,15.0 L58.1,15.4 L58.1,15.9 L58.1,16.4 L58.1,16.8 L58.1,17.3 L58.1,17.8 L58.1,18.3 L58.1,18.8 L58.1,19.3 L58.1,19.8 L58.1,20.3 L58.2,20.8 L58.2,21.3 L58.2,21.8 L58.2,22.3 L58.2,22.8 L58.2,23.3 L58.2,23.8 L58.2,24.3 L58.2,24.8 L58.2,25.3 L58.2,25.8 L58.3,26.3 L58.3,26.8 L58.3,27.3 L58.3,27.8 L58.3,28.3 L58.3,28.8 L58.3,29.3 L58.3,29.8 L58.3,30.3 L58.3,30.8 L58.3,31.3 L58.3,31.8 L58.4,32.3 L58.4,32.8 L58.4,33.3 L58.4,33.8 L58.4,34.3 L58.4,34.8 L58.4,35.3 L58.4,35.8 L58.4,36.3 L58.4,36.8 L58.4,37.3 L58.4,37.8 L58.4,38.3 L58.5,38.8 L58.5,39.3 L58.5,39.8 L58.5,40.3 L58.5,40.8 L58.5,41.3 L58.5,41.8 L58.5,42.3 L58.5,42.8 L58.5,43.3 L58.5,43.8 L58.5,44.3 L58.5,44.8 L58.5,45.3 L58.5,45.8 L58.6,46.3 L58.6,46.8 L58.6,47.3 L58.6,47.8 L58.6,48.3 L58.6,48.8 L58.6,49.3 L58.6,49.8 L58.6,50.3 L58.6,50.8 L58.6,51.3 L58.6,51.8 L58.6,52.3 L58.6,52.8 L58.6,53.3 L58.6,53.8 L58.6,54.3 L58.7,54.8 L58.7,55.3 L58.7,55.8 L58.7,56.3 L58.7,56.8 L58.7,57.3 L58.7,57.8 L58.7,58.3 L58.7,58.8 L58.7,59.3 L58.7,59.8 L58.7,60.3 L58.7,60.8 L58.7,61.3 L58.7,61.8 L58.7,62.3 L58.7,62.8 L58.7,63.3 L58.7,63.8 L58.7,64.3 L58.7,64.8 L58.7,65.3 L58.7,65.8 L58.8,66.3 L58.8,66.8 L58.8,67.3 L58.8,67.8 L58.8,68.3 L58.8,68.8 L58.8,69.3 L58.8,69.8 L58.8,70.3 L58.8,70.8 L58.8,71.3 L58.8,71.8 L58.8,72.3 L58.8,72.8 L58.8,73.3 L58.8,73.8 L58.8,74.3 L58.8,74.8 L58.8,75.3 L58.8,75.8 L58.8,76.3 L58.8,76.8 L58.8,77.3 L58.8,77.8 L58.8,78.3 L58.8,78.8 L58.8,79.3 L58.8,79.8 L58.9,80.3 L58.9,80.8 L58.9,81.3 L58.9,81.8 L58.9,82.3 L58.9,82.8 L58.9,83.3 L58.9,83.8 L58.9,84.3 L58.9,84.8 L58.9,85.3 L58.9,85.8 L58.9,86.3 L58.9,86.8 L58.9,87.3 L58.9,87.8 L58.9,88.3 L58.9,88.8 L58.9,89.3 L58.9,89.8 L58.9,90.3 L58.9,90.8 L58.9,91.3 L58.9,91.8 L58.9,92.3 L58.9,92.8 L58.9,93.3 L58.9,93.8 L58.9,94.3 L59.0,94.8 L59.0,95.3 L59.0,95.8 L59.0,96.3 L59.0,96.8 L59.0,97.3 L59.0,97.8 L59.0,98.3 L59.0,98.8 L59.0,99.3 L59.0,99.8 L59.0,100.3 L59.0,100.8 L59.0,101.3 L59.0,101.8 L59.0,102.3 L59.0,102.8 L59.0,103.3 L59.0,103.8 L59.0,104.3 L59.0,104.8 L59.0,105.3 L59.0,105.8 L59.0,106.3 L59.1,106.8 L59.1,107.3 L59.1,107.8 L59.1,108.3 L59.1,108.8 L59.1,109.3 L59.1,109.8 L59.1,110.3 L59.1,110.8 L59.1,111.3 L59.1,111.8 L59.1,112.3 L59.1,112.8 L59.1,113.3 L59.1,113.8 L59.1,114.3 L59.1,114.8 L59.1,115.3 L59.1,115.8 L59.2,116.3 L59.2,116.8 L59.2,117.3 L59.2,117.8 L59.2,118.3 L59.2,118.8 L59.2,119.3 L59.2,119.8 L59.2,120.3 L59.2,120.8 L59.2,121.3 L59.2,121.8 L59.2,122.3 L59.2,122.8 L59.3,123.3 L59.3,123.8 L59.3,124.3 L59.3,124.8 L59.3,125.3 L59.3,125.8 L59.3,126.3 L59.3,126.8 L59.3,127.3 L59.3,127.8 L59.3,128.3 L59.4,128.8 L59.4,129.3 L59.4,129.8 L59.4,130.3 L59.4,130.8 L59.4,131.3 L59.4,131.8 L59.4,132.3 L59.4,132.8 L59.5,133.3 L59.5,133.8 L59.5,134.3 L59.5,134.8 L59.5,135.3 L59.5,135.8 L59.5,136.3 L59.5,136.8 L59.6,137.3 L59.6,137.8 L59.6,138.3 L59.6,138.8 L59.6,139.3 L59.6,139.8 L59.6,140.3 L59.6,140.8 L59.7,141.3 L59.7,141.8 L59.7,142.3 L59.7,142.8 L59.7,143.3 L59.7,143.8 L59.8,144.3 L59.8,144.8 L59.8,145.3 L59.8,145.8 L59.8,146.3 L59.8,146.8 L59.8,147.3 L59.9,147.8 L59.9,148.3 L59.9,148.8 L59.9,149.3 L59.9,149.8 L59.9,150.3 L60.0,150.8 L60.0,151.3 L60.0,151.8 L60.0,152.3 L60.0,152.8 L60.0,153.3 L60.1,153.8 L60.1,154.3 L60.1,154.8 L60.1,155.3 L60.1,155.8 L60.1,156.3 L60.2,156.8 L60.2,157.3 L60.2,157.8 L60.2,158.3 L60.2,158.8 L60.3,159.3 L60.3,159.8 L60.3,160.3 L60.3,160.8 L60.3,161.3 L60.3,161.8 L60.4,162.3 L60.4,162.8 L60.4,163.3 L60.4,163.8 L60.4,164.3 L60.5,164.8 L60.5,165.3 L60.5,165.8 L60.5,166.3 L60.5,166.8 L60.5,167.3 L60.6,167.8 L60.6,168.3 L60.6,168.8 L60.6,169.3 L60.6,169.8 L60.7,170.3 L60.7,170.8 L60.7,171.3 L60.7,171.8 L60.7,172.3 L60.8,172.8 L60.8,173.3 L60.8,173.8 L60.8,174.3 L60.8,174.8 L60.8,175.3 L60.9,175.8 L60.9,176.3 L60.9,176.8 L60.9,177.3 L60.9,177.8 L61.0,178.3 L61.0,178.8 L61.0,179.3 L61.0,179.8 L61.0,180.3 L61.1,180.8 L61.1,181.3 L61.1,181.8 L61.1,182.3 L61.1,182.8 L61.1,183.3 L61.2,183.8 L61.2,184.3 L61.2,184.8 L61.2,185.3 L61.2,185.8 L61.3,186.3 L61.3,186.8 L61.3,187.3 L61.3,187.8 L61.3,188.3 L61.4,188.8 L61.4,189.3 L61.4,189.8 L61.4,190.3 L61.4,190.8 L61.4,191.3 L61.5,191.8 L61.5,192.3 L61.5,192.8 L61.5,193.3 L61.5,193.8 L61.6,194.3 L61.6,194.8 L61.6,195.3 L61.6,195.8 L61.6,196.3 L61.6,196.8 L61.7,197.3 L61.7,197.8 L61.7,198.3 L61.7,198.8 L61.7,199.3 L61.8,199.8 L61.8,200.3 L61.8,200.8 L61.8,201.3 L61.8,201.8 L61.8,202.3 L61.9,202.8 L61.9,203.3 L61.9,203.7 L61.9,204.2 L61.9,204.7 L62.0,205.2 L62.0,205.7 L62.0,206.2 L62.0,206.7 L62.0,207.2 L62.1,207.7 L62.1,208.2 L62.1,208.7 L62.1,209.2 L62.1,209.7 L62.2,210.2 L62.2,210.7 L62.2,211.2 L62.2,211.7 L62.2,212.2 L62.3,212.7 L62.3,213.2 L62.3,213.7 L62.3,214.2 L62.3,214.7 L62.4,215.2 L62.4,215.7 L62.4,216.2 L62.4,216.7 L62.4,217.2 L62.5,217.7 L62.5,218.2 L62.5,218.7 L62.5,219.2 L62.6,219.7 L62.6,220.2 L62.6,220.7 L62.6,221.2 L62.6,221.7 L62.7,222.2 L62.7,222.7 L62.7,223.2 L62.7,223.7 L62.8,224.2 L62.8,224.7 L62.8,225.2 L62.8,225.7 L62.8,226.2 L62.9,226.7 L62.9,227.2 L62.9,227.7 L62.9,228.2 L63.0,228.7 L63.0,229.2 L63.0,229.7 L63.0,230.2 L63.1,230.7 L63.1,231.2 L63.1,231.7 L63.2,232.2 L63.2,232.7 L63.2,233.2 L63.2,233.7 L63.3,234.2 L63.3,234.7 L63.3,235.2 L63.3,235.7 L63.4,236.2 L63.4,236.7 L63.4,237.2 L63.5,237.7 L63.5,238.2 L63.5,238.7 L63.6,239.2 L63.6,239.7 L63.6,240.2 L63.7,240.7 L63.7,241.2 L63.7,241.7 L63.8,242.2 L63.8,242.7 L63.8,243.2 L63.9,243.7 L63.9,244.2 L64.0,244.7 L64.0,245.2 L64.0,245.7 L64.1,246.2 L64.1,246.7 L64.2,247.2 L64.2,247.7 L64.2,248.2 L64.3,248.7 L64.3,249.2 L64.4,249.7 L64.4,250.2 L64.4,250.7 L64.5,251.2 L64.5,251.7 L64.6,252.2 L64.6,252.7 L64.7,253.2 L64.7,253.7 L64.8,254.2 L64.8,254.7 L64.9,255.2 L64.9,255.7 L65.0,256.2 L65.0,256.7 L65.1,257.2 L65.1,257.7 L65.2,258.2 L65.3,258.6 L65.3,259.1 L65.4,259.6 L65.5,260.1 L65.6,260.6 L65.7,261.1 L65.8,261.6 L65.9,262.1 L66.0,262.6 L66.1,263.1 L66.2,263.6 L66.3,264.0 L66.4,264.5 L66.6,265.0 L66.7,265.5 L66.8,266.0 L67.0,266.5 L67.1,266.9 L67.3,267.4 L67.5,267.9 L67.6,268.4 L67.8,268.8 L68.0,269.3 L68.2,269.8 L68.3,270.2 L68.5,270.7 L68.7,271.1 L68.9,271.6 L69.1,272.0 L69.3,272.5 L69.6,272.9 L69.8,273.4 L70.0,273.8 L70.3,274.2 L70.5,274.6 L70.8,275.1 L71.0,275.5 L71.3,275.9 L71.6,276.3 L71.9,276.7 L72.1,277.2 L72.4,277.6 L72.7,278.0 L73.0,278.4 L73.3,278.8 L73.7,279.2 L74.0,279.6 L74.3,280.0 L74.6,280.4 L74.9,280.8 L75.2,281.2 L75.5,281.6 L75.9,281.9 L76.2,282.3 L76.5,282.7 L76.8,283.1 L77.1,283.5 L77.5,283.9 L77.8,284.3 L78.1,284.6 L78.4,285.0 L78.8,285.4 L79.1,285.8 L79.4,286.1 L79.8,286.5 L80.1,286.9 L80.5,287.2 L80.8,287.6 L81.1,288.0 L81.5,288.3 L81.8,288.7 L82.2,289.1 L82.5,289.4 L82.9,289.8 L83.2,290.2 L83.5,290.5 L83.9,290.9 L84.2,291.2 L84.6,291.6 L84.9,292.0 L85.3,292.3 L85.6,292.7 L86.0,293.1 L86.3,293.4 L86.6,293.8 L87.0,294.1 L87.3,294.5 L87.7,294.9 L88.0,295.2 L88.4,295.6 L88.7,296.0 L89.1,296.3 L89.4,296.7 L89.7,297.0 L90.1,297.4 L90.4,297.8 L90.8,298.1 L91.1,298.5 L91.5,298.9 L91.8,299.2 L92.1,299.6 L92.5,300.0 L92.8,300.3 L93.2,300.7 L93.5,301.1 L93.9,301.4 L94.2,301.8 L94.5,302.2 L94.9,302.5 L95.2,302.9 L95.6,303.3 L95.9,303.6 L96.2,304.0 L96.6,304.4 L96.9,304.7 L97.3,305.1 L97.6,305.5 L97.9,305.8 L98.3,306.2 L98.6,306.6 L99.0,306.9 L99.3,307.3 L99.7,307.6 L100.0,308.0 L100.3,308.4 L100.7,308.7 L101.0,309.1 L101.4,309.5 L101.7,309.8 L102.1,310.2 L102.4,310.5 L102.8,310.9 L103.1,311.2 L103.5,311.6 L103.8,311.9 L104.2,312.3 L104.6,312.6 L104.9,313.0 L105.3,313.3 L105.6,313.7 L106.0,314.0 L106.4,314.4 L106.7,314.7 L107.1,315.0 L107.4,315.4 L107.8,315.7 L108.2,316.1 L108.5,316.4 L108.9,316.8 L109.3,317.1 L109.7,317.4 L110.0,317.8 L110.4,318.1 L110.8,318.4 L111.1,318.8 L111.5,319.1 L111.9,319.4 L112.3,319.8 L112.6,320.1 L113.0,320.4 L113.4,320.8 L113.8,321.1 L114.1,321.4 L114.5,321.8 L114.9,322.1 L115.3,322.4 L115.6,322.7 L116.0,323.1 L116.4,323.4 L116.8,323.7 L117.2,324.0 L117.5,324.4 L117.9,324.7 L118.3,325.0 L118.7,325.3 L119.1,325.7 L119.4,326.0 L119.8,326.3 L120.2,326.6 L120.6,327.0 L121.0,327.3 L121.3,327.6 L121.7,327.9 L122.1,328.2 L122.5,328.6 L122.9,328.9 L123.3,329.2 L123.7,329.5 L124.0,329.8 L124.4,330.2 L124.8,330.5 L125.2,330.8 L125.6,331.1 L126.0,331.4 L126.4,331.7 L126.7,332.1 L127.1,332.4 L127.5,332.7 L127.9,333.0 L128.3,333.3 L128.7,333.6 L129.1,333.9 L129.5,334.2 L129.9,334.6 L130.3,334.9 L130.7,335.2 L131.1,335.5 L131.5,335.8 L131.9,336.1 L132.3,336.4 L132.7,336.7 L133.1,337.0 L133.5,337.3 L133.9,337.6 L134.3,337.9 L134.7,338.2 L135.1,338.5 L135.5,338.8 L135.9,339.1 L136.3,339.4 L136.7,339.6 L137.1,339.9 L137.5,340.2 L137.9,340.5 L138.3,340.8 L138.7,341.1 L139.1,341.4 L139.5,341.7 L140.0,341.9 L140.4,342.2 L140.8,342.5 L141.2,342.8 L141.6,343.1 L142.0,343.4 L142.4,343.6 L142.8,343.9 L143.3,344.2 L143.7,344.5 L144.1,344.8 L144.5,345.1 L144.9,345.3 L145.3,345.6 L145.7,345.9 L146.1,346.2 L146.5,346.5 L147.0,346.8 L147.4,347.1 L147.8,347.3 L148.2,347.6 L148.6,347.9 L149.0,348.2 L149.4,348.5 L149.8,348.8 L150.2,349.1 L150.6,349.4 L151.0,349.7 L151.4,349.9 L151.9,350.2 L152.3,350.5 L152.7,350.8 L153.1,351.1 L153.5,351.4 L153.9,351.6 L154.3,351.9 L154.8,352.2 L155.2,352.5 L155.6,352.7 L156.0,353.0 L156.4,353.3 L156.9,353.5 L157.3,353.8 L157.7,354.1 L158.1,354.3 L158.6,354.6 L159.0,354.9 L159.4,355.1 L159.8,355.4 L160.3,355.6 L160.7,355.9 L161.1,356.2 L161.6,356.4 L162.0,356.7 L162.4,356.9 L162.8,357.2 L163.3,357.4 L163.7,357.7 L164.1,357.9 L164.6,358.2 L165.0,358.4 L165.5,358.7 L165.9,358.9 L166.3,359.1 L166.8,359.4 L167.2,359.6 L167.6,359.9 L168.1,360.1 L168.5,360.3 L169.0,360.6 L169.4,360.8 L169.8,361.0 L170.3,361.3 L170.7,361.5 L171.2,361.7 L171.6,362.0 L172.1,362.2 L172.5,362.4 L173.0,362.7 L173.4,362.9 L173.8,363.1 L174.3,363.3 L174.7,363.5 L175.2,363.8 L175.6,364.0 L176.1,364.2 L176.5,364.4 L176.9,364.6 L177.3,364.8 L177.7,364.9 L178.0,365.1 L178.4,365.3 L178.7,365.4 L178.9,365.5 L179.2,365.6 L180.4,366.2 L180.8,366.4 L181.2,366.6 L181.6,366.8 L182.0,367.0 L182.4,367.3 L182.8,367.5 L183.2,367.7 L183.6,367.9 L184.0,368.0 L184.4,368.2 L184.8,368.4 L185.2,368.5 L185.6,368.9 L186.0,369.0 L186.4,369.1 L186.8,369.4 L187.2,369.5 L187.6,369.7 L188.0,369.9 L188.4,370.1 L188.8,370.2 L189.2,370.2 L189.6,370.5 L190.0,370.7 L190.4,370.8 L190.8,370.9 L191.2,371.2 L191.6,371.3 L192.0,371.3 L192.4,371.6 L192.8,371.6 L193.2,371.7 L193.6,372.1 L194.0,372.3 L194.4,372.6 L194.8,372.6 L195.2,373.0 L195.6,373.1 L196.0,373.4 L196.4,373.3 L196.8,373.8 L197.2,373.6 L197.6,373.4 L198.0,373.9 L198.4,373.6 L198.8,374.2 L199.2,373.7 L199.6,374.1 L200.0,373.8 L200.4,374.3 L200.8,374.7 L201.2,374.4 L201.6,374.9 L202.0,374.7 L202.4,374.5 L202.8,374.9 L203.2,374.9 L203.6,375.4 L204.0,375.5 L204.4,375.9 L204.8,375.3 L205.2,375.7 L205.6,375.6 L206.0,375.7 L206.4,375.9 L206.8,376.3 L207.2,376.5 L207.6,376.7 L208.0,376.3 L208.4,376.4 L208.8,376.4 L209.2,375.5 L209.6,376.9 L210.0,377.0 L210.4,377.0 L210.8,377.4 L211.2,377.9 L211.6,377.2 L212.0,377.9 L212.4,377.5 L212.8,377.8 L213.2,377.8 L213.6,377.8 L214.0,378.5 L214.4,377.8 L214.8,377.7 L215.2,377.3 L215.6,378.4 L216.0,377.9 L216.4,377.7 L216.8,377.3 L217.2,377.6 L217.6,378.6 L218.0,377.5 L218.4,377.6 L218.8,378.8 L219.2,377.8 L219.6,378.6 L220.0,379.2 L220.4,377.7 L220.8,377.8 L221.2,378.9 L221.6,378.9 L222.0,379.2 L222.4,378.3 L222.8,378.3 L223.2,377.7 L223.6,378.3 L224.0,378.6 L224.4,378.9 L224.8,378.3 L225.2,378.7 L225.6,379.4 L226.0,379.7 L226.4,379.1 L226.8,379.1 L227.2,379.5 L227.6,377.5 L228.0,379.8 L228.4,378.9 L228.8,378.1 L229.2,379.5 L229.6,380.0 L230.0,379.5 L230.4,380.9 L230.8,380.9 L231.2,382.0 L231.6,380.8 L232.0,380.9 L232.4,380.8 L232.8,380.6 L233.2,381.5 L233.6,382.7 L234.0,381.1 L234.4,381.1 L234.8,381.8 L235.2,381.3 L235.6,382.0 L236.0,381.6 L236.4,381.4 L236.8,381.3 L237.2,381.6 L237.6,382.4 L238.0,380.4 L238.4,382.7 L238.8,381.9 L239.2,382.6 L239.6,382.4 L240.0,382.4 L240.4,381.7 L240.8,381.9 L241.2,383.1 L241.6,383.2 L242.0,384.3 L242.4,381.3 L242.8,382.9 L243.2,381.8 L243.6,384.5 L244.0,382.8 L244.4,382.3 L244.8,383.4 L245.2,383.4 L245.6,382.1 L246.0,382.3 L246.4,382.6 L246.8,383.7 L247.2,382.4 L247.6,383.0 L248.0,383.7 L248.4,383.3 L248.8,383.0 L249.2,383.4 L249.6,384.1 L250.0,383.4 L250.4,383.9 L250.8,382.7 L251.2,383.1 L251.6,382.8 L252.0,383.8 L252.4,382.4 L252.8,382.0 L253.2,383.3 L253.6,383.8 L254.0,384.5 L254.4,382.5 L254.8,382.9 L255.2,384.8 L255.6,384.7 L256.0,384.3 L256.4,385.0 L256.8,385.8 L257.2,385.7 L257.6,384.4 L258.0,385.5 L258.4,385.7 L258.8,386.2 L259.2,386.2 L259.6,385.5 L260.0,385.7 L260.4,385.0 L260.8,384.7 L261.2,385.3 L261.6,384.3 L262.0,383.9 L262.4,384.4 L262.8,385.6 L263.2,385.4 L263.6,385.4 L264.0,386.5 L264.4,386.0 L264.8,385.7 L265.2,386.8 L265.6,386.2 L266.0,385.4 L266.4,386.1 L266.8,386.2 L267.2,386.7 L267.6,386.5 L268.0,386.9 L268.4,386.6 L268.8,386.4 L269.2,386.3 L269.6,386.4 L270.0,386.2 L270.4,385.4 L270.8,385.7 L271.2,386.5 L271.6,385.3 L272.0,386.8 L272.4,386.1 L272.8,385.7 L273.2,384.9 L273.6,385.8 L274.0,385.7 L274.4,386.4 L274.8,387.0 L275.2,387.0 L275.6,387.1 L276.0,387.4 L276.4,388.1 L276.8,387.7 L277.2,387.8 L277.6,387.2 L278.0,387.7 L278.4,388.0 L278.8,386.6 L279.2,388.8 L279.6,387.5 L280.0,388.0 L280.4,386.4 L280.8,387.9 L281.2,387.2 L281.6,388.0 L282.0,387.5 L282.4,387.6 L282.8,387.4 L283.2,389.2 L283.6,388.1 L284.0,387.9 L284.4,387.7 L284.8,388.5 L285.2,389.5 L285.6,388.5 L286.0,388.0 L286.4,388.4 L286.8,388.1 L287.2,388.3 L287.6,387.9 L288.0,389.2 L288.4,389.6 L288.8,388.0 L289.2,387.6 L289.6,388.3 L290.0,388.2 L290.4,388.8 L290.8,388.0 L291.2,388.3 L291.6,388.5 L292.0,388.5 L292.4,388.8 L292.8,388.9 L293.2,388.9 L293.6,387.5 L294.0,388.8 L294.4,388.5 L294.8,387.1 L295.2,388.2 L295.6,387.7 L296.0,388.0 L296.4,387.3 L296.8,388.6 L297.2,388.6 L297.6,388.9 L298.0,388.8 L298.4,388.9 L298.8,389.2 L299.2,389.7 L299.6,389.2 L300.0,389.9 L300.4,388.8 L300.8,390.1 L301.2,389.6 L301.6,390.8 L302.0,390.1 L302.4,389.2 L302.8,389.8 L303.2,389.2 L303.6,389.9 L304.0,389.1 L304.4,388.8 L304.8,388.8 L305.2,388.0 L305.6,388.7 L306.0,388.5 L306.4,388.7 L306.8,389.4 L307.2,388.1 L307.6,388.9 L308.0,390.0 L308.4,389.1 L308.8,389.0 L309.2,389.4 L309.6,390.0 L310.0,389.3 L310.4,389.9 L310.8,388.5 L311.2,389.9 L311.6,388.9 L312.0,389.4 L312.4,389.6 L312.8,388.5 L313.2,390.1 L313.6,389.1 L314.0,388.7 L314.4,390.0 L314.8,389.6 L315.2,390.5 L315.6,389.3 L316.0,388.6 L316.4,389.6 L316.8,388.2 L317.2,389.8 L317.6,389.2 L318.0,387.7 L318.4,388.9 L318.8,388.3 L319.2,387.6 L319.6,388.0 L320.0,387.9 L320.4,388.4 L320.8,387.7 L321.2,389.1 L321.6,389.6 L322.0,388.7 L322.4,387.8 L322.8,388.3 L323.2,388.4 L323.6,387.8 L324.0,388.2 L324.4,389.0 L324.8,387.7 L325.2,388.7 L325.6,388.0 L326.0,387.5 L326.4,388.0 L326.8,388.8 L327.2,388.4 L327.6,388.2 L328.0,388.6 L328.4,388.3 L328.8,389.1 L329.2,389.5 L329.6,389.5 L330.0,389.8 L330.4,388.9 L330.8,386.9 L331.2,388.2 L331.6,386.9 L332.0,387.3 L332.4,387.0 L332.8,387.7 L333.2,387.3 L333.6,387.1 L334.0,387.5 L334.4,386.6 L334.8,387.0 L335.2,388.0 L335.6,388.8 L336.0,387.4 L336.4,388.6 L336.8,387.6 L337.2,388.4 L337.6,386.9 L338.0,387.6 L338.4,388.1 L338.8,386.5 L339.2,387.1 L339.6,386.4 L340.0,386.8 L340.4,387.1 L340.8,386.7 L341.2,386.6 L341.6,387.2 L342.0,386.7 L342.4,386.9 L342.8,386.7 L343.2,387.3 L343.6,386.7 L344.0,386.6 L344.4,386.5 L344.8,386.4 L345.2,387.5 L345.6,387.9 L346.0,387.3 L346.4,386.7 L346.8,386.5 L347.2,387.1 L347.6,387.0 L348.0,387.2 L348.4,387.0 L348.8,387.2 L349.2,386.2 L349.6,387.8 L350.0,386.0 L350.4,386.4 L350.8,386.5 L351.2,386.2 L351.6,385.5 L352.0,387.5 L352.4,389.0 L352.8,387.6 L353.2,385.9 L353.6,387.0 L354.0,386.8 L354.4,387.6 L354.8,387.0 L355.2,386.8 L355.6,386.5 L356.0,387.3 L356.4,386.9 L356.8,387.3 L357.2,387.5 L357.6,387.4 L358.0,387.4 L358.4,387.3 L358.8,387.5 L359.2,386.8 L359.6,386.3 L360.0,387.5 L360.4,388.1 L360.8,387.4 L361.2,387.2 L361.6,387.8 L362.0,387.2 L362.4,387.4 L362.8,387.9 L363.2,388.3 L363.6,388.4 L364.0,389.4 L364.4,388.5 L364.8,387.9 L365.2,388.1 L365.6,388.3 L366.0,388.4 L366.4,387.7 L366.8,388.6 L367.2,388.5 L367.6,387.6 L368.0,388.7 L368.4,387.9 L368.8,387.5 L369.2,387.8 L369.6,387.7 L370.0,388.7 L370.4,387.7 L370.8,388.8 L371.2,388.2 L371.6,387.9 L372.0,388.1 L372.4,387.6 L372.8,387.4 L373.2,386.8 L373.6,388.1 L374.0,389.0 L374.4,386.9 L374.8,387.5 L375.2,388.6 L375.6,388.7 L376.0,388.6 L376.4,387.6 L376.8,388.5 L377.2,387.8 L377.6,387.2 L378.0,388.1 L378.4,388.2 L378.8,388.9 L379.2,387.6 L379.6,387.5 L380.0,388.2 L380.4,388.3 L380.8,388.8 L381.2,387.9 L381.6,387.2 L382.0,387.3 L382.4,388.8 L382.8,385.8 L383.2,386.8 L383.6,387.8 L384.0,386.9 L384.4,386.3 L384.8,386.6 L385.2,387.6 L385.6,386.7 L386.0,387.6 L386.4,387.6 L386.8,388.0 L387.2,388.1 L387.6,388.2 L388.0,387.9 L388.4,388.2 L388.8,387.8 L389.2,387.4 L389.6,387.9 L390.0,388.4 L390.4,388.7 L390.8,389.2 L391.2,387.9 L391.6,387.5 L392.0,387.5 L392.4,388.2 L392.8,386.9 L393.2,387.4 L393.6,388.5 L394.0,388.7 L394.4,387.8 L394.8,389.3 L395.2,389.1 L395.6,389.6 L396.0,389.8 L396.4,389.1 L396.8,389.1 L397.2,389.2 L397.6,388.2 L398.0,389.1 L398.4,387.8 L398.8,389.3 L399.2,389.0 L399.6,388.3 L400.0,388.8 L400.4,388.6 L400.8,389.3 L401.2,390.0 L401.6,389.2 L402.0,389.6 L402.4,390.3 L402.8,389.5 L403.2,390.1 L403.6,389.0 L404.0,389.2 L404.4,389.7 L404.8,389.8 L405.2,388.2 L405.6,388.7 L406.0,389.4 L406.4,388.7 L406.8,387.8 L407.2,388.4 L407.6,387.8 L408.0,388.8 L408.4,387.6 L408.8,387.4 L409.2,388.1 L409.6,388.0 L410.0,388.0 L410.4,387.5 L410.8,388.4 L411.2,387.8 L411.6,387.2 L412.0,389.6 L412.4,388.0 L412.8,387.4 L413.2,388.2 L413.6,387.0 L414.0,388.3 L414.4,388.4 L414.8,388.0 L415.2,388.1 L415.6,388.2 L416.0,388.8 L416.4,389.7 L416.8,386.3 L417.2,388.2 L417.6,387.8 L418.0,389.0 L418.4,388.1 L418.8,388.4 L419.2,387.9 L419.6,388.8 L420.0,388.6 L420.4,388.2 L420.8,389.3 L421.2,389.4 L421.6,388.5 L422.0,388.1 L422.4,387.7 L422.8,389.4 L423.2,387.5 L423.6,388.2 L424.0,387.5 L424.4,387.5 L424.8,387.6 L425.2,389.0 L425.6,388.0 L426.0,387.3 L426.4,387.8 L426.8,387.7 L427.2,388.4 L427.6,388.5 L428.0,389.8 L428.4,388.4 L428.8,388.3 L429.2,389.1 L429.6,390.0 L430.0,388.5 L430.4,388.1 L430.8,389.3 L431.2,387.3 L431.6,388.2 L432.0,387.9 L432.4,388.6 L432.8,388.4 L433.2,388.0 L433.6,387.9 L434.0,388.1 L434.4,387.8 L434.8,387.6 L435.2,387.9 L435.6,387.9 L436.0,388.8 L436.4,387.9 L436.8,387.1 L437.2,387.8 L437.6,387.2 L438.0,388.7 L438.4,387.9 L438.8,387.4 L439.2,387.2 L439.6,388.2 L440.0,387.3 L440.4,387.1 L440.8,387.8 L441.2,387.4 L441.6,388.0 L442.0,388.2 L442.4,389.2 L442.8,389.1 L443.2,389.0 L443.6,387.8 L444.0,388.6 L444.4,387.7 L444.8,387.9 L445.2,387.9 L445.6,387.5 L446.0,387.1 L446.4,388.9 L446.8,388.5 L447.2,388.0 L447.6,388.7 L448.0,388.3 L448.4,388.8 L448.8,388.0 L449.2,388.4 L449.6,386.5 L450.0,389.0 L450.4,388.2 L450.8,387.3 L451.2,387.0 L451.6,386.5 L452.0,387.6 L452.4,387.6 L452.8,387.9 L453.2,388.0 L453.6,388.3 L454.0,387.2 L454.4,387.3 L454.8,388.9 L455.2,388.4 L455.6,389.2 L456.0,387.7 L456.4,388.2 L456.8,387.7 L457.2,390.1 L457.6,387.3 L458.0,387.7 L458.4,388.6 L458.8,388.9 L459.2,387.0 L459.6,387.6 L460.0,386.7 L460.4,388.6 L460.8,388.3 L461.2,387.8 L461.6,387.1 L462.0,387.7 L462.4,387.6 L462.8,387.8 L463.2,386.9 L463.6,388.2 L464.0,386.8 L464.4,387.0 L464.8,387.1 L465.2,387.8 L465.6,387.1 L466.0,388.2 L466.4,388.0 L466.8,387.0 L467.2,388.1 L467.6,387.0 L468.0,387.1 L468.4,389.1 L468.8,388.6 L469.2,389.5 L469.6,388.5 L470.0,388.3 L470.4,388.1 L470.8,389.6 L471.2,388.9 L471.6,387.4 L472.0,387.7 L472.4,387.7 L472.8,387.3 L473.2,388.7 L473.6,387.9 L474.0,388.5 L474.4,388.2 L474.8,387.1 L475.2,387.8 L475.6,387.6 L476.0,388.8 L476.4,388.5 L476.8,387.9 L477.2,389.0 L477.6,389.6 L478.0,387.3 L478.4,386.6 L478.8,387.8 L479.2,387.7 L479.6,386.2 L480.0,386.4 L480.4,386.6 L480.8,387.5 L481.2,387.3 L481.6,386.4 L482.0,386.7 L482.4,386.7 L482.8,387.5 L483.2,388.8 L483.6,388.4 L484.0,388.1 L484.4,386.9 L484.8,388.3 L485.2,387.3 L485.6,387.5 L486.0,388.8 L486.4,388.3 L486.8,389.1 L487.2,389.1 L487.6,388.4 L488.0,388.9 L488.4,389.0 L488.8,388.3 L489.2,387.3 L489.6,388.5 L490.0,387.1 L490.4,386.8 L490.8,386.7 L491.2,387.5 L491.6,387.0 L492.0,387.9 L492.4,385.8 L492.8,386.3 L493.2,386.6 L493.6,386.3 L494.0,385.5 L494.4,385.7 L494.8,386.0 L495.2,386.1 L495.6,386.3 L496.0,386.3 L496.4,385.9 L496.8,385.6 L497.2,387.5 L497.6,387.6 L498.0,386.6 L498.4,387.2 L498.8,387.1 L499.2,387.1 L499.6,386.2 L500.0,386.8 L500.4,386.5 L500.8,386.0 L501.2,386.3 L501.6,387.4 L502.0,387.3 L502.4,387.6 L502.8,387.5 L503.2,387.6 L503.6,387.8 L504.0,387.1 L504.4,387.4 L504.8,389.4 L505.2,388.3 L505.6,389.0 L506.0,388.0 L506.4,388.3 L506.8,389.2 L507.2,388.5 L507.6,388.6 L508.0,388.7 L508.4,388.1 L508.8,387.3 L509.2,387.2 L509.6,387.2 L510.0,387.1 L510.4,386.7 L510.8,387.2 L511.2,387.5 L511.6,389.0 L512.0,387.5 L512.4,388.0 L512.8,387.9 L513.2,387.9 L513.6,387.3 L514.0,388.4 L514.4,387.7 L514.8,388.8 L515.2,388.2 L515.6,387.2 L516.0,388.5 L516.4,387.1 L516.8,386.7 L517.2,388.9 L517.6,388.0 L518.0,388.3 L518.4,387.5 L518.8,387.5 L519.2,387.2 L519.6,387.5 L520.0,387.5 L520.4,386.9 L520.8,388.6 L521.2,387.2 L521.6,388.4 L522.0,387.1 L522.4,387.9 L522.8,387.3 L523.2,387.6 L523.6,387.9 L524.0,387.6 L524.4,387.9 L524.8,387.8 L525.2,387.5 L525.6,388.1 L526.0,388.2 L526.4,388.8 L526.8,388.2 L527.2,387.6" stroke="#000000" stroke-width="4.6" stroke-linecap="round"/>
</g>
<g font-size="14.67px">
<text x="57.1" y="415.2" text-anchor="middle">0</text>
<text x="115.8" y="415.2" text-anchor="middle">1000</text>
<text x="174.5" y="415.2" text-anchor="middle">2000</text>
<text x="233.3" y="415.2" text-anchor="middle">3000</text>
<text x="292.0" y="415.2" text-anchor="middle">4000</text>
<text x="350.7" y="415.2" text-anchor="middle">5000</text>
<text x="409.4" y="415.2" text-anchor="middle">6000</text>
<text x="468.2" y="415.2" text-anchor="middle">7000</text>
<text x="526.9" y="415.2" text-anchor="middle">8000</text>
<text x="50.5" y="18.0" text-anchor="end">0</text>
<text x="50.5" y="65.8" text-anchor="end">-5</text>
<text x="50.5" y="113.6" text-anchor="end">-10</text>
<text x="50.5" y="161.4" text-anchor="end">-15</text>
<text x="50.5" y="209.2" text-anchor="end">-20</text>
<text x="50.5" y="256.9" text-anchor="end">-25</text>
<text x="50.5" y="304.7" text-anchor="end">-30</text>
<text x="50.5" y="352.5" text-anchor="end">-35</text>
<text x="50.5" y="400.3" text-anchor="end">-40</text>
</g>
<text x="292" y="437.2" font-size="16.13px" text-anchor="middle">iteration</text>
<text transform="translate(21.6,203) rotate(-90)" font-size="16.13px" text-anchor="middle">MSD(dB)</text>
<rect x="391.5" y="24" width="123.8" height="143.8" fill="#fff" stroke="#333" stroke-width="1.2"/>
<g font-size="13.5px">
<path d="M396.3,34.8 H441.1" stroke="#ff0000" stroke-width="3.1" fill="none"/>
<text x="443.9" y="39.5">AP(K=1)</text>
<path d="M396.3,52.6 H441.1" stroke="#00ff00" stroke-width="3.1" fill="none"/>
<text x="443.9" y="57.3">AP(K=8)</text>
<path d="M396.3,70.4 H441.1" stroke="#ff00ff" stroke-width="3.1" fill="none"/>
<text x="443.9" y="75.1">CAP</text>
<path d="M396.3,88.2 H441.1" stroke="#0000ff" stroke-width="3.1" fill="none"/>
<text x="443.9" y="92.9">CAP<tspan dx="1.6" dy="-1.1" font-size="10.5px">−</tspan><tspan dx="0.9" dy="1.1"> </tspan>WF</text>
<path d="M396.3,105.9 H441.1" stroke="#7e2f8e" stroke-width="3.1" fill="none"/>
<text x="443.9" y="110.6">VSS<tspan dx="1.6" dy="-1.1" font-size="10.5px">−</tspan><tspan dx="0.9" dy="1.1"> </tspan>AP</text>
<path d="M396.3,123.6 H441.1" stroke="#00ffff" stroke-width="3.1" fill="none"/>
<text x="443.9" y="128.3">EAP</text>
<path d="M396.3,141.2 H441.1" stroke="#77ac30" stroke-width="3.1" fill="none" stroke-dasharray="11.2,2.9,3.6,2.9"/>
<text x="443.9" y="145.9">AP<tspan dx="1.6" dy="-1.1" font-size="10.5px">−</tspan><tspan dx="0.9" dy="1.1"> </tspan>NLMS</text>
<path d="M396.3,158.8 H441.1" stroke="#000000" stroke-width="4.4" fill="none"/>
<text x="443.9" y="163.5">Proposed</text>
</g>
</svg></body></html>
